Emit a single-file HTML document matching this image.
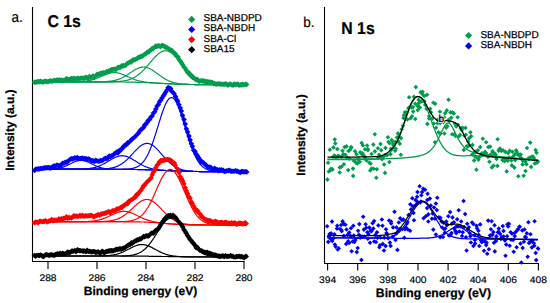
<!DOCTYPE html>
<html><head><meta charset="utf-8"><style>
html,body{margin:0;padding:0;background:#fff;}
body{width:550px;height:303px;overflow:hidden;}
svg{display:block;}
text{font-family:"Liberation Sans",sans-serif;fill:#000;text-rendering:geometricPrecision;}
.tk{font-size:9.5px;stroke:#000;stroke-width:0.15px;}
.lg{font-size:10px;stroke:#000;stroke-width:0.25px;}
.ax{font-size:12px;font-weight:bold;stroke:#000;stroke-width:0.25px;}
.ttl{font-size:15.5px;font-weight:bold;stroke:#000;stroke-width:0.2px;}
.pl{font-size:13.5px;stroke:#000;stroke-width:0.15px;}
</style></head><body>
<svg width="550" height="303" viewBox="0 0 550 303">
<g stroke="#000" stroke-width="1.1" fill="none">
<line x1="32.5" y1="7" x2="32.5" y2="261.5"/>
<line x1="32" y1="261.5" x2="244.5" y2="261.5"/>
<line x1="324.5" y1="7" x2="324.5" y2="263.5"/>
<line x1="324" y1="263.5" x2="539" y2="263.5"/>
</g>
<g stroke="#000" stroke-width="1.1">
<line x1="48.0" y1="261" x2="48.0" y2="269" />
<text transform="translate(48.0 281) scale(1.08 1)" text-anchor="middle" class="tk">288</text>
<line x1="97.0" y1="261" x2="97.0" y2="269" />
<text transform="translate(97.0 281) scale(1.08 1)" text-anchor="middle" class="tk">286</text>
<line x1="146.0" y1="261" x2="146.0" y2="269" />
<text transform="translate(146.0 281) scale(1.08 1)" text-anchor="middle" class="tk">284</text>
<line x1="195.0" y1="261" x2="195.0" y2="269" />
<text transform="translate(195.0 281) scale(1.08 1)" text-anchor="middle" class="tk">282</text>
<line x1="244.0" y1="261" x2="244.0" y2="269" />
<text transform="translate(244.0 281) scale(1.08 1)" text-anchor="middle" class="tk">280</text>
<line x1="327.6" y1="263" x2="327.6" y2="270.5" />
<text transform="translate(327.6 283) scale(1.08 1)" text-anchor="middle" class="tk">394</text>
<line x1="357.7" y1="263" x2="357.7" y2="270.5" />
<text transform="translate(357.7 283) scale(1.08 1)" text-anchor="middle" class="tk">396</text>
<line x1="387.8" y1="263" x2="387.8" y2="270.5" />
<text transform="translate(387.8 283) scale(1.08 1)" text-anchor="middle" class="tk">398</text>
<line x1="418.0" y1="263" x2="418.0" y2="270.5" />
<text transform="translate(418.0 283) scale(1.08 1)" text-anchor="middle" class="tk">400</text>
<line x1="448.1" y1="263" x2="448.1" y2="270.5" />
<text transform="translate(448.1 283) scale(1.08 1)" text-anchor="middle" class="tk">402</text>
<line x1="478.2" y1="263" x2="478.2" y2="270.5" />
<text transform="translate(478.2 283) scale(1.08 1)" text-anchor="middle" class="tk">404</text>
<line x1="508.3" y1="263" x2="508.3" y2="270.5" />
<text transform="translate(508.3 283) scale(1.08 1)" text-anchor="middle" class="tk">406</text>
<line x1="538.4" y1="263" x2="538.4" y2="270.5" />
<text transform="translate(538.4 283) scale(1.08 1)" text-anchor="middle" class="tk">408</text>
</g>
<path d="M34.0 81.8 L34.5 81.8 L35.0 81.8 L35.5 81.8 L36.0 81.8 L36.5 81.8 L37.0 81.8 L37.5 81.8 L38.0 81.8 L38.5 81.8 L39.0 81.8 L39.5 81.8 L40.0 81.8 L40.5 81.8 L41.0 81.8 L41.5 81.8 L42.0 81.8 L42.5 81.8 L43.0 81.8 L43.5 81.8 L44.0 81.8 L44.5 81.8 L45.0 81.8 L45.5 81.8 L46.0 81.8 L46.5 81.8 L47.0 81.8 L47.5 81.8 L48.0 81.8 L48.5 81.8 L49.0 81.8 L49.5 81.8 L50.0 81.8 L50.5 81.8 L51.0 81.8 L51.5 81.8 L52.0 81.8 L52.5 81.8 L53.0 81.8 L53.5 81.8 L54.0 81.8 L54.5 81.8 L55.0 81.8 L55.5 81.8 L56.0 81.8 L56.5 81.8 L57.0 81.8 L57.5 81.8 L58.0 81.8 L58.5 81.8 L59.0 81.8 L59.5 81.8 L60.0 81.8 L60.5 81.8 L61.0 81.8 L61.5 81.8 L62.0 81.8 L62.5 81.8 L63.0 81.8 L63.5 81.8 L64.0 81.8 L64.5 81.8 L65.0 81.8 L65.5 81.8 L66.0 81.8 L66.5 81.8 L67.0 81.8 L67.5 81.8 L68.0 81.8 L68.5 81.8 L69.0 81.8 L69.5 81.8 L70.0 81.8 L70.5 81.8 L71.0 81.8 L71.5 81.8 L72.0 81.8 L72.5 81.8 L73.0 81.8 L73.5 81.8 L74.0 81.8 L74.5 81.8 L75.0 81.8 L75.5 81.8 L76.0 81.8 L76.5 81.8 L77.0 81.8 L77.5 81.8 L78.0 81.8 L78.5 81.8 L79.0 81.8 L79.5 81.8 L80.0 81.8 L80.5 81.8 L81.0 81.8 L81.5 81.8 L82.0 81.8 L82.5 81.8 L83.0 81.8 L83.5 81.8 L84.0 81.8 L84.5 81.8 L85.0 81.8 L85.5 81.8 L86.0 81.8 L86.5 81.8 L87.0 81.8 L87.5 81.8 L88.0 81.8 L88.5 81.8 L89.0 81.8 L89.5 81.8 L90.0 81.8 L90.5 81.8 L91.0 81.8 L91.5 81.8 L92.0 81.8 L92.5 81.8 L93.0 81.8 L93.5 81.8 L94.0 81.8 L94.5 81.8 L95.0 81.8 L95.5 81.8 L96.0 81.8 L96.5 81.8 L97.0 81.8 L97.5 81.8 L98.0 81.8 L98.5 81.8 L99.0 81.8 L99.5 81.8 L100.0 81.8 L100.5 81.8 L101.0 81.8 L101.5 81.8 L102.0 81.8 L102.5 81.8 L103.0 81.9 L103.5 81.9 L104.0 81.9 L104.5 81.9 L105.0 81.9 L105.5 81.9 L106.0 81.9 L106.5 81.9 L107.0 81.9 L107.5 81.9 L108.0 81.9 L108.5 81.9 L109.0 81.9 L109.5 81.9 L110.0 81.9 L110.5 81.9 L111.0 81.9 L111.5 81.9 L112.0 81.9 L112.5 81.9 L113.0 81.9 L113.5 81.9 L114.0 81.9 L114.5 81.9 L115.0 81.9 L115.5 81.9 L116.0 81.9 L116.5 81.9 L117.0 81.9 L117.5 81.9 L118.0 81.9 L118.5 81.9 L119.0 82.0 L119.5 82.0 L120.0 82.0 L120.5 82.0 L121.0 82.0 L121.5 82.0 L122.0 82.0 L122.5 82.0 L123.0 82.0 L123.5 82.0 L124.0 82.0 L124.5 82.0 L125.0 82.0 L125.5 82.0 L126.0 82.0 L126.5 82.1 L127.0 82.1 L127.5 82.1 L128.0 82.1 L128.5 82.1 L129.0 82.1 L129.5 82.1 L130.0 82.1 L130.5 82.1 L131.0 82.1 L131.5 82.1 L132.0 82.2 L132.5 82.2 L133.0 82.2 L133.5 82.2 L134.0 82.2 L134.5 82.2 L135.0 82.2 L135.5 82.2 L136.0 82.3 L136.5 82.3 L137.0 82.3 L137.5 82.3 L138.0 82.3 L138.5 82.3 L139.0 82.3 L139.5 82.4 L140.0 82.4 L140.5 82.4 L141.0 82.4 L141.5 82.4 L142.0 82.4 L142.5 82.5 L143.0 82.5 L143.5 82.5 L144.0 82.5 L144.5 82.5 L145.0 82.6 L145.5 82.6 L146.0 82.6 L146.5 82.6 L147.0 82.6 L147.5 82.7 L148.0 82.7 L148.5 82.7 L149.0 82.7 L149.5 82.8 L150.0 82.8 L150.5 82.8 L151.0 82.8 L151.5 82.9 L152.0 82.9 L152.5 82.9 L153.0 82.9 L153.5 83.0 L154.0 83.0 L154.5 83.0 L155.0 83.0 L155.5 83.1 L156.0 83.1 L156.5 83.1 L157.0 83.1 L157.5 83.2 L158.0 83.2 L158.5 83.2 L159.0 83.2 L159.5 83.3 L160.0 83.3 L160.5 83.3 L161.0 83.4 L161.5 83.4 L162.0 83.4 L162.5 83.4 L163.0 83.5 L163.5 83.5 L164.0 83.5 L164.5 83.5 L165.0 83.6 L165.5 83.6 L166.0 83.6 L166.5 83.6 L167.0 83.7 L167.5 83.7 L168.0 83.7 L168.5 83.7 L169.0 83.8 L169.5 83.8 L170.0 83.8 L170.5 83.8 L171.0 83.9 L171.5 83.9 L172.0 83.9 L172.5 83.9 L173.0 84.0 L173.5 84.0 L174.0 84.0 L174.5 84.0 L175.0 84.0 L175.5 84.1 L176.0 84.1 L176.5 84.1 L177.0 84.1 L177.5 84.1 L178.0 84.2 L178.5 84.2 L179.0 84.2 L179.5 84.2 L180.0 84.2 L180.5 84.2 L181.0 84.3 L181.5 84.3 L182.0 84.3 L182.5 84.3 L183.0 84.3 L183.5 84.3 L184.0 84.3 L184.5 84.4 L185.0 84.4 L185.5 84.4 L186.0 84.4 L186.5 84.4 L187.0 84.4 L187.5 84.4 L188.0 84.4 L188.5 84.5 L189.0 84.5 L189.5 84.5 L190.0 84.5 L190.5 84.5 L191.0 84.5 L191.5 84.5 L192.0 84.5 L192.5 84.5 L193.0 84.5 L193.5 84.5 L194.0 84.6 L194.5 84.6 L195.0 84.6 L195.5 84.6 L196.0 84.6 L196.5 84.6 L197.0 84.6 L197.5 84.6 L198.0 84.6 L198.5 84.6 L199.0 84.6 L199.5 84.6 L200.0 84.6 L200.5 84.6 L201.0 84.6 L201.5 84.7 L202.0 84.7 L202.5 84.7 L203.0 84.7 L203.5 84.7 L204.0 84.7 L204.5 84.7 L205.0 84.7 L205.5 84.7 L206.0 84.7 L206.5 84.7 L207.0 84.7 L207.5 84.7 L208.0 84.7 L208.5 84.7 L209.0 84.7 L209.5 84.7 L210.0 84.7 L210.5 84.7 L211.0 84.7 L211.5 84.7 L212.0 84.7 L212.5 84.7 L213.0 84.7 L213.5 84.7 L214.0 84.7 L214.5 84.7 L215.0 84.7 L215.5 84.7 L216.0 84.7 L216.5 84.7 L217.0 84.7 L217.5 84.8 L218.0 84.8 L218.5 84.8 L219.0 84.8 L219.5 84.8 L220.0 84.8 L220.5 84.8 L221.0 84.8 L221.5 84.8 L222.0 84.8 L222.5 84.8 L223.0 84.8 L223.5 84.8 L224.0 84.8 L224.5 84.8 L225.0 84.8 L225.5 84.8 L226.0 84.8 L226.5 84.8 L227.0 84.8 L227.5 84.8 L228.0 84.8 L228.5 84.8 L229.0 84.8 L229.5 84.8 L230.0 84.8 L230.5 84.8 L231.0 84.8 L231.5 84.8 L232.0 84.8 L232.5 84.8 L233.0 84.8 L233.5 84.8 L234.0 84.8 L234.5 84.8 L235.0 84.8 L235.5 84.8 L236.0 84.8 L236.5 84.8 L237.0 84.8 L237.5 84.8 L238.0 84.8 L238.5 84.8 L239.0 84.8 L239.5 84.8 L240.0 84.8 L240.5 84.8 L241.0 84.8 L241.5 84.8 L242.0 84.8 L242.5 84.8 L243.0 84.8 L243.5 84.8 L244.0 84.8 L244.5 84.8 L245.0 84.8 L245.5 84.8 L246.0 84.8" fill="none" stroke="#009d4c" stroke-width="1.2"/>
<path d="M34.0 81.8 L34.5 81.8 L35.0 81.8 L35.5 81.8 L36.0 81.8 L36.5 81.8 L37.0 81.8 L37.5 81.8 L38.0 81.8 L38.5 81.8 L39.0 81.8 L39.5 81.8 L40.0 81.8 L40.5 81.8 L41.0 81.8 L41.5 81.8 L42.0 81.8 L42.5 81.8 L43.0 81.8 L43.5 81.8 L44.0 81.8 L44.5 81.8 L45.0 81.8 L45.5 81.8 L46.0 81.8 L46.5 81.8 L47.0 81.8 L47.5 81.8 L48.0 81.8 L48.5 81.8 L49.0 81.8 L49.5 81.8 L50.0 81.8 L50.5 81.8 L51.0 81.8 L51.5 81.8 L52.0 81.8 L52.5 81.8 L53.0 81.8 L53.5 81.8 L54.0 81.8 L54.5 81.8 L55.0 81.8 L55.5 81.8 L56.0 81.8 L56.5 81.8 L57.0 81.8 L57.5 81.8 L58.0 81.8 L58.5 81.8 L59.0 81.8 L59.5 81.8 L60.0 81.8 L60.5 81.8 L61.0 81.8 L61.5 81.8 L62.0 81.8 L62.5 81.8 L63.0 81.8 L63.5 81.8 L64.0 81.8 L64.5 81.8 L65.0 81.8 L65.5 81.8 L66.0 81.8 L66.5 81.8 L67.0 81.8 L67.5 81.8 L68.0 81.8 L68.5 81.8 L69.0 81.8 L69.5 81.8 L70.0 81.8 L70.5 81.8 L71.0 81.8 L71.5 81.8 L72.0 81.8 L72.5 81.8 L73.0 81.8 L73.5 81.8 L74.0 81.7 L74.5 81.7 L75.0 81.7 L75.5 81.7 L76.0 81.7 L76.5 81.7 L77.0 81.7 L77.5 81.7 L78.0 81.7 L78.5 81.6 L79.0 81.6 L79.5 81.6 L80.0 81.6 L80.5 81.5 L81.0 81.5 L81.5 81.5 L82.0 81.5 L82.5 81.4 L83.0 81.4 L83.5 81.3 L84.0 81.3 L84.5 81.2 L85.0 81.2 L85.5 81.1 L86.0 81.1 L86.5 81.0 L87.0 80.9 L87.5 80.8 L88.0 80.7 L88.5 80.7 L89.0 80.6 L89.5 80.5 L90.0 80.4 L90.5 80.2 L91.0 80.1 L91.5 80.0 L92.0 79.9 L92.5 79.7 L93.0 79.6 L93.5 79.4 L94.0 79.3 L94.5 79.1 L95.0 78.9 L95.5 78.8 L96.0 78.6 L96.5 78.4 L97.0 78.2 L97.5 78.0 L98.0 77.8 L98.5 77.6 L99.0 77.4 L99.5 77.2 L100.0 77.0 L100.5 76.8 L101.0 76.5 L101.5 76.3 L102.0 76.1 L102.5 75.9 L103.0 75.7 L103.5 75.4 L104.0 75.2 L104.5 75.0 L105.0 74.8 L105.5 74.6 L106.0 74.4 L106.5 74.2 L107.0 74.0 L107.5 73.9 L108.0 73.7 L108.5 73.6 L109.0 73.4 L109.5 73.3 L110.0 73.1 L110.5 73.0 L111.0 72.9 L111.5 72.8 L112.0 72.8 L112.5 72.7 L113.0 72.7 L113.5 72.6 L114.0 72.6 L114.5 72.6 L115.0 72.6 L115.5 72.6 L116.0 72.7 L116.5 72.7 L117.0 72.8 L117.5 72.9 L118.0 73.0 L118.5 73.1 L119.0 73.2 L119.5 73.3 L120.0 73.5 L120.5 73.6 L121.0 73.8 L121.5 74.0 L122.0 74.2 L122.5 74.4 L123.0 74.6 L123.5 74.8 L124.0 75.0 L124.5 75.2 L125.0 75.4 L125.5 75.6 L126.0 75.9 L126.5 76.1 L127.0 76.3 L127.5 76.5 L128.0 76.8 L128.5 77.0 L129.0 77.2 L129.5 77.5 L130.0 77.7 L130.5 77.9 L131.0 78.1 L131.5 78.3 L132.0 78.5 L132.5 78.7 L133.0 78.9 L133.5 79.1 L134.0 79.3 L134.5 79.5 L135.0 79.7 L135.5 79.9 L136.0 80.0 L136.5 80.2 L137.0 80.3 L137.5 80.5 L138.0 80.6 L138.5 80.8 L139.0 80.9 L139.5 81.0 L140.0 81.1 L140.5 81.2 L141.0 81.3 L141.5 81.4 L142.0 81.5 L142.5 81.6 L143.0 81.7 L143.5 81.8 L144.0 81.9 L144.5 82.0 L145.0 82.0 L145.5 82.1 L146.0 82.2 L146.5 82.2 L147.0 82.3 L147.5 82.3 L148.0 82.4 L148.5 82.5 L149.0 82.5 L149.5 82.5 L150.0 82.6 L150.5 82.6 L151.0 82.7 L151.5 82.7 L152.0 82.8 L152.5 82.8 L153.0 82.8 L153.5 82.9 L154.0 82.9 L154.5 82.9 L155.0 83.0 L155.5 83.0 L156.0 83.0 L156.5 83.1 L157.0 83.1 L157.5 83.1 L158.0 83.2 L158.5 83.2 L159.0 83.2 L159.5 83.3 L160.0 83.3 L160.5 83.3 L161.0 83.3 L161.5 83.4 L162.0 83.4 L162.5 83.4 L163.0 83.5 L163.5 83.5 L164.0 83.5 L164.5 83.5 L165.0 83.6 L165.5 83.6 L166.0 83.6 L166.5 83.6 L167.0 83.7 L167.5 83.7 L168.0 83.7 L168.5 83.7 L169.0 83.8 L169.5 83.8 L170.0 83.8 L170.5 83.8 L171.0 83.9 L171.5 83.9 L172.0 83.9 L172.5 83.9 L173.0 84.0 L173.5 84.0 L174.0 84.0 L174.5 84.0 L175.0 84.0 L175.5 84.1 L176.0 84.1 L176.5 84.1 L177.0 84.1 L177.5 84.1 L178.0 84.2 L178.5 84.2 L179.0 84.2 L179.5 84.2 L180.0 84.2 L180.5 84.2 L181.0 84.3 L181.5 84.3 L182.0 84.3 L182.5 84.3 L183.0 84.3 L183.5 84.3 L184.0 84.3 L184.5 84.4 L185.0 84.4 L185.5 84.4 L186.0 84.4 L186.5 84.4 L187.0 84.4 L187.5 84.4 L188.0 84.4 L188.5 84.5 L189.0 84.5 L189.5 84.5 L190.0 84.5 L190.5 84.5 L191.0 84.5 L191.5 84.5 L192.0 84.5 L192.5 84.5 L193.0 84.5 L193.5 84.5 L194.0 84.6 L194.5 84.6 L195.0 84.6 L195.5 84.6 L196.0 84.6 L196.5 84.6 L197.0 84.6 L197.5 84.6 L198.0 84.6 L198.5 84.6 L199.0 84.6 L199.5 84.6 L200.0 84.6 L200.5 84.6 L201.0 84.6 L201.5 84.7 L202.0 84.7 L202.5 84.7 L203.0 84.7 L203.5 84.7 L204.0 84.7 L204.5 84.7 L205.0 84.7 L205.5 84.7 L206.0 84.7 L206.5 84.7 L207.0 84.7 L207.5 84.7 L208.0 84.7 L208.5 84.7 L209.0 84.7 L209.5 84.7 L210.0 84.7 L210.5 84.7 L211.0 84.7 L211.5 84.7 L212.0 84.7 L212.5 84.7 L213.0 84.7 L213.5 84.7 L214.0 84.7 L214.5 84.7 L215.0 84.7 L215.5 84.7 L216.0 84.7 L216.5 84.7 L217.0 84.7 L217.5 84.8 L218.0 84.8 L218.5 84.8 L219.0 84.8 L219.5 84.8 L220.0 84.8 L220.5 84.8 L221.0 84.8 L221.5 84.8 L222.0 84.8 L222.5 84.8 L223.0 84.8 L223.5 84.8 L224.0 84.8 L224.5 84.8 L225.0 84.8 L225.5 84.8 L226.0 84.8 L226.5 84.8 L227.0 84.8 L227.5 84.8 L228.0 84.8 L228.5 84.8 L229.0 84.8 L229.5 84.8 L230.0 84.8 L230.5 84.8 L231.0 84.8 L231.5 84.8 L232.0 84.8 L232.5 84.8 L233.0 84.8 L233.5 84.8 L234.0 84.8 L234.5 84.8 L235.0 84.8 L235.5 84.8 L236.0 84.8 L236.5 84.8 L237.0 84.8 L237.5 84.8 L238.0 84.8 L238.5 84.8 L239.0 84.8 L239.5 84.8 L240.0 84.8 L240.5 84.8 L241.0 84.8 L241.5 84.8 L242.0 84.8 L242.5 84.8 L243.0 84.8 L243.5 84.8 L244.0 84.8 L244.5 84.8 L245.0 84.8 L245.5 84.8 L246.0 84.8" fill="none" stroke="#009d4c" stroke-width="1.2"/>
<path d="M34.0 81.8 L34.5 81.8 L35.0 81.8 L35.5 81.8 L36.0 81.8 L36.5 81.8 L37.0 81.8 L37.5 81.8 L38.0 81.8 L38.5 81.8 L39.0 81.8 L39.5 81.8 L40.0 81.8 L40.5 81.8 L41.0 81.8 L41.5 81.8 L42.0 81.8 L42.5 81.8 L43.0 81.8 L43.5 81.8 L44.0 81.8 L44.5 81.8 L45.0 81.8 L45.5 81.8 L46.0 81.8 L46.5 81.8 L47.0 81.8 L47.5 81.8 L48.0 81.8 L48.5 81.8 L49.0 81.8 L49.5 81.8 L50.0 81.8 L50.5 81.8 L51.0 81.8 L51.5 81.8 L52.0 81.8 L52.5 81.8 L53.0 81.8 L53.5 81.8 L54.0 81.8 L54.5 81.8 L55.0 81.8 L55.5 81.8 L56.0 81.8 L56.5 81.8 L57.0 81.8 L57.5 81.8 L58.0 81.8 L58.5 81.8 L59.0 81.8 L59.5 81.8 L60.0 81.8 L60.5 81.8 L61.0 81.8 L61.5 81.8 L62.0 81.8 L62.5 81.8 L63.0 81.8 L63.5 81.8 L64.0 81.8 L64.5 81.8 L65.0 81.8 L65.5 81.8 L66.0 81.8 L66.5 81.8 L67.0 81.8 L67.5 81.8 L68.0 81.8 L68.5 81.8 L69.0 81.8 L69.5 81.8 L70.0 81.8 L70.5 81.8 L71.0 81.8 L71.5 81.8 L72.0 81.8 L72.5 81.8 L73.0 81.8 L73.5 81.8 L74.0 81.8 L74.5 81.8 L75.0 81.8 L75.5 81.8 L76.0 81.8 L76.5 81.8 L77.0 81.8 L77.5 81.8 L78.0 81.8 L78.5 81.8 L79.0 81.8 L79.5 81.8 L80.0 81.8 L80.5 81.8 L81.0 81.8 L81.5 81.8 L82.0 81.8 L82.5 81.8 L83.0 81.8 L83.5 81.8 L84.0 81.8 L84.5 81.8 L85.0 81.8 L85.5 81.8 L86.0 81.8 L86.5 81.8 L87.0 81.8 L87.5 81.8 L88.0 81.8 L88.5 81.8 L89.0 81.8 L89.5 81.8 L90.0 81.8 L90.5 81.8 L91.0 81.8 L91.5 81.8 L92.0 81.8 L92.5 81.8 L93.0 81.8 L93.5 81.8 L94.0 81.8 L94.5 81.8 L95.0 81.8 L95.5 81.8 L96.0 81.8 L96.5 81.8 L97.0 81.8 L97.5 81.8 L98.0 81.8 L98.5 81.8 L99.0 81.8 L99.5 81.8 L100.0 81.8 L100.5 81.7 L101.0 81.7 L101.5 81.7 L102.0 81.7 L102.5 81.7 L103.0 81.7 L103.5 81.7 L104.0 81.7 L104.5 81.6 L105.0 81.6 L105.5 81.6 L106.0 81.6 L106.5 81.5 L107.0 81.5 L107.5 81.4 L108.0 81.4 L108.5 81.4 L109.0 81.3 L109.5 81.3 L110.0 81.2 L110.5 81.1 L111.0 81.1 L111.5 81.0 L112.0 80.9 L112.5 80.8 L113.0 80.8 L113.5 80.7 L114.0 80.6 L114.5 80.4 L115.0 80.3 L115.5 80.2 L116.0 80.1 L116.5 79.9 L117.0 79.8 L117.5 79.6 L118.0 79.5 L118.5 79.3 L119.0 79.1 L119.5 78.9 L120.0 78.7 L120.5 78.5 L121.0 78.3 L121.5 78.0 L122.0 77.8 L122.5 77.6 L123.0 77.3 L123.5 77.0 L124.0 76.8 L124.5 76.5 L125.0 76.2 L125.5 75.9 L126.0 75.6 L126.5 75.3 L127.0 75.0 L127.5 74.7 L128.0 74.3 L128.5 74.0 L129.0 73.7 L129.5 73.3 L130.0 73.0 L130.5 72.7 L131.0 72.3 L131.5 72.0 L132.0 71.7 L132.5 71.3 L133.0 71.0 L133.5 70.7 L134.0 70.4 L134.5 70.1 L135.0 69.8 L135.5 69.5 L136.0 69.2 L136.5 69.0 L137.0 68.7 L137.5 68.5 L138.0 68.3 L138.5 68.1 L139.0 67.9 L139.5 67.7 L140.0 67.5 L140.5 67.4 L141.0 67.3 L141.5 67.2 L142.0 67.1 L142.5 67.1 L143.0 67.0 L143.5 67.0 L144.0 67.0 L144.5 67.1 L145.0 67.1 L145.5 67.2 L146.0 67.3 L146.5 67.4 L147.0 67.5 L147.5 67.7 L148.0 67.9 L148.5 68.0 L149.0 68.3 L149.5 68.5 L150.0 68.7 L150.5 69.0 L151.0 69.3 L151.5 69.5 L152.0 69.8 L152.5 70.2 L153.0 70.5 L153.5 70.8 L154.0 71.2 L154.5 71.5 L155.0 71.9 L155.5 72.2 L156.0 72.6 L156.5 73.0 L157.0 73.3 L157.5 73.7 L158.0 74.1 L158.5 74.4 L159.0 74.8 L159.5 75.2 L160.0 75.5 L160.5 75.9 L161.0 76.3 L161.5 76.6 L162.0 77.0 L162.5 77.3 L163.0 77.6 L163.5 78.0 L164.0 78.3 L164.5 78.6 L165.0 78.9 L165.5 79.2 L166.0 79.4 L166.5 79.7 L167.0 80.0 L167.5 80.2 L168.0 80.5 L168.5 80.7 L169.0 80.9 L169.5 81.1 L170.0 81.3 L170.5 81.5 L171.0 81.7 L171.5 81.9 L172.0 82.1 L172.5 82.2 L173.0 82.4 L173.5 82.5 L174.0 82.6 L174.5 82.8 L175.0 82.9 L175.5 83.0 L176.0 83.1 L176.5 83.2 L177.0 83.3 L177.5 83.4 L178.0 83.5 L178.5 83.6 L179.0 83.6 L179.5 83.7 L180.0 83.8 L180.5 83.8 L181.0 83.9 L181.5 83.9 L182.0 84.0 L182.5 84.0 L183.0 84.1 L183.5 84.1 L184.0 84.1 L184.5 84.2 L185.0 84.2 L185.5 84.2 L186.0 84.3 L186.5 84.3 L187.0 84.3 L187.5 84.3 L188.0 84.4 L188.5 84.4 L189.0 84.4 L189.5 84.4 L190.0 84.4 L190.5 84.5 L191.0 84.5 L191.5 84.5 L192.0 84.5 L192.5 84.5 L193.0 84.5 L193.5 84.5 L194.0 84.5 L194.5 84.5 L195.0 84.6 L195.5 84.6 L196.0 84.6 L196.5 84.6 L197.0 84.6 L197.5 84.6 L198.0 84.6 L198.5 84.6 L199.0 84.6 L199.5 84.6 L200.0 84.6 L200.5 84.6 L201.0 84.6 L201.5 84.7 L202.0 84.7 L202.5 84.7 L203.0 84.7 L203.5 84.7 L204.0 84.7 L204.5 84.7 L205.0 84.7 L205.5 84.7 L206.0 84.7 L206.5 84.7 L207.0 84.7 L207.5 84.7 L208.0 84.7 L208.5 84.7 L209.0 84.7 L209.5 84.7 L210.0 84.7 L210.5 84.7 L211.0 84.7 L211.5 84.7 L212.0 84.7 L212.5 84.7 L213.0 84.7 L213.5 84.7 L214.0 84.7 L214.5 84.7 L215.0 84.7 L215.5 84.7 L216.0 84.7 L216.5 84.7 L217.0 84.7 L217.5 84.8 L218.0 84.8 L218.5 84.8 L219.0 84.8 L219.5 84.8 L220.0 84.8 L220.5 84.8 L221.0 84.8 L221.5 84.8 L222.0 84.8 L222.5 84.8 L223.0 84.8 L223.5 84.8 L224.0 84.8 L224.5 84.8 L225.0 84.8 L225.5 84.8 L226.0 84.8 L226.5 84.8 L227.0 84.8 L227.5 84.8 L228.0 84.8 L228.5 84.8 L229.0 84.8 L229.5 84.8 L230.0 84.8 L230.5 84.8 L231.0 84.8 L231.5 84.8 L232.0 84.8 L232.5 84.8 L233.0 84.8 L233.5 84.8 L234.0 84.8 L234.5 84.8 L235.0 84.8 L235.5 84.8 L236.0 84.8 L236.5 84.8 L237.0 84.8 L237.5 84.8 L238.0 84.8 L238.5 84.8 L239.0 84.8 L239.5 84.8 L240.0 84.8 L240.5 84.8 L241.0 84.8 L241.5 84.8 L242.0 84.8 L242.5 84.8 L243.0 84.8 L243.5 84.8 L244.0 84.8 L244.5 84.8 L245.0 84.8 L245.5 84.8 L246.0 84.8" fill="none" stroke="#009d4c" stroke-width="1.2"/>
<path d="M34.0 81.8 L34.5 81.8 L35.0 81.8 L35.5 81.8 L36.0 81.8 L36.5 81.8 L37.0 81.8 L37.5 81.8 L38.0 81.8 L38.5 81.8 L39.0 81.8 L39.5 81.8 L40.0 81.8 L40.5 81.8 L41.0 81.8 L41.5 81.8 L42.0 81.8 L42.5 81.8 L43.0 81.8 L43.5 81.8 L44.0 81.8 L44.5 81.8 L45.0 81.8 L45.5 81.8 L46.0 81.8 L46.5 81.8 L47.0 81.8 L47.5 81.8 L48.0 81.8 L48.5 81.8 L49.0 81.8 L49.5 81.8 L50.0 81.8 L50.5 81.8 L51.0 81.8 L51.5 81.8 L52.0 81.8 L52.5 81.8 L53.0 81.8 L53.5 81.8 L54.0 81.8 L54.5 81.8 L55.0 81.8 L55.5 81.8 L56.0 81.8 L56.5 81.8 L57.0 81.8 L57.5 81.8 L58.0 81.8 L58.5 81.8 L59.0 81.8 L59.5 81.8 L60.0 81.8 L60.5 81.8 L61.0 81.8 L61.5 81.8 L62.0 81.8 L62.5 81.8 L63.0 81.8 L63.5 81.8 L64.0 81.8 L64.5 81.8 L65.0 81.8 L65.5 81.8 L66.0 81.8 L66.5 81.8 L67.0 81.8 L67.5 81.8 L68.0 81.8 L68.5 81.8 L69.0 81.8 L69.5 81.8 L70.0 81.8 L70.5 81.8 L71.0 81.8 L71.5 81.8 L72.0 81.8 L72.5 81.8 L73.0 81.8 L73.5 81.8 L74.0 81.8 L74.5 81.8 L75.0 81.8 L75.5 81.8 L76.0 81.8 L76.5 81.8 L77.0 81.8 L77.5 81.8 L78.0 81.8 L78.5 81.8 L79.0 81.8 L79.5 81.8 L80.0 81.8 L80.5 81.8 L81.0 81.8 L81.5 81.8 L82.0 81.8 L82.5 81.8 L83.0 81.8 L83.5 81.8 L84.0 81.8 L84.5 81.8 L85.0 81.8 L85.5 81.8 L86.0 81.8 L86.5 81.8 L87.0 81.8 L87.5 81.8 L88.0 81.8 L88.5 81.8 L89.0 81.8 L89.5 81.8 L90.0 81.8 L90.5 81.8 L91.0 81.8 L91.5 81.8 L92.0 81.8 L92.5 81.8 L93.0 81.8 L93.5 81.8 L94.0 81.8 L94.5 81.8 L95.0 81.8 L95.5 81.8 L96.0 81.8 L96.5 81.8 L97.0 81.8 L97.5 81.8 L98.0 81.8 L98.5 81.8 L99.0 81.8 L99.5 81.8 L100.0 81.8 L100.5 81.8 L101.0 81.8 L101.5 81.8 L102.0 81.8 L102.5 81.8 L103.0 81.8 L103.5 81.8 L104.0 81.8 L104.5 81.8 L105.0 81.8 L105.5 81.8 L106.0 81.8 L106.5 81.8 L107.0 81.8 L107.5 81.8 L108.0 81.8 L108.5 81.8 L109.0 81.8 L109.5 81.8 L110.0 81.8 L110.5 81.8 L111.0 81.8 L111.5 81.8 L112.0 81.8 L112.5 81.8 L113.0 81.8 L113.5 81.7 L114.0 81.7 L114.5 81.7 L115.0 81.7 L115.5 81.7 L116.0 81.7 L116.5 81.6 L117.0 81.6 L117.5 81.6 L118.0 81.5 L118.5 81.5 L119.0 81.5 L119.5 81.4 L120.0 81.4 L120.5 81.4 L121.0 81.3 L121.5 81.2 L122.0 81.2 L122.5 81.1 L123.0 81.1 L123.5 81.0 L124.0 80.9 L124.5 80.8 L125.0 80.7 L125.5 80.6 L126.0 80.5 L126.5 80.4 L127.0 80.3 L127.5 80.2 L128.0 80.0 L128.5 79.9 L129.0 79.7 L129.5 79.6 L130.0 79.4 L130.5 79.2 L131.0 79.0 L131.5 78.8 L132.0 78.6 L132.5 78.4 L133.0 78.1 L133.5 77.9 L134.0 77.6 L134.5 77.3 L135.0 77.0 L135.5 76.7 L136.0 76.4 L136.5 76.1 L137.0 75.8 L137.5 75.4 L138.0 75.0 L138.5 74.7 L139.0 74.3 L139.5 73.8 L140.0 73.4 L140.5 73.0 L141.0 72.5 L141.5 72.1 L142.0 71.6 L142.5 71.1 L143.0 70.6 L143.5 70.1 L144.0 69.6 L144.5 69.0 L145.0 68.5 L145.5 67.9 L146.0 67.4 L146.5 66.8 L147.0 66.2 L147.5 65.7 L148.0 65.1 L148.5 64.5 L149.0 63.9 L149.5 63.3 L150.0 62.7 L150.5 62.1 L151.0 61.5 L151.5 61.0 L152.0 60.4 L152.5 59.8 L153.0 59.2 L153.5 58.7 L154.0 58.1 L154.5 57.6 L155.0 57.0 L155.5 56.5 L156.0 56.0 L156.5 55.5 L157.0 55.1 L157.5 54.6 L158.0 54.2 L158.5 53.8 L159.0 53.4 L159.5 53.0 L160.0 52.7 L160.5 52.4 L161.0 52.1 L161.5 51.8 L162.0 51.6 L162.5 51.4 L163.0 51.2 L163.5 51.1 L164.0 51.0 L164.5 50.9 L165.0 50.8 L165.5 50.8 L166.0 50.8 L166.5 50.9 L167.0 50.9 L167.5 51.0 L168.0 51.2 L168.5 51.3 L169.0 51.5 L169.5 51.8 L170.0 52.0 L170.5 52.3 L171.0 52.6 L171.5 52.9 L172.0 53.3 L172.5 53.7 L173.0 54.1 L173.5 54.5 L174.0 55.0 L174.5 55.5 L175.0 56.0 L175.5 56.5 L176.0 57.0 L176.5 57.6 L177.0 58.1 L177.5 58.7 L178.0 59.3 L178.5 59.9 L179.0 60.5 L179.5 61.1 L180.0 61.7 L180.5 62.3 L181.0 63.0 L181.5 63.6 L182.0 64.2 L182.5 64.9 L183.0 65.5 L183.5 66.1 L184.0 66.7 L184.5 67.4 L185.0 68.0 L185.5 68.6 L186.0 69.2 L186.5 69.8 L187.0 70.4 L187.5 70.9 L188.0 71.5 L188.5 72.0 L189.0 72.6 L189.5 73.1 L190.0 73.6 L190.5 74.1 L191.0 74.6 L191.5 75.1 L192.0 75.6 L192.5 76.0 L193.0 76.4 L193.5 76.9 L194.0 77.3 L194.5 77.7 L195.0 78.0 L195.5 78.4 L196.0 78.8 L196.5 79.1 L197.0 79.4 L197.5 79.7 L198.0 80.0 L198.5 80.3 L199.0 80.6 L199.5 80.8 L200.0 81.1 L200.5 81.3 L201.0 81.5 L201.5 81.7 L202.0 81.9 L202.5 82.1 L203.0 82.3 L203.5 82.5 L204.0 82.6 L204.5 82.8 L205.0 82.9 L205.5 83.0 L206.0 83.2 L206.5 83.3 L207.0 83.4 L207.5 83.5 L208.0 83.6 L208.5 83.7 L209.0 83.8 L209.5 83.8 L210.0 83.9 L210.5 84.0 L211.0 84.1 L211.5 84.1 L212.0 84.2 L212.5 84.2 L213.0 84.3 L213.5 84.3 L214.0 84.3 L214.5 84.4 L215.0 84.4 L215.5 84.4 L216.0 84.5 L216.5 84.5 L217.0 84.5 L217.5 84.5 L218.0 84.6 L218.5 84.6 L219.0 84.6 L219.5 84.6 L220.0 84.6 L220.5 84.7 L221.0 84.7 L221.5 84.7 L222.0 84.7 L222.5 84.7 L223.0 84.7 L223.5 84.7 L224.0 84.7 L224.5 84.7 L225.0 84.7 L225.5 84.7 L226.0 84.7 L226.5 84.7 L227.0 84.7 L227.5 84.8 L228.0 84.8 L228.5 84.8 L229.0 84.8 L229.5 84.8 L230.0 84.8 L230.5 84.8 L231.0 84.8 L231.5 84.8 L232.0 84.8 L232.5 84.8 L233.0 84.8 L233.5 84.8 L234.0 84.8 L234.5 84.8 L235.0 84.8 L235.5 84.8 L236.0 84.8 L236.5 84.8 L237.0 84.8 L237.5 84.8 L238.0 84.8 L238.5 84.8 L239.0 84.8 L239.5 84.8 L240.0 84.8 L240.5 84.8 L241.0 84.8 L241.5 84.8 L242.0 84.8 L242.5 84.8 L243.0 84.8 L243.5 84.8 L244.0 84.8 L244.5 84.8 L245.0 84.8 L245.5 84.8 L246.0 84.8" fill="none" stroke="#009d4c" stroke-width="1.2"/>
<path d="M34.4 79.4l2.8 2.8l-2.8 2.8l-2.8-2.8zM35.6 79.5l2.8 2.8l-2.8 2.8l-2.8-2.8zM37.1 79.1l2.8 2.8l-2.8 2.8l-2.8-2.8zM38.1 78.8l2.8 2.8l-2.8 2.8l-2.8-2.8zM39.4 78.9l2.8 2.8l-2.8 2.8l-2.8-2.8zM40.6 78.6l2.8 2.8l-2.8 2.8l-2.8-2.8zM41.8 79.0l2.8 2.8l-2.8 2.8l-2.8-2.8zM43.0 79.5l2.8 2.8l-2.8 2.8l-2.8-2.8zM44.4 78.6l2.8 2.8l-2.8 2.8l-2.8-2.8zM45.5 78.5l2.8 2.8l-2.8 2.8l-2.8-2.8zM46.7 78.9l2.8 2.8l-2.8 2.8l-2.8-2.8zM48.0 78.8l2.8 2.8l-2.8 2.8l-2.8-2.8zM49.3 78.5l2.8 2.8l-2.8 2.8l-2.8-2.8zM50.5 78.0l2.8 2.8l-2.8 2.8l-2.8-2.8zM51.7 78.3l2.8 2.8l-2.8 2.8l-2.8-2.8zM52.8 78.5l2.8 2.8l-2.8 2.8l-2.8-2.8zM54.0 77.5l2.8 2.8l-2.8 2.8l-2.8-2.8zM55.4 77.9l2.8 2.8l-2.8 2.8l-2.8-2.8zM56.6 77.2l2.8 2.8l-2.8 2.8l-2.8-2.8zM57.8 77.4l2.8 2.8l-2.8 2.8l-2.8-2.8zM59.1 77.1l2.8 2.8l-2.8 2.8l-2.8-2.8zM60.3 77.7l2.8 2.8l-2.8 2.8l-2.8-2.8zM61.5 77.2l2.8 2.8l-2.8 2.8l-2.8-2.8zM62.8 77.8l2.8 2.8l-2.8 2.8l-2.8-2.8zM63.9 77.6l2.8 2.8l-2.8 2.8l-2.8-2.8zM65.3 77.1l2.8 2.8l-2.8 2.8l-2.8-2.8zM66.2 75.9l2.8 2.8l-2.8 2.8l-2.8-2.8zM67.7 76.6l2.8 2.8l-2.8 2.8l-2.8-2.8zM68.8 76.7l2.8 2.8l-2.8 2.8l-2.8-2.8zM70.1 76.6l2.8 2.8l-2.8 2.8l-2.8-2.8zM71.4 75.7l2.8 2.8l-2.8 2.8l-2.8-2.8zM72.6 76.1l2.8 2.8l-2.8 2.8l-2.8-2.8zM73.6 75.7l2.8 2.8l-2.8 2.8l-2.8-2.8zM74.8 75.7l2.8 2.8l-2.8 2.8l-2.8-2.8zM76.2 76.4l2.8 2.8l-2.8 2.8l-2.8-2.8zM77.3 75.4l2.8 2.8l-2.8 2.8l-2.8-2.8zM78.6 75.7l2.8 2.8l-2.8 2.8l-2.8-2.8zM79.9 76.0l2.8 2.8l-2.8 2.8l-2.8-2.8zM80.9 75.2l2.8 2.8l-2.8 2.8l-2.8-2.8zM82.1 75.4l2.8 2.8l-2.8 2.8l-2.8-2.8zM83.5 75.4l2.8 2.8l-2.8 2.8l-2.8-2.8zM84.7 75.2l2.8 2.8l-2.8 2.8l-2.8-2.8zM85.9 74.5l2.8 2.8l-2.8 2.8l-2.8-2.8zM87.2 74.9l2.8 2.8l-2.8 2.8l-2.8-2.8zM88.3 75.3l2.8 2.8l-2.8 2.8l-2.8-2.8zM89.5 73.8l2.8 2.8l-2.8 2.8l-2.8-2.8zM90.8 74.7l2.8 2.8l-2.8 2.8l-2.8-2.8zM92.0 74.0l2.8 2.8l-2.8 2.8l-2.8-2.8zM93.1 73.3l2.8 2.8l-2.8 2.8l-2.8-2.8zM94.6 74.1l2.8 2.8l-2.8 2.8l-2.8-2.8zM95.7 73.1l2.8 2.8l-2.8 2.8l-2.8-2.8zM97.0 71.6l2.8 2.8l-2.8 2.8l-2.8-2.8zM98.1 71.6l2.8 2.8l-2.8 2.8l-2.8-2.8zM99.4 71.3l2.8 2.8l-2.8 2.8l-2.8-2.8zM100.6 70.6l2.8 2.8l-2.8 2.8l-2.8-2.8zM101.8 70.6l2.8 2.8l-2.8 2.8l-2.8-2.8zM103.1 70.0l2.8 2.8l-2.8 2.8l-2.8-2.8zM104.2 70.0l2.8 2.8l-2.8 2.8l-2.8-2.8zM105.6 70.0l2.8 2.8l-2.8 2.8l-2.8-2.8zM106.8 68.7l2.8 2.8l-2.8 2.8l-2.8-2.8zM108.2 68.7l2.8 2.8l-2.8 2.8l-2.8-2.8zM109.1 68.0l2.8 2.8l-2.8 2.8l-2.8-2.8zM110.5 67.8l2.8 2.8l-2.8 2.8l-2.8-2.8zM111.7 66.8l2.8 2.8l-2.8 2.8l-2.8-2.8zM112.9 66.7l2.8 2.8l-2.8 2.8l-2.8-2.8zM114.0 66.5l2.8 2.8l-2.8 2.8l-2.8-2.8zM115.3 66.6l2.8 2.8l-2.8 2.8l-2.8-2.8zM116.6 66.3l2.8 2.8l-2.8 2.8l-2.8-2.8zM117.8 64.7l2.8 2.8l-2.8 2.8l-2.8-2.8zM119.0 64.5l2.8 2.8l-2.8 2.8l-2.8-2.8zM120.2 64.7l2.8 2.8l-2.8 2.8l-2.8-2.8zM121.6 63.0l2.8 2.8l-2.8 2.8l-2.8-2.8zM122.7 63.2l2.8 2.8l-2.8 2.8l-2.8-2.8zM123.7 62.8l2.8 2.8l-2.8 2.8l-2.8-2.8zM125.1 62.8l2.8 2.8l-2.8 2.8l-2.8-2.8zM126.2 61.9l2.8 2.8l-2.8 2.8l-2.8-2.8zM127.3 60.6l2.8 2.8l-2.8 2.8l-2.8-2.8zM128.8 59.9l2.8 2.8l-2.8 2.8l-2.8-2.8zM130.2 59.1l2.8 2.8l-2.8 2.8l-2.8-2.8zM131.3 59.1l2.8 2.8l-2.8 2.8l-2.8-2.8zM132.4 57.6l2.8 2.8l-2.8 2.8l-2.8-2.8zM133.6 57.1l2.8 2.8l-2.8 2.8l-2.8-2.8zM135.1 56.9l2.8 2.8l-2.8 2.8l-2.8-2.8zM136.2 56.2l2.8 2.8l-2.8 2.8l-2.8-2.8zM137.4 55.6l2.8 2.8l-2.8 2.8l-2.8-2.8zM138.6 54.5l2.8 2.8l-2.8 2.8l-2.8-2.8zM139.9 54.3l2.8 2.8l-2.8 2.8l-2.8-2.8zM141.2 53.4l2.8 2.8l-2.8 2.8l-2.8-2.8zM142.4 53.4l2.8 2.8l-2.8 2.8l-2.8-2.8zM143.5 52.4l2.8 2.8l-2.8 2.8l-2.8-2.8zM144.6 51.4l2.8 2.8l-2.8 2.8l-2.8-2.8zM146.0 50.8l2.8 2.8l-2.8 2.8l-2.8-2.8zM147.1 49.5l2.8 2.8l-2.8 2.8l-2.8-2.8zM148.5 49.3l2.8 2.8l-2.8 2.8l-2.8-2.8zM149.5 48.0l2.8 2.8l-2.8 2.8l-2.8-2.8zM150.9 47.4l2.8 2.8l-2.8 2.8l-2.8-2.8zM152.1 45.8l2.8 2.8l-2.8 2.8l-2.8-2.8zM153.2 45.8l2.8 2.8l-2.8 2.8l-2.8-2.8zM154.7 44.2l2.8 2.8l-2.8 2.8l-2.8-2.8zM155.9 43.3l2.8 2.8l-2.8 2.8l-2.8-2.8zM157.0 43.6l2.8 2.8l-2.8 2.8l-2.8-2.8zM158.3 42.9l2.8 2.8l-2.8 2.8l-2.8-2.8zM159.5 43.2l2.8 2.8l-2.8 2.8l-2.8-2.8zM160.4 44.0l2.8 2.8l-2.8 2.8l-2.8-2.8zM161.9 42.6l2.8 2.8l-2.8 2.8l-2.8-2.8zM163.1 42.9l2.8 2.8l-2.8 2.8l-2.8-2.8zM164.4 43.6l2.8 2.8l-2.8 2.8l-2.8-2.8zM165.5 44.3l2.8 2.8l-2.8 2.8l-2.8-2.8zM166.8 44.7l2.8 2.8l-2.8 2.8l-2.8-2.8zM168.0 45.5l2.8 2.8l-2.8 2.8l-2.8-2.8zM169.4 46.6l2.8 2.8l-2.8 2.8l-2.8-2.8zM170.5 47.3l2.8 2.8l-2.8 2.8l-2.8-2.8zM171.7 47.5l2.8 2.8l-2.8 2.8l-2.8-2.8zM173.1 48.9l2.8 2.8l-2.8 2.8l-2.8-2.8zM174.1 50.1l2.8 2.8l-2.8 2.8l-2.8-2.8zM175.3 51.0l2.8 2.8l-2.8 2.8l-2.8-2.8zM176.4 53.1l2.8 2.8l-2.8 2.8l-2.8-2.8zM178.0 54.2l2.8 2.8l-2.8 2.8l-2.8-2.8zM179.1 56.8l2.8 2.8l-2.8 2.8l-2.8-2.8zM180.4 58.4l2.8 2.8l-2.8 2.8l-2.8-2.8zM181.6 60.3l2.8 2.8l-2.8 2.8l-2.8-2.8zM182.7 62.0l2.8 2.8l-2.8 2.8l-2.8-2.8zM184.0 64.3l2.8 2.8l-2.8 2.8l-2.8-2.8zM185.1 65.5l2.8 2.8l-2.8 2.8l-2.8-2.8zM186.4 67.6l2.8 2.8l-2.8 2.8l-2.8-2.8zM187.6 69.7l2.8 2.8l-2.8 2.8l-2.8-2.8zM189.0 69.9l2.8 2.8l-2.8 2.8l-2.8-2.8zM190.1 72.5l2.8 2.8l-2.8 2.8l-2.8-2.8zM191.3 72.5l2.8 2.8l-2.8 2.8l-2.8-2.8zM192.5 74.6l2.8 2.8l-2.8 2.8l-2.8-2.8zM193.7 74.8l2.8 2.8l-2.8 2.8l-2.8-2.8zM195.1 76.4l2.8 2.8l-2.8 2.8l-2.8-2.8zM196.3 76.9l2.8 2.8l-2.8 2.8l-2.8-2.8zM197.4 76.6l2.8 2.8l-2.8 2.8l-2.8-2.8zM198.6 78.2l2.8 2.8l-2.8 2.8l-2.8-2.8zM199.8 78.5l2.8 2.8l-2.8 2.8l-2.8-2.8zM201.1 78.0l2.8 2.8l-2.8 2.8l-2.8-2.8zM202.4 78.1l2.8 2.8l-2.8 2.8l-2.8-2.8zM203.5 78.3l2.8 2.8l-2.8 2.8l-2.8-2.8zM204.8 78.2l2.8 2.8l-2.8 2.8l-2.8-2.8zM206.0 79.3l2.8 2.8l-2.8 2.8l-2.8-2.8zM207.2 78.8l2.8 2.8l-2.8 2.8l-2.8-2.8zM208.3 79.3l2.8 2.8l-2.8 2.8l-2.8-2.8zM209.7 79.2l2.8 2.8l-2.8 2.8l-2.8-2.8zM210.8 79.5l2.8 2.8l-2.8 2.8l-2.8-2.8zM212.2 79.5l2.8 2.8l-2.8 2.8l-2.8-2.8zM213.3 81.0l2.8 2.8l-2.8 2.8l-2.8-2.8zM214.6 80.7l2.8 2.8l-2.8 2.8l-2.8-2.8zM216.0 81.5l2.8 2.8l-2.8 2.8l-2.8-2.8zM217.0 81.2l2.8 2.8l-2.8 2.8l-2.8-2.8zM218.2 81.0l2.8 2.8l-2.8 2.8l-2.8-2.8zM219.5 81.2l2.8 2.8l-2.8 2.8l-2.8-2.8zM220.7 81.2l2.8 2.8l-2.8 2.8l-2.8-2.8zM221.8 81.5l2.8 2.8l-2.8 2.8l-2.8-2.8zM223.2 81.4l2.8 2.8l-2.8 2.8l-2.8-2.8zM224.6 81.5l2.8 2.8l-2.8 2.8l-2.8-2.8zM225.6 81.1l2.8 2.8l-2.8 2.8l-2.8-2.8zM226.8 81.4l2.8 2.8l-2.8 2.8l-2.8-2.8zM227.9 82.5l2.8 2.8l-2.8 2.8l-2.8-2.8zM229.3 81.4l2.8 2.8l-2.8 2.8l-2.8-2.8zM230.4 81.3l2.8 2.8l-2.8 2.8l-2.8-2.8zM231.6 81.9l2.8 2.8l-2.8 2.8l-2.8-2.8zM233.1 82.4l2.8 2.8l-2.8 2.8l-2.8-2.8zM234.1 81.2l2.8 2.8l-2.8 2.8l-2.8-2.8zM235.5 81.8l2.8 2.8l-2.8 2.8l-2.8-2.8zM236.8 81.7l2.8 2.8l-2.8 2.8l-2.8-2.8zM237.9 81.2l2.8 2.8l-2.8 2.8l-2.8-2.8zM239.1 82.4l2.8 2.8l-2.8 2.8l-2.8-2.8zM240.5 82.0l2.8 2.8l-2.8 2.8l-2.8-2.8zM241.5 82.1l2.8 2.8l-2.8 2.8l-2.8-2.8zM242.7 81.6l2.8 2.8l-2.8 2.8l-2.8-2.8zM243.8 82.1l2.8 2.8l-2.8 2.8l-2.8-2.8zM245.2 81.6l2.8 2.8l-2.8 2.8l-2.8-2.8zM246.6 81.7l2.8 2.8l-2.8 2.8l-2.8-2.8z" fill="#009d4c"/>
<path d="M34.0 169.2 L34.5 169.2 L35.0 169.2 L35.5 169.2 L36.0 169.2 L36.5 169.2 L37.0 169.2 L37.5 169.2 L38.0 169.2 L38.5 169.2 L39.0 169.2 L39.5 169.2 L40.0 169.2 L40.5 169.2 L41.0 169.2 L41.5 169.2 L42.0 169.2 L42.5 169.2 L43.0 169.2 L43.5 169.2 L44.0 169.2 L44.5 169.2 L45.0 169.2 L45.5 169.2 L46.0 169.2 L46.5 169.2 L47.0 169.2 L47.5 169.2 L48.0 169.2 L48.5 169.2 L49.0 169.2 L49.5 169.2 L50.0 169.2 L50.5 169.2 L51.0 169.2 L51.5 169.2 L52.0 169.2 L52.5 169.2 L53.0 169.2 L53.5 169.2 L54.0 169.2 L54.5 169.2 L55.0 169.2 L55.5 169.2 L56.0 169.2 L56.5 169.2 L57.0 169.2 L57.5 169.2 L58.0 169.2 L58.5 169.2 L59.0 169.2 L59.5 169.2 L60.0 169.2 L60.5 169.2 L61.0 169.2 L61.5 169.2 L62.0 169.2 L62.5 169.2 L63.0 169.2 L63.5 169.2 L64.0 169.2 L64.5 169.2 L65.0 169.2 L65.5 169.2 L66.0 169.2 L66.5 169.2 L67.0 169.2 L67.5 169.2 L68.0 169.2 L68.5 169.2 L69.0 169.2 L69.5 169.2 L70.0 169.2 L70.5 169.2 L71.0 169.2 L71.5 169.2 L72.0 169.2 L72.5 169.2 L73.0 169.2 L73.5 169.2 L74.0 169.2 L74.5 169.2 L75.0 169.2 L75.5 169.2 L76.0 169.2 L76.5 169.2 L77.0 169.2 L77.5 169.2 L78.0 169.2 L78.5 169.2 L79.0 169.2 L79.5 169.2 L80.0 169.2 L80.5 169.2 L81.0 169.2 L81.5 169.2 L82.0 169.2 L82.5 169.2 L83.0 169.2 L83.5 169.2 L84.0 169.2 L84.5 169.2 L85.0 169.2 L85.5 169.2 L86.0 169.2 L86.5 169.2 L87.0 169.2 L87.5 169.2 L88.0 169.2 L88.5 169.2 L89.0 169.2 L89.5 169.2 L90.0 169.2 L90.5 169.2 L91.0 169.2 L91.5 169.2 L92.0 169.2 L92.5 169.2 L93.0 169.2 L93.5 169.2 L94.0 169.2 L94.5 169.2 L95.0 169.2 L95.5 169.2 L96.0 169.2 L96.5 169.2 L97.0 169.2 L97.5 169.2 L98.0 169.2 L98.5 169.2 L99.0 169.2 L99.5 169.2 L100.0 169.2 L100.5 169.2 L101.0 169.2 L101.5 169.2 L102.0 169.2 L102.5 169.2 L103.0 169.2 L103.5 169.2 L104.0 169.2 L104.5 169.2 L105.0 169.2 L105.5 169.2 L106.0 169.2 L106.5 169.3 L107.0 169.3 L107.5 169.3 L108.0 169.3 L108.5 169.3 L109.0 169.3 L109.5 169.3 L110.0 169.3 L110.5 169.3 L111.0 169.3 L111.5 169.3 L112.0 169.3 L112.5 169.3 L113.0 169.3 L113.5 169.3 L114.0 169.3 L114.5 169.3 L115.0 169.3 L115.5 169.3 L116.0 169.3 L116.5 169.3 L117.0 169.3 L117.5 169.3 L118.0 169.3 L118.5 169.3 L119.0 169.3 L119.5 169.3 L120.0 169.3 L120.5 169.3 L121.0 169.3 L121.5 169.3 L122.0 169.3 L122.5 169.3 L123.0 169.3 L123.5 169.4 L124.0 169.4 L124.5 169.4 L125.0 169.4 L125.5 169.4 L126.0 169.4 L126.5 169.4 L127.0 169.4 L127.5 169.4 L128.0 169.4 L128.5 169.4 L129.0 169.4 L129.5 169.4 L130.0 169.4 L130.5 169.4 L131.0 169.4 L131.5 169.5 L132.0 169.5 L132.5 169.5 L133.0 169.5 L133.5 169.5 L134.0 169.5 L134.5 169.5 L135.0 169.5 L135.5 169.5 L136.0 169.5 L136.5 169.5 L137.0 169.5 L137.5 169.6 L138.0 169.6 L138.5 169.6 L139.0 169.6 L139.5 169.6 L140.0 169.6 L140.5 169.6 L141.0 169.6 L141.5 169.6 L142.0 169.7 L142.5 169.7 L143.0 169.7 L143.5 169.7 L144.0 169.7 L144.5 169.7 L145.0 169.7 L145.5 169.8 L146.0 169.8 L146.5 169.8 L147.0 169.8 L147.5 169.8 L148.0 169.8 L148.5 169.8 L149.0 169.9 L149.5 169.9 L150.0 169.9 L150.5 169.9 L151.0 169.9 L151.5 170.0 L152.0 170.0 L152.5 170.0 L153.0 170.0 L153.5 170.0 L154.0 170.0 L154.5 170.1 L155.0 170.1 L155.5 170.1 L156.0 170.1 L156.5 170.1 L157.0 170.2 L157.5 170.2 L158.0 170.2 L158.5 170.2 L159.0 170.2 L159.5 170.3 L160.0 170.3 L160.5 170.3 L161.0 170.3 L161.5 170.3 L162.0 170.4 L162.5 170.4 L163.0 170.4 L163.5 170.4 L164.0 170.5 L164.5 170.5 L165.0 170.5 L165.5 170.5 L166.0 170.5 L166.5 170.6 L167.0 170.6 L167.5 170.6 L168.0 170.6 L168.5 170.7 L169.0 170.7 L169.5 170.7 L170.0 170.7 L170.5 170.7 L171.0 170.8 L171.5 170.8 L172.0 170.8 L172.5 170.8 L173.0 170.8 L173.5 170.9 L174.0 170.9 L174.5 170.9 L175.0 170.9 L175.5 170.9 L176.0 171.0 L176.5 171.0 L177.0 171.0 L177.5 171.0 L178.0 171.0 L178.5 171.0 L179.0 171.1 L179.5 171.1 L180.0 171.1 L180.5 171.1 L181.0 171.1 L181.5 171.2 L182.0 171.2 L182.5 171.2 L183.0 171.2 L183.5 171.2 L184.0 171.2 L184.5 171.2 L185.0 171.3 L185.5 171.3 L186.0 171.3 L186.5 171.3 L187.0 171.3 L187.5 171.3 L188.0 171.3 L188.5 171.4 L189.0 171.4 L189.5 171.4 L190.0 171.4 L190.5 171.4 L191.0 171.4 L191.5 171.4 L192.0 171.4 L192.5 171.4 L193.0 171.5 L193.5 171.5 L194.0 171.5 L194.5 171.5 L195.0 171.5 L195.5 171.5 L196.0 171.5 L196.5 171.5 L197.0 171.5 L197.5 171.5 L198.0 171.5 L198.5 171.5 L199.0 171.6 L199.5 171.6 L200.0 171.6 L200.5 171.6 L201.0 171.6 L201.5 171.6 L202.0 171.6 L202.5 171.6 L203.0 171.6 L203.5 171.6 L204.0 171.6 L204.5 171.6 L205.0 171.6 L205.5 171.6 L206.0 171.6 L206.5 171.6 L207.0 171.7 L207.5 171.7 L208.0 171.7 L208.5 171.7 L209.0 171.7 L209.5 171.7 L210.0 171.7 L210.5 171.7 L211.0 171.7 L211.5 171.7 L212.0 171.7 L212.5 171.7 L213.0 171.7 L213.5 171.7 L214.0 171.7 L214.5 171.7 L215.0 171.7 L215.5 171.7 L216.0 171.7 L216.5 171.7 L217.0 171.7 L217.5 171.7 L218.0 171.7 L218.5 171.7 L219.0 171.7 L219.5 171.7 L220.0 171.7 L220.5 171.7 L221.0 171.7 L221.5 171.7 L222.0 171.7 L222.5 171.7 L223.0 171.7 L223.5 171.7 L224.0 171.8 L224.5 171.8 L225.0 171.8 L225.5 171.8 L226.0 171.8 L226.5 171.8 L227.0 171.8 L227.5 171.8 L228.0 171.8 L228.5 171.8 L229.0 171.8 L229.5 171.8 L230.0 171.8 L230.5 171.8 L231.0 171.8 L231.5 171.8 L232.0 171.8 L232.5 171.8 L233.0 171.8 L233.5 171.8 L234.0 171.8 L234.5 171.8 L235.0 171.8 L235.5 171.8 L236.0 171.8 L236.5 171.8 L237.0 171.8 L237.5 171.8 L238.0 171.8 L238.5 171.8 L239.0 171.8 L239.5 171.8 L240.0 171.8 L240.5 171.8 L241.0 171.8 L241.5 171.8 L242.0 171.8 L242.5 171.8 L243.0 171.8 L243.5 171.8 L244.0 171.8 L244.5 171.8 L245.0 171.8 L245.5 171.8 L246.0 171.8" fill="none" stroke="#0000fa" stroke-width="1.2"/>
<path d="M34.0 169.2 L34.5 169.2 L35.0 169.2 L35.5 169.2 L36.0 169.2 L36.5 169.2 L37.0 169.2 L37.5 169.2 L38.0 169.2 L38.5 169.2 L39.0 169.2 L39.5 169.2 L40.0 169.2 L40.5 169.2 L41.0 169.2 L41.5 169.2 L42.0 169.2 L42.5 169.2 L43.0 169.2 L43.5 169.2 L44.0 169.2 L44.5 169.2 L45.0 169.2 L45.5 169.2 L46.0 169.2 L46.5 169.2 L47.0 169.1 L47.5 169.1 L48.0 169.1 L48.5 169.1 L49.0 169.1 L49.5 169.1 L50.0 169.1 L50.5 169.1 L51.0 169.0 L51.5 169.0 L52.0 169.0 L52.5 169.0 L53.0 168.9 L53.5 168.9 L54.0 168.9 L54.5 168.8 L55.0 168.8 L55.5 168.7 L56.0 168.6 L56.5 168.6 L57.0 168.5 L57.5 168.4 L58.0 168.4 L58.5 168.3 L59.0 168.2 L59.5 168.1 L60.0 167.9 L60.5 167.8 L61.0 167.7 L61.5 167.6 L62.0 167.4 L62.5 167.3 L63.0 167.1 L63.5 166.9 L64.0 166.7 L64.5 166.5 L65.0 166.3 L65.5 166.1 L66.0 165.9 L66.5 165.7 L67.0 165.5 L67.5 165.2 L68.0 165.0 L68.5 164.8 L69.0 164.5 L69.5 164.3 L70.0 164.0 L70.5 163.7 L71.0 163.5 L71.5 163.2 L72.0 163.0 L72.5 162.7 L73.0 162.5 L73.5 162.3 L74.0 162.0 L74.5 161.8 L75.0 161.6 L75.5 161.4 L76.0 161.2 L76.5 161.1 L77.0 160.9 L77.5 160.8 L78.0 160.7 L78.5 160.6 L79.0 160.5 L79.5 160.4 L80.0 160.3 L80.5 160.3 L81.0 160.3 L81.5 160.3 L82.0 160.3 L82.5 160.4 L83.0 160.5 L83.5 160.6 L84.0 160.7 L84.5 160.8 L85.0 160.9 L85.5 161.1 L86.0 161.2 L86.5 161.4 L87.0 161.6 L87.5 161.8 L88.0 162.1 L88.5 162.3 L89.0 162.5 L89.5 162.8 L90.0 163.0 L90.5 163.3 L91.0 163.5 L91.5 163.8 L92.0 164.0 L92.5 164.3 L93.0 164.5 L93.5 164.8 L94.0 165.0 L94.5 165.3 L95.0 165.5 L95.5 165.7 L96.0 165.9 L96.5 166.2 L97.0 166.4 L97.5 166.6 L98.0 166.8 L98.5 166.9 L99.0 167.1 L99.5 167.3 L100.0 167.4 L100.5 167.6 L101.0 167.7 L101.5 167.9 L102.0 168.0 L102.5 168.1 L103.0 168.2 L103.5 168.3 L104.0 168.4 L104.5 168.5 L105.0 168.6 L105.5 168.6 L106.0 168.7 L106.5 168.8 L107.0 168.8 L107.5 168.9 L108.0 168.9 L108.5 168.9 L109.0 169.0 L109.5 169.0 L110.0 169.1 L110.5 169.1 L111.0 169.1 L111.5 169.1 L112.0 169.1 L112.5 169.2 L113.0 169.2 L113.5 169.2 L114.0 169.2 L114.5 169.2 L115.0 169.2 L115.5 169.2 L116.0 169.3 L116.5 169.3 L117.0 169.3 L117.5 169.3 L118.0 169.3 L118.5 169.3 L119.0 169.3 L119.5 169.3 L120.0 169.3 L120.5 169.3 L121.0 169.3 L121.5 169.3 L122.0 169.3 L122.5 169.3 L123.0 169.3 L123.5 169.4 L124.0 169.4 L124.5 169.4 L125.0 169.4 L125.5 169.4 L126.0 169.4 L126.5 169.4 L127.0 169.4 L127.5 169.4 L128.0 169.4 L128.5 169.4 L129.0 169.4 L129.5 169.4 L130.0 169.4 L130.5 169.4 L131.0 169.4 L131.5 169.5 L132.0 169.5 L132.5 169.5 L133.0 169.5 L133.5 169.5 L134.0 169.5 L134.5 169.5 L135.0 169.5 L135.5 169.5 L136.0 169.5 L136.5 169.5 L137.0 169.5 L137.5 169.6 L138.0 169.6 L138.5 169.6 L139.0 169.6 L139.5 169.6 L140.0 169.6 L140.5 169.6 L141.0 169.6 L141.5 169.6 L142.0 169.7 L142.5 169.7 L143.0 169.7 L143.5 169.7 L144.0 169.7 L144.5 169.7 L145.0 169.7 L145.5 169.8 L146.0 169.8 L146.5 169.8 L147.0 169.8 L147.5 169.8 L148.0 169.8 L148.5 169.8 L149.0 169.9 L149.5 169.9 L150.0 169.9 L150.5 169.9 L151.0 169.9 L151.5 170.0 L152.0 170.0 L152.5 170.0 L153.0 170.0 L153.5 170.0 L154.0 170.0 L154.5 170.1 L155.0 170.1 L155.5 170.1 L156.0 170.1 L156.5 170.1 L157.0 170.2 L157.5 170.2 L158.0 170.2 L158.5 170.2 L159.0 170.2 L159.5 170.3 L160.0 170.3 L160.5 170.3 L161.0 170.3 L161.5 170.3 L162.0 170.4 L162.5 170.4 L163.0 170.4 L163.5 170.4 L164.0 170.5 L164.5 170.5 L165.0 170.5 L165.5 170.5 L166.0 170.5 L166.5 170.6 L167.0 170.6 L167.5 170.6 L168.0 170.6 L168.5 170.7 L169.0 170.7 L169.5 170.7 L170.0 170.7 L170.5 170.7 L171.0 170.8 L171.5 170.8 L172.0 170.8 L172.5 170.8 L173.0 170.8 L173.5 170.9 L174.0 170.9 L174.5 170.9 L175.0 170.9 L175.5 170.9 L176.0 171.0 L176.5 171.0 L177.0 171.0 L177.5 171.0 L178.0 171.0 L178.5 171.0 L179.0 171.1 L179.5 171.1 L180.0 171.1 L180.5 171.1 L181.0 171.1 L181.5 171.2 L182.0 171.2 L182.5 171.2 L183.0 171.2 L183.5 171.2 L184.0 171.2 L184.5 171.2 L185.0 171.3 L185.5 171.3 L186.0 171.3 L186.5 171.3 L187.0 171.3 L187.5 171.3 L188.0 171.3 L188.5 171.4 L189.0 171.4 L189.5 171.4 L190.0 171.4 L190.5 171.4 L191.0 171.4 L191.5 171.4 L192.0 171.4 L192.5 171.4 L193.0 171.5 L193.5 171.5 L194.0 171.5 L194.5 171.5 L195.0 171.5 L195.5 171.5 L196.0 171.5 L196.5 171.5 L197.0 171.5 L197.5 171.5 L198.0 171.5 L198.5 171.5 L199.0 171.6 L199.5 171.6 L200.0 171.6 L200.5 171.6 L201.0 171.6 L201.5 171.6 L202.0 171.6 L202.5 171.6 L203.0 171.6 L203.5 171.6 L204.0 171.6 L204.5 171.6 L205.0 171.6 L205.5 171.6 L206.0 171.6 L206.5 171.6 L207.0 171.7 L207.5 171.7 L208.0 171.7 L208.5 171.7 L209.0 171.7 L209.5 171.7 L210.0 171.7 L210.5 171.7 L211.0 171.7 L211.5 171.7 L212.0 171.7 L212.5 171.7 L213.0 171.7 L213.5 171.7 L214.0 171.7 L214.5 171.7 L215.0 171.7 L215.5 171.7 L216.0 171.7 L216.5 171.7 L217.0 171.7 L217.5 171.7 L218.0 171.7 L218.5 171.7 L219.0 171.7 L219.5 171.7 L220.0 171.7 L220.5 171.7 L221.0 171.7 L221.5 171.7 L222.0 171.7 L222.5 171.7 L223.0 171.7 L223.5 171.7 L224.0 171.8 L224.5 171.8 L225.0 171.8 L225.5 171.8 L226.0 171.8 L226.5 171.8 L227.0 171.8 L227.5 171.8 L228.0 171.8 L228.5 171.8 L229.0 171.8 L229.5 171.8 L230.0 171.8 L230.5 171.8 L231.0 171.8 L231.5 171.8 L232.0 171.8 L232.5 171.8 L233.0 171.8 L233.5 171.8 L234.0 171.8 L234.5 171.8 L235.0 171.8 L235.5 171.8 L236.0 171.8 L236.5 171.8 L237.0 171.8 L237.5 171.8 L238.0 171.8 L238.5 171.8 L239.0 171.8 L239.5 171.8 L240.0 171.8 L240.5 171.8 L241.0 171.8 L241.5 171.8 L242.0 171.8 L242.5 171.8 L243.0 171.8 L243.5 171.8 L244.0 171.8 L244.5 171.8 L245.0 171.8 L245.5 171.8 L246.0 171.8" fill="none" stroke="#0000fa" stroke-width="1.2"/>
<path d="M34.0 169.2 L34.5 169.2 L35.0 169.2 L35.5 169.2 L36.0 169.2 L36.5 169.2 L37.0 169.2 L37.5 169.2 L38.0 169.2 L38.5 169.2 L39.0 169.2 L39.5 169.2 L40.0 169.2 L40.5 169.2 L41.0 169.2 L41.5 169.2 L42.0 169.2 L42.5 169.2 L43.0 169.2 L43.5 169.2 L44.0 169.2 L44.5 169.2 L45.0 169.2 L45.5 169.2 L46.0 169.2 L46.5 169.2 L47.0 169.2 L47.5 169.2 L48.0 169.2 L48.5 169.2 L49.0 169.2 L49.5 169.2 L50.0 169.2 L50.5 169.2 L51.0 169.2 L51.5 169.2 L52.0 169.2 L52.5 169.2 L53.0 169.2 L53.5 169.2 L54.0 169.2 L54.5 169.2 L55.0 169.2 L55.5 169.2 L56.0 169.2 L56.5 169.2 L57.0 169.2 L57.5 169.2 L58.0 169.2 L58.5 169.2 L59.0 169.2 L59.5 169.2 L60.0 169.2 L60.5 169.2 L61.0 169.2 L61.5 169.2 L62.0 169.2 L62.5 169.2 L63.0 169.2 L63.5 169.2 L64.0 169.2 L64.5 169.2 L65.0 169.2 L65.5 169.2 L66.0 169.2 L66.5 169.2 L67.0 169.2 L67.5 169.2 L68.0 169.2 L68.5 169.2 L69.0 169.2 L69.5 169.2 L70.0 169.2 L70.5 169.2 L71.0 169.2 L71.5 169.2 L72.0 169.2 L72.5 169.2 L73.0 169.2 L73.5 169.2 L74.0 169.2 L74.5 169.2 L75.0 169.2 L75.5 169.2 L76.0 169.2 L76.5 169.2 L77.0 169.2 L77.5 169.1 L78.0 169.1 L78.5 169.1 L79.0 169.1 L79.5 169.1 L80.0 169.1 L80.5 169.1 L81.0 169.1 L81.5 169.1 L82.0 169.0 L82.5 169.0 L83.0 169.0 L83.5 169.0 L84.0 169.0 L84.5 168.9 L85.0 168.9 L85.5 168.9 L86.0 168.8 L86.5 168.8 L87.0 168.7 L87.5 168.7 L88.0 168.6 L88.5 168.6 L89.0 168.5 L89.5 168.5 L90.0 168.4 L90.5 168.3 L91.0 168.2 L91.5 168.2 L92.0 168.1 L92.5 168.0 L93.0 167.9 L93.5 167.8 L94.0 167.6 L94.5 167.5 L95.0 167.4 L95.5 167.3 L96.0 167.1 L96.5 167.0 L97.0 166.8 L97.5 166.6 L98.0 166.4 L98.5 166.3 L99.0 166.1 L99.5 165.9 L100.0 165.7 L100.5 165.4 L101.0 165.2 L101.5 165.0 L102.0 164.7 L102.5 164.5 L103.0 164.2 L103.5 164.0 L104.0 163.7 L104.5 163.4 L105.0 163.1 L105.5 162.9 L106.0 162.6 L106.5 162.3 L107.0 162.0 L107.5 161.7 L108.0 161.4 L108.5 161.1 L109.0 160.8 L109.5 160.5 L110.0 160.2 L110.5 159.9 L111.0 159.6 L111.5 159.3 L112.0 159.0 L112.5 158.7 L113.0 158.5 L113.5 158.2 L114.0 157.9 L114.5 157.7 L115.0 157.5 L115.5 157.2 L116.0 157.0 L116.5 156.8 L117.0 156.7 L117.5 156.5 L118.0 156.3 L118.5 156.2 L119.0 156.1 L119.5 156.0 L120.0 155.9 L120.5 155.8 L121.0 155.8 L121.5 155.8 L122.0 155.7 L122.5 155.7 L123.0 155.8 L123.5 155.8 L124.0 155.9 L124.5 156.0 L125.0 156.1 L125.5 156.2 L126.0 156.3 L126.5 156.4 L127.0 156.6 L127.5 156.8 L128.0 157.0 L128.5 157.2 L129.0 157.4 L129.5 157.7 L130.0 157.9 L130.5 158.2 L131.0 158.4 L131.5 158.7 L132.0 159.0 L132.5 159.3 L133.0 159.6 L133.5 159.9 L134.0 160.2 L134.5 160.5 L135.0 160.8 L135.5 161.1 L136.0 161.4 L136.5 161.7 L137.0 162.0 L137.5 162.3 L138.0 162.7 L138.5 163.0 L139.0 163.3 L139.5 163.6 L140.0 163.8 L140.5 164.1 L141.0 164.4 L141.5 164.7 L142.0 165.0 L142.5 165.2 L143.0 165.5 L143.5 165.7 L144.0 166.0 L144.5 166.2 L145.0 166.4 L145.5 166.6 L146.0 166.8 L146.5 167.0 L147.0 167.2 L147.5 167.4 L148.0 167.6 L148.5 167.8 L149.0 167.9 L149.5 168.1 L150.0 168.2 L150.5 168.4 L151.0 168.5 L151.5 168.6 L152.0 168.7 L152.5 168.9 L153.0 169.0 L153.5 169.1 L154.0 169.2 L154.5 169.3 L155.0 169.3 L155.5 169.4 L156.0 169.5 L156.5 169.6 L157.0 169.6 L157.5 169.7 L158.0 169.8 L158.5 169.8 L159.0 169.9 L159.5 169.9 L160.0 170.0 L160.5 170.1 L161.0 170.1 L161.5 170.1 L162.0 170.2 L162.5 170.2 L163.0 170.3 L163.5 170.3 L164.0 170.3 L164.5 170.4 L165.0 170.4 L165.5 170.4 L166.0 170.5 L166.5 170.5 L167.0 170.5 L167.5 170.6 L168.0 170.6 L168.5 170.6 L169.0 170.6 L169.5 170.7 L170.0 170.7 L170.5 170.7 L171.0 170.7 L171.5 170.8 L172.0 170.8 L172.5 170.8 L173.0 170.8 L173.5 170.8 L174.0 170.9 L174.5 170.9 L175.0 170.9 L175.5 170.9 L176.0 171.0 L176.5 171.0 L177.0 171.0 L177.5 171.0 L178.0 171.0 L178.5 171.0 L179.0 171.1 L179.5 171.1 L180.0 171.1 L180.5 171.1 L181.0 171.1 L181.5 171.1 L182.0 171.2 L182.5 171.2 L183.0 171.2 L183.5 171.2 L184.0 171.2 L184.5 171.2 L185.0 171.3 L185.5 171.3 L186.0 171.3 L186.5 171.3 L187.0 171.3 L187.5 171.3 L188.0 171.3 L188.5 171.4 L189.0 171.4 L189.5 171.4 L190.0 171.4 L190.5 171.4 L191.0 171.4 L191.5 171.4 L192.0 171.4 L192.5 171.4 L193.0 171.5 L193.5 171.5 L194.0 171.5 L194.5 171.5 L195.0 171.5 L195.5 171.5 L196.0 171.5 L196.5 171.5 L197.0 171.5 L197.5 171.5 L198.0 171.5 L198.5 171.5 L199.0 171.6 L199.5 171.6 L200.0 171.6 L200.5 171.6 L201.0 171.6 L201.5 171.6 L202.0 171.6 L202.5 171.6 L203.0 171.6 L203.5 171.6 L204.0 171.6 L204.5 171.6 L205.0 171.6 L205.5 171.6 L206.0 171.6 L206.5 171.6 L207.0 171.7 L207.5 171.7 L208.0 171.7 L208.5 171.7 L209.0 171.7 L209.5 171.7 L210.0 171.7 L210.5 171.7 L211.0 171.7 L211.5 171.7 L212.0 171.7 L212.5 171.7 L213.0 171.7 L213.5 171.7 L214.0 171.7 L214.5 171.7 L215.0 171.7 L215.5 171.7 L216.0 171.7 L216.5 171.7 L217.0 171.7 L217.5 171.7 L218.0 171.7 L218.5 171.7 L219.0 171.7 L219.5 171.7 L220.0 171.7 L220.5 171.7 L221.0 171.7 L221.5 171.7 L222.0 171.7 L222.5 171.7 L223.0 171.7 L223.5 171.7 L224.0 171.8 L224.5 171.8 L225.0 171.8 L225.5 171.8 L226.0 171.8 L226.5 171.8 L227.0 171.8 L227.5 171.8 L228.0 171.8 L228.5 171.8 L229.0 171.8 L229.5 171.8 L230.0 171.8 L230.5 171.8 L231.0 171.8 L231.5 171.8 L232.0 171.8 L232.5 171.8 L233.0 171.8 L233.5 171.8 L234.0 171.8 L234.5 171.8 L235.0 171.8 L235.5 171.8 L236.0 171.8 L236.5 171.8 L237.0 171.8 L237.5 171.8 L238.0 171.8 L238.5 171.8 L239.0 171.8 L239.5 171.8 L240.0 171.8 L240.5 171.8 L241.0 171.8 L241.5 171.8 L242.0 171.8 L242.5 171.8 L243.0 171.8 L243.5 171.8 L244.0 171.8 L244.5 171.8 L245.0 171.8 L245.5 171.8 L246.0 171.8" fill="none" stroke="#0000fa" stroke-width="1.2"/>
<path d="M34.0 169.2 L34.5 169.2 L35.0 169.2 L35.5 169.2 L36.0 169.2 L36.5 169.2 L37.0 169.2 L37.5 169.2 L38.0 169.2 L38.5 169.2 L39.0 169.2 L39.5 169.2 L40.0 169.2 L40.5 169.2 L41.0 169.2 L41.5 169.2 L42.0 169.2 L42.5 169.2 L43.0 169.2 L43.5 169.2 L44.0 169.2 L44.5 169.2 L45.0 169.2 L45.5 169.2 L46.0 169.2 L46.5 169.2 L47.0 169.2 L47.5 169.2 L48.0 169.2 L48.5 169.2 L49.0 169.2 L49.5 169.2 L50.0 169.2 L50.5 169.2 L51.0 169.2 L51.5 169.2 L52.0 169.2 L52.5 169.2 L53.0 169.2 L53.5 169.2 L54.0 169.2 L54.5 169.2 L55.0 169.2 L55.5 169.2 L56.0 169.2 L56.5 169.2 L57.0 169.2 L57.5 169.2 L58.0 169.2 L58.5 169.2 L59.0 169.2 L59.5 169.2 L60.0 169.2 L60.5 169.2 L61.0 169.2 L61.5 169.2 L62.0 169.2 L62.5 169.2 L63.0 169.2 L63.5 169.2 L64.0 169.2 L64.5 169.2 L65.0 169.2 L65.5 169.2 L66.0 169.2 L66.5 169.2 L67.0 169.2 L67.5 169.2 L68.0 169.2 L68.5 169.2 L69.0 169.2 L69.5 169.2 L70.0 169.2 L70.5 169.2 L71.0 169.2 L71.5 169.2 L72.0 169.2 L72.5 169.2 L73.0 169.2 L73.5 169.2 L74.0 169.2 L74.5 169.2 L75.0 169.2 L75.5 169.2 L76.0 169.2 L76.5 169.2 L77.0 169.2 L77.5 169.2 L78.0 169.2 L78.5 169.2 L79.0 169.2 L79.5 169.2 L80.0 169.2 L80.5 169.2 L81.0 169.2 L81.5 169.2 L82.0 169.2 L82.5 169.2 L83.0 169.2 L83.5 169.2 L84.0 169.2 L84.5 169.2 L85.0 169.2 L85.5 169.2 L86.0 169.2 L86.5 169.2 L87.0 169.2 L87.5 169.2 L88.0 169.2 L88.5 169.2 L89.0 169.2 L89.5 169.2 L90.0 169.2 L90.5 169.2 L91.0 169.2 L91.5 169.2 L92.0 169.2 L92.5 169.2 L93.0 169.2 L93.5 169.2 L94.0 169.2 L94.5 169.2 L95.0 169.2 L95.5 169.2 L96.0 169.2 L96.5 169.2 L97.0 169.2 L97.5 169.2 L98.0 169.2 L98.5 169.1 L99.0 169.1 L99.5 169.1 L100.0 169.1 L100.5 169.1 L101.0 169.1 L101.5 169.1 L102.0 169.0 L102.5 169.0 L103.0 169.0 L103.5 169.0 L104.0 168.9 L104.5 168.9 L105.0 168.9 L105.5 168.8 L106.0 168.8 L106.5 168.8 L107.0 168.7 L107.5 168.7 L108.0 168.6 L108.5 168.5 L109.0 168.5 L109.5 168.4 L110.0 168.3 L110.5 168.2 L111.0 168.1 L111.5 168.1 L112.0 167.9 L112.5 167.8 L113.0 167.7 L113.5 167.6 L114.0 167.4 L114.5 167.3 L115.0 167.1 L115.5 167.0 L116.0 166.8 L116.5 166.6 L117.0 166.4 L117.5 166.2 L118.0 165.9 L118.5 165.7 L119.0 165.4 L119.5 165.2 L120.0 164.9 L120.5 164.6 L121.0 164.3 L121.5 164.0 L122.0 163.7 L122.5 163.3 L123.0 162.9 L123.5 162.6 L124.0 162.2 L124.5 161.8 L125.0 161.4 L125.5 160.9 L126.0 160.5 L126.5 160.0 L127.0 159.6 L127.5 159.1 L128.0 158.6 L128.5 158.1 L129.0 157.6 L129.5 157.1 L130.0 156.6 L130.5 156.0 L131.0 155.5 L131.5 154.9 L132.0 154.4 L132.5 153.9 L133.0 153.3 L133.5 152.8 L134.0 152.2 L134.5 151.7 L135.0 151.1 L135.5 150.6 L136.0 150.1 L136.5 149.6 L137.0 149.1 L137.5 148.6 L138.0 148.1 L138.5 147.7 L139.0 147.2 L139.5 146.8 L140.0 146.4 L140.5 146.0 L141.0 145.6 L141.5 145.3 L142.0 145.0 L142.5 144.7 L143.0 144.4 L143.5 144.2 L144.0 144.0 L144.5 143.8 L145.0 143.7 L145.5 143.6 L146.0 143.5 L146.5 143.4 L147.0 143.4 L147.5 143.4 L148.0 143.5 L148.5 143.5 L149.0 143.6 L149.5 143.8 L150.0 144.0 L150.5 144.2 L151.0 144.4 L151.5 144.6 L152.0 144.9 L152.5 145.2 L153.0 145.6 L153.5 145.9 L154.0 146.3 L154.5 146.7 L155.0 147.2 L155.5 147.6 L156.0 148.1 L156.5 148.6 L157.0 149.1 L157.5 149.6 L158.0 150.1 L158.5 150.7 L159.0 151.2 L159.5 151.8 L160.0 152.4 L160.5 152.9 L161.0 153.5 L161.5 154.1 L162.0 154.6 L162.5 155.2 L163.0 155.8 L163.5 156.4 L164.0 156.9 L164.5 157.5 L165.0 158.0 L165.5 158.6 L166.0 159.1 L166.5 159.7 L167.0 160.2 L167.5 160.7 L168.0 161.2 L168.5 161.7 L169.0 162.1 L169.5 162.6 L170.0 163.0 L170.5 163.5 L171.0 163.9 L171.5 164.3 L172.0 164.7 L172.5 165.1 L173.0 165.4 L173.5 165.8 L174.0 166.1 L174.5 166.4 L175.0 166.7 L175.5 167.0 L176.0 167.3 L176.5 167.6 L177.0 167.8 L177.5 168.1 L178.0 168.3 L178.5 168.5 L179.0 168.7 L179.5 168.9 L180.0 169.1 L180.5 169.2 L181.0 169.4 L181.5 169.6 L182.0 169.7 L182.5 169.8 L183.0 170.0 L183.5 170.1 L184.0 170.2 L184.5 170.3 L185.0 170.4 L185.5 170.5 L186.0 170.6 L186.5 170.6 L187.0 170.7 L187.5 170.8 L188.0 170.8 L188.5 170.9 L189.0 171.0 L189.5 171.0 L190.0 171.1 L190.5 171.1 L191.0 171.1 L191.5 171.2 L192.0 171.2 L192.5 171.2 L193.0 171.3 L193.5 171.3 L194.0 171.3 L194.5 171.4 L195.0 171.4 L195.5 171.4 L196.0 171.4 L196.5 171.4 L197.0 171.5 L197.5 171.5 L198.0 171.5 L198.5 171.5 L199.0 171.5 L199.5 171.5 L200.0 171.5 L200.5 171.5 L201.0 171.6 L201.5 171.6 L202.0 171.6 L202.5 171.6 L203.0 171.6 L203.5 171.6 L204.0 171.6 L204.5 171.6 L205.0 171.6 L205.5 171.6 L206.0 171.6 L206.5 171.6 L207.0 171.6 L207.5 171.7 L208.0 171.7 L208.5 171.7 L209.0 171.7 L209.5 171.7 L210.0 171.7 L210.5 171.7 L211.0 171.7 L211.5 171.7 L212.0 171.7 L212.5 171.7 L213.0 171.7 L213.5 171.7 L214.0 171.7 L214.5 171.7 L215.0 171.7 L215.5 171.7 L216.0 171.7 L216.5 171.7 L217.0 171.7 L217.5 171.7 L218.0 171.7 L218.5 171.7 L219.0 171.7 L219.5 171.7 L220.0 171.7 L220.5 171.7 L221.0 171.7 L221.5 171.7 L222.0 171.7 L222.5 171.7 L223.0 171.7 L223.5 171.7 L224.0 171.8 L224.5 171.8 L225.0 171.8 L225.5 171.8 L226.0 171.8 L226.5 171.8 L227.0 171.8 L227.5 171.8 L228.0 171.8 L228.5 171.8 L229.0 171.8 L229.5 171.8 L230.0 171.8 L230.5 171.8 L231.0 171.8 L231.5 171.8 L232.0 171.8 L232.5 171.8 L233.0 171.8 L233.5 171.8 L234.0 171.8 L234.5 171.8 L235.0 171.8 L235.5 171.8 L236.0 171.8 L236.5 171.8 L237.0 171.8 L237.5 171.8 L238.0 171.8 L238.5 171.8 L239.0 171.8 L239.5 171.8 L240.0 171.8 L240.5 171.8 L241.0 171.8 L241.5 171.8 L242.0 171.8 L242.5 171.8 L243.0 171.8 L243.5 171.8 L244.0 171.8 L244.5 171.8 L245.0 171.8 L245.5 171.8 L246.0 171.8" fill="none" stroke="#0000fa" stroke-width="1.2"/>
<path d="M34.0 169.2 L34.5 169.2 L35.0 169.2 L35.5 169.2 L36.0 169.2 L36.5 169.2 L37.0 169.2 L37.5 169.2 L38.0 169.2 L38.5 169.2 L39.0 169.2 L39.5 169.2 L40.0 169.2 L40.5 169.2 L41.0 169.2 L41.5 169.2 L42.0 169.2 L42.5 169.2 L43.0 169.2 L43.5 169.2 L44.0 169.2 L44.5 169.2 L45.0 169.2 L45.5 169.2 L46.0 169.2 L46.5 169.2 L47.0 169.2 L47.5 169.2 L48.0 169.2 L48.5 169.2 L49.0 169.2 L49.5 169.2 L50.0 169.2 L50.5 169.2 L51.0 169.2 L51.5 169.2 L52.0 169.2 L52.5 169.2 L53.0 169.2 L53.5 169.2 L54.0 169.2 L54.5 169.2 L55.0 169.2 L55.5 169.2 L56.0 169.2 L56.5 169.2 L57.0 169.2 L57.5 169.2 L58.0 169.2 L58.5 169.2 L59.0 169.2 L59.5 169.2 L60.0 169.2 L60.5 169.2 L61.0 169.2 L61.5 169.2 L62.0 169.2 L62.5 169.2 L63.0 169.2 L63.5 169.2 L64.0 169.2 L64.5 169.2 L65.0 169.2 L65.5 169.2 L66.0 169.2 L66.5 169.2 L67.0 169.2 L67.5 169.2 L68.0 169.2 L68.5 169.2 L69.0 169.2 L69.5 169.2 L70.0 169.2 L70.5 169.2 L71.0 169.2 L71.5 169.2 L72.0 169.2 L72.5 169.2 L73.0 169.2 L73.5 169.2 L74.0 169.2 L74.5 169.2 L75.0 169.2 L75.5 169.2 L76.0 169.2 L76.5 169.2 L77.0 169.2 L77.5 169.2 L78.0 169.2 L78.5 169.2 L79.0 169.2 L79.5 169.2 L80.0 169.2 L80.5 169.2 L81.0 169.2 L81.5 169.2 L82.0 169.2 L82.5 169.2 L83.0 169.2 L83.5 169.2 L84.0 169.2 L84.5 169.2 L85.0 169.2 L85.5 169.2 L86.0 169.2 L86.5 169.2 L87.0 169.2 L87.5 169.2 L88.0 169.2 L88.5 169.2 L89.0 169.2 L89.5 169.2 L90.0 169.2 L90.5 169.2 L91.0 169.2 L91.5 169.2 L92.0 169.2 L92.5 169.2 L93.0 169.2 L93.5 169.2 L94.0 169.2 L94.5 169.2 L95.0 169.2 L95.5 169.2 L96.0 169.2 L96.5 169.2 L97.0 169.2 L97.5 169.2 L98.0 169.2 L98.5 169.2 L99.0 169.2 L99.5 169.2 L100.0 169.2 L100.5 169.2 L101.0 169.2 L101.5 169.2 L102.0 169.2 L102.5 169.2 L103.0 169.2 L103.5 169.2 L104.0 169.2 L104.5 169.2 L105.0 169.2 L105.5 169.2 L106.0 169.2 L106.5 169.3 L107.0 169.3 L107.5 169.3 L108.0 169.3 L108.5 169.3 L109.0 169.3 L109.5 169.3 L110.0 169.3 L110.5 169.3 L111.0 169.3 L111.5 169.3 L112.0 169.3 L112.5 169.3 L113.0 169.3 L113.5 169.3 L114.0 169.3 L114.5 169.3 L115.0 169.3 L115.5 169.3 L116.0 169.3 L116.5 169.3 L117.0 169.3 L117.5 169.3 L118.0 169.3 L118.5 169.3 L119.0 169.3 L119.5 169.3 L120.0 169.3 L120.5 169.3 L121.0 169.3 L121.5 169.3 L122.0 169.3 L122.5 169.3 L123.0 169.2 L123.5 169.2 L124.0 169.2 L124.5 169.2 L125.0 169.2 L125.5 169.2 L126.0 169.2 L126.5 169.1 L127.0 169.1 L127.5 169.1 L128.0 169.0 L128.5 169.0 L129.0 168.9 L129.5 168.9 L130.0 168.8 L130.5 168.8 L131.0 168.7 L131.5 168.6 L132.0 168.5 L132.5 168.4 L133.0 168.3 L133.5 168.2 L134.0 168.1 L134.5 167.9 L135.0 167.7 L135.5 167.6 L136.0 167.4 L136.5 167.2 L137.0 166.9 L137.5 166.7 L138.0 166.4 L138.5 166.1 L139.0 165.8 L139.5 165.4 L140.0 165.0 L140.5 164.6 L141.0 164.2 L141.5 163.7 L142.0 163.2 L142.5 162.7 L143.0 162.1 L143.5 161.5 L144.0 160.9 L144.5 160.2 L145.0 159.5 L145.5 158.7 L146.0 157.9 L146.5 157.0 L147.0 156.1 L147.5 155.2 L148.0 154.2 L148.5 153.2 L149.0 152.1 L149.5 151.0 L150.0 149.8 L150.5 148.6 L151.0 147.3 L151.5 146.0 L152.0 144.7 L152.5 143.3 L153.0 141.9 L153.5 140.4 L154.0 138.9 L154.5 137.4 L155.0 135.9 L155.5 134.3 L156.0 132.7 L156.5 131.1 L157.0 129.5 L157.5 127.9 L158.0 126.2 L158.5 124.6 L159.0 122.9 L159.5 121.3 L160.0 119.7 L160.5 118.1 L161.0 116.5 L161.5 115.0 L162.0 113.5 L162.5 112.0 L163.0 110.6 L163.5 109.2 L164.0 107.9 L164.5 106.6 L165.0 105.5 L165.5 104.3 L166.0 103.3 L166.5 102.3 L167.0 101.4 L167.5 100.6 L168.0 99.9 L168.5 99.3 L169.0 98.7 L169.5 98.3 L170.0 98.0 L170.5 97.7 L171.0 97.6 L171.5 97.6 L172.0 97.6 L172.5 97.8 L173.0 98.1 L173.5 98.5 L174.0 98.9 L174.5 99.5 L175.0 100.2 L175.5 100.9 L176.0 101.8 L176.5 102.7 L177.0 103.7 L177.5 104.8 L178.0 106.0 L178.5 107.2 L179.0 108.5 L179.5 109.9 L180.0 111.3 L180.5 112.7 L181.0 114.3 L181.5 115.8 L182.0 117.4 L182.5 119.0 L183.0 120.6 L183.5 122.3 L184.0 123.9 L184.5 125.6 L185.0 127.3 L185.5 128.9 L186.0 130.6 L186.5 132.3 L187.0 133.9 L187.5 135.5 L188.0 137.1 L188.5 138.7 L189.0 140.3 L189.5 141.8 L190.0 143.3 L190.5 144.7 L191.0 146.1 L191.5 147.5 L192.0 148.8 L192.5 150.1 L193.0 151.3 L193.5 152.5 L194.0 153.7 L194.5 154.8 L195.0 155.8 L195.5 156.9 L196.0 157.8 L196.5 158.7 L197.0 159.6 L197.5 160.5 L198.0 161.3 L198.5 162.0 L199.0 162.7 L199.5 163.4 L200.0 164.0 L200.5 164.6 L201.0 165.2 L201.5 165.7 L202.0 166.2 L202.5 166.6 L203.0 167.0 L203.5 167.4 L204.0 167.8 L204.5 168.1 L205.0 168.4 L205.5 168.7 L206.0 169.0 L206.5 169.3 L207.0 169.5 L207.5 169.7 L208.0 169.9 L208.5 170.1 L209.0 170.2 L209.5 170.4 L210.0 170.5 L210.5 170.6 L211.0 170.7 L211.5 170.9 L212.0 170.9 L212.5 171.0 L213.0 171.1 L213.5 171.2 L214.0 171.2 L214.5 171.3 L215.0 171.3 L215.5 171.4 L216.0 171.4 L216.5 171.5 L217.0 171.5 L217.5 171.5 L218.0 171.6 L218.5 171.6 L219.0 171.6 L219.5 171.6 L220.0 171.6 L220.5 171.6 L221.0 171.7 L221.5 171.7 L222.0 171.7 L222.5 171.7 L223.0 171.7 L223.5 171.7 L224.0 171.7 L224.5 171.7 L225.0 171.7 L225.5 171.7 L226.0 171.7 L226.5 171.7 L227.0 171.7 L227.5 171.7 L228.0 171.8 L228.5 171.8 L229.0 171.8 L229.5 171.8 L230.0 171.8 L230.5 171.8 L231.0 171.8 L231.5 171.8 L232.0 171.8 L232.5 171.8 L233.0 171.8 L233.5 171.8 L234.0 171.8 L234.5 171.8 L235.0 171.8 L235.5 171.8 L236.0 171.8 L236.5 171.8 L237.0 171.8 L237.5 171.8 L238.0 171.8 L238.5 171.8 L239.0 171.8 L239.5 171.8 L240.0 171.8 L240.5 171.8 L241.0 171.8 L241.5 171.8 L242.0 171.8 L242.5 171.8 L243.0 171.8 L243.5 171.8 L244.0 171.8 L244.5 171.8 L245.0 171.8 L245.5 171.8 L246.0 171.8" fill="none" stroke="#0000fa" stroke-width="1.2"/>
<path d="M34.5 167.7l2.8 2.8l-2.8 2.8l-2.8-2.8zM35.6 166.5l2.8 2.8l-2.8 2.8l-2.8-2.8zM37.0 166.2l2.8 2.8l-2.8 2.8l-2.8-2.8zM38.2 166.1l2.8 2.8l-2.8 2.8l-2.8-2.8zM39.4 166.2l2.8 2.8l-2.8 2.8l-2.8-2.8zM40.6 165.7l2.8 2.8l-2.8 2.8l-2.8-2.8zM41.8 165.7l2.8 2.8l-2.8 2.8l-2.8-2.8zM43.0 165.6l2.8 2.8l-2.8 2.8l-2.8-2.8zM44.3 165.1l2.8 2.8l-2.8 2.8l-2.8-2.8zM45.5 165.1l2.8 2.8l-2.8 2.8l-2.8-2.8zM46.8 165.0l2.8 2.8l-2.8 2.8l-2.8-2.8zM48.0 164.8l2.8 2.8l-2.8 2.8l-2.8-2.8zM49.1 164.9l2.8 2.8l-2.8 2.8l-2.8-2.8zM50.4 165.3l2.8 2.8l-2.8 2.8l-2.8-2.8zM51.5 164.6l2.8 2.8l-2.8 2.8l-2.8-2.8zM52.8 164.1l2.8 2.8l-2.8 2.8l-2.8-2.8zM54.1 163.1l2.8 2.8l-2.8 2.8l-2.8-2.8zM55.1 163.8l2.8 2.8l-2.8 2.8l-2.8-2.8zM56.6 162.5l2.8 2.8l-2.8 2.8l-2.8-2.8zM57.8 162.5l2.8 2.8l-2.8 2.8l-2.8-2.8zM59.0 163.1l2.8 2.8l-2.8 2.8l-2.8-2.8zM60.2 162.6l2.8 2.8l-2.8 2.8l-2.8-2.8zM61.4 161.8l2.8 2.8l-2.8 2.8l-2.8-2.8zM62.6 160.5l2.8 2.8l-2.8 2.8l-2.8-2.8zM63.9 160.5l2.8 2.8l-2.8 2.8l-2.8-2.8zM65.1 159.6l2.8 2.8l-2.8 2.8l-2.8-2.8zM66.4 159.3l2.8 2.8l-2.8 2.8l-2.8-2.8zM67.5 159.3l2.8 2.8l-2.8 2.8l-2.8-2.8zM68.8 157.8l2.8 2.8l-2.8 2.8l-2.8-2.8zM70.0 156.7l2.8 2.8l-2.8 2.8l-2.8-2.8zM71.2 156.0l2.8 2.8l-2.8 2.8l-2.8-2.8zM72.4 156.1l2.8 2.8l-2.8 2.8l-2.8-2.8zM73.8 155.7l2.8 2.8l-2.8 2.8l-2.8-2.8zM74.8 155.0l2.8 2.8l-2.8 2.8l-2.8-2.8zM76.2 155.4l2.8 2.8l-2.8 2.8l-2.8-2.8zM77.4 154.8l2.8 2.8l-2.8 2.8l-2.8-2.8zM78.6 155.8l2.8 2.8l-2.8 2.8l-2.8-2.8zM79.9 155.7l2.8 2.8l-2.8 2.8l-2.8-2.8zM81.0 155.8l2.8 2.8l-2.8 2.8l-2.8-2.8zM82.2 155.2l2.8 2.8l-2.8 2.8l-2.8-2.8zM83.6 155.9l2.8 2.8l-2.8 2.8l-2.8-2.8zM84.8 155.8l2.8 2.8l-2.8 2.8l-2.8-2.8zM86.0 155.9l2.8 2.8l-2.8 2.8l-2.8-2.8zM87.0 156.2l2.8 2.8l-2.8 2.8l-2.8-2.8zM88.5 156.2l2.8 2.8l-2.8 2.8l-2.8-2.8zM89.7 156.6l2.8 2.8l-2.8 2.8l-2.8-2.8zM91.0 158.0l2.8 2.8l-2.8 2.8l-2.8-2.8zM92.1 157.8l2.8 2.8l-2.8 2.8l-2.8-2.8zM93.1 158.1l2.8 2.8l-2.8 2.8l-2.8-2.8zM94.6 158.6l2.8 2.8l-2.8 2.8l-2.8-2.8zM95.7 157.4l2.8 2.8l-2.8 2.8l-2.8-2.8zM96.7 158.0l2.8 2.8l-2.8 2.8l-2.8-2.8zM98.2 158.4l2.8 2.8l-2.8 2.8l-2.8-2.8zM99.3 158.4l2.8 2.8l-2.8 2.8l-2.8-2.8zM100.5 157.7l2.8 2.8l-2.8 2.8l-2.8-2.8zM101.8 157.9l2.8 2.8l-2.8 2.8l-2.8-2.8zM103.2 157.1l2.8 2.8l-2.8 2.8l-2.8-2.8zM104.3 156.0l2.8 2.8l-2.8 2.8l-2.8-2.8zM105.6 155.6l2.8 2.8l-2.8 2.8l-2.8-2.8zM106.9 155.8l2.8 2.8l-2.8 2.8l-2.8-2.8zM108.2 155.0l2.8 2.8l-2.8 2.8l-2.8-2.8zM109.2 153.2l2.8 2.8l-2.8 2.8l-2.8-2.8zM110.4 153.9l2.8 2.8l-2.8 2.8l-2.8-2.8zM111.5 152.9l2.8 2.8l-2.8 2.8l-2.8-2.8zM112.8 152.6l2.8 2.8l-2.8 2.8l-2.8-2.8zM114.2 151.1l2.8 2.8l-2.8 2.8l-2.8-2.8zM115.4 150.4l2.8 2.8l-2.8 2.8l-2.8-2.8zM116.6 149.3l2.8 2.8l-2.8 2.8l-2.8-2.8zM117.9 150.1l2.8 2.8l-2.8 2.8l-2.8-2.8zM118.9 148.0l2.8 2.8l-2.8 2.8l-2.8-2.8zM120.2 147.9l2.8 2.8l-2.8 2.8l-2.8-2.8zM121.5 145.9l2.8 2.8l-2.8 2.8l-2.8-2.8zM122.8 145.2l2.8 2.8l-2.8 2.8l-2.8-2.8zM124.0 143.1l2.8 2.8l-2.8 2.8l-2.8-2.8zM125.2 142.4l2.8 2.8l-2.8 2.8l-2.8-2.8zM126.3 142.0l2.8 2.8l-2.8 2.8l-2.8-2.8zM127.6 139.9l2.8 2.8l-2.8 2.8l-2.8-2.8zM128.7 139.9l2.8 2.8l-2.8 2.8l-2.8-2.8zM129.9 138.6l2.8 2.8l-2.8 2.8l-2.8-2.8zM131.3 136.9l2.8 2.8l-2.8 2.8l-2.8-2.8zM132.5 136.1l2.8 2.8l-2.8 2.8l-2.8-2.8zM133.8 135.0l2.8 2.8l-2.8 2.8l-2.8-2.8zM134.8 134.1l2.8 2.8l-2.8 2.8l-2.8-2.8zM136.1 132.8l2.8 2.8l-2.8 2.8l-2.8-2.8zM137.3 131.4l2.8 2.8l-2.8 2.8l-2.8-2.8zM138.5 130.3l2.8 2.8l-2.8 2.8l-2.8-2.8zM139.6 128.5l2.8 2.8l-2.8 2.8l-2.8-2.8zM141.0 126.8l2.8 2.8l-2.8 2.8l-2.8-2.8zM142.4 125.8l2.8 2.8l-2.8 2.8l-2.8-2.8zM143.6 124.6l2.8 2.8l-2.8 2.8l-2.8-2.8zM144.7 122.1l2.8 2.8l-2.8 2.8l-2.8-2.8zM146.0 121.3l2.8 2.8l-2.8 2.8l-2.8-2.8zM147.3 119.5l2.8 2.8l-2.8 2.8l-2.8-2.8zM148.1 117.7l2.8 2.8l-2.8 2.8l-2.8-2.8zM149.6 116.7l2.8 2.8l-2.8 2.8l-2.8-2.8zM150.9 114.2l2.8 2.8l-2.8 2.8l-2.8-2.8zM152.2 113.2l2.8 2.8l-2.8 2.8l-2.8-2.8zM153.5 110.3l2.8 2.8l-2.8 2.8l-2.8-2.8zM154.7 108.9l2.8 2.8l-2.8 2.8l-2.8-2.8zM155.8 106.3l2.8 2.8l-2.8 2.8l-2.8-2.8zM157.0 103.5l2.8 2.8l-2.8 2.8l-2.8-2.8zM158.3 101.8l2.8 2.8l-2.8 2.8l-2.8-2.8zM159.4 99.2l2.8 2.8l-2.8 2.8l-2.8-2.8zM160.7 97.5l2.8 2.8l-2.8 2.8l-2.8-2.8zM162.0 95.3l2.8 2.8l-2.8 2.8l-2.8-2.8zM163.3 93.1l2.8 2.8l-2.8 2.8l-2.8-2.8zM164.3 91.6l2.8 2.8l-2.8 2.8l-2.8-2.8zM165.6 89.4l2.8 2.8l-2.8 2.8l-2.8-2.8zM166.8 87.5l2.8 2.8l-2.8 2.8l-2.8-2.8zM168.2 84.8l2.8 2.8l-2.8 2.8l-2.8-2.8zM169.2 85.4l2.8 2.8l-2.8 2.8l-2.8-2.8zM170.6 85.8l2.8 2.8l-2.8 2.8l-2.8-2.8zM171.6 88.4l2.8 2.8l-2.8 2.8l-2.8-2.8zM172.9 89.4l2.8 2.8l-2.8 2.8l-2.8-2.8zM174.1 91.0l2.8 2.8l-2.8 2.8l-2.8-2.8zM175.5 93.8l2.8 2.8l-2.8 2.8l-2.8-2.8zM176.7 96.7l2.8 2.8l-2.8 2.8l-2.8-2.8zM177.7 98.4l2.8 2.8l-2.8 2.8l-2.8-2.8zM179.0 101.9l2.8 2.8l-2.8 2.8l-2.8-2.8zM180.3 105.1l2.8 2.8l-2.8 2.8l-2.8-2.8zM181.4 108.2l2.8 2.8l-2.8 2.8l-2.8-2.8zM182.6 112.8l2.8 2.8l-2.8 2.8l-2.8-2.8zM184.1 116.7l2.8 2.8l-2.8 2.8l-2.8-2.8zM185.2 121.3l2.8 2.8l-2.8 2.8l-2.8-2.8zM186.4 126.1l2.8 2.8l-2.8 2.8l-2.8-2.8zM187.6 129.1l2.8 2.8l-2.8 2.8l-2.8-2.8zM189.0 133.3l2.8 2.8l-2.8 2.8l-2.8-2.8zM190.1 137.1l2.8 2.8l-2.8 2.8l-2.8-2.8zM191.4 140.9l2.8 2.8l-2.8 2.8l-2.8-2.8zM192.4 143.4l2.8 2.8l-2.8 2.8l-2.8-2.8zM193.7 147.4l2.8 2.8l-2.8 2.8l-2.8-2.8zM195.0 148.6l2.8 2.8l-2.8 2.8l-2.8-2.8zM196.1 151.1l2.8 2.8l-2.8 2.8l-2.8-2.8zM197.5 153.0l2.8 2.8l-2.8 2.8l-2.8-2.8zM198.7 155.0l2.8 2.8l-2.8 2.8l-2.8-2.8zM199.8 156.7l2.8 2.8l-2.8 2.8l-2.8-2.8zM201.1 159.1l2.8 2.8l-2.8 2.8l-2.8-2.8zM202.3 159.1l2.8 2.8l-2.8 2.8l-2.8-2.8zM203.6 160.1l2.8 2.8l-2.8 2.8l-2.8-2.8zM204.7 161.4l2.8 2.8l-2.8 2.8l-2.8-2.8zM206.0 162.1l2.8 2.8l-2.8 2.8l-2.8-2.8zM207.3 163.8l2.8 2.8l-2.8 2.8l-2.8-2.8zM208.7 164.5l2.8 2.8l-2.8 2.8l-2.8-2.8zM209.9 164.3l2.8 2.8l-2.8 2.8l-2.8-2.8zM210.9 164.7l2.8 2.8l-2.8 2.8l-2.8-2.8zM212.1 165.8l2.8 2.8l-2.8 2.8l-2.8-2.8zM213.5 167.1l2.8 2.8l-2.8 2.8l-2.8-2.8zM214.6 165.5l2.8 2.8l-2.8 2.8l-2.8-2.8zM215.7 167.2l2.8 2.8l-2.8 2.8l-2.8-2.8zM217.0 166.7l2.8 2.8l-2.8 2.8l-2.8-2.8zM218.3 167.8l2.8 2.8l-2.8 2.8l-2.8-2.8zM219.4 167.0l2.8 2.8l-2.8 2.8l-2.8-2.8zM220.5 167.5l2.8 2.8l-2.8 2.8l-2.8-2.8zM221.8 167.1l2.8 2.8l-2.8 2.8l-2.8-2.8zM223.2 167.4l2.8 2.8l-2.8 2.8l-2.8-2.8zM224.3 168.6l2.8 2.8l-2.8 2.8l-2.8-2.8zM225.6 168.4l2.8 2.8l-2.8 2.8l-2.8-2.8zM226.8 168.0l2.8 2.8l-2.8 2.8l-2.8-2.8zM228.1 167.9l2.8 2.8l-2.8 2.8l-2.8-2.8zM229.2 167.5l2.8 2.8l-2.8 2.8l-2.8-2.8zM230.5 168.2l2.8 2.8l-2.8 2.8l-2.8-2.8zM231.6 168.4l2.8 2.8l-2.8 2.8l-2.8-2.8zM232.9 168.4l2.8 2.8l-2.8 2.8l-2.8-2.8zM234.1 168.4l2.8 2.8l-2.8 2.8l-2.8-2.8zM235.5 168.0l2.8 2.8l-2.8 2.8l-2.8-2.8zM236.6 168.5l2.8 2.8l-2.8 2.8l-2.8-2.8zM237.8 168.5l2.8 2.8l-2.8 2.8l-2.8-2.8zM239.0 169.2l2.8 2.8l-2.8 2.8l-2.8-2.8zM240.3 169.6l2.8 2.8l-2.8 2.8l-2.8-2.8zM241.6 168.8l2.8 2.8l-2.8 2.8l-2.8-2.8zM242.6 168.7l2.8 2.8l-2.8 2.8l-2.8-2.8zM243.9 169.1l2.8 2.8l-2.8 2.8l-2.8-2.8zM245.2 169.0l2.8 2.8l-2.8 2.8l-2.8-2.8zM246.7 169.1l2.8 2.8l-2.8 2.8l-2.8-2.8z" fill="#0000fa"/>
<path d="M34.0 221.7 L34.5 221.7 L35.0 221.7 L35.5 221.7 L36.0 221.7 L36.5 221.7 L37.0 221.7 L37.5 221.7 L38.0 221.7 L38.5 221.7 L39.0 221.7 L39.5 221.7 L40.0 221.7 L40.5 221.7 L41.0 221.7 L41.5 221.7 L42.0 221.7 L42.5 221.7 L43.0 221.7 L43.5 221.7 L44.0 221.7 L44.5 221.7 L45.0 221.7 L45.5 221.7 L46.0 221.7 L46.5 221.7 L47.0 221.7 L47.5 221.7 L48.0 221.7 L48.5 221.7 L49.0 221.7 L49.5 221.7 L50.0 221.7 L50.5 221.7 L51.0 221.7 L51.5 221.7 L52.0 221.7 L52.5 221.7 L53.0 221.7 L53.5 221.7 L54.0 221.7 L54.5 221.7 L55.0 221.7 L55.5 221.7 L56.0 221.7 L56.5 221.7 L57.0 221.7 L57.5 221.7 L58.0 221.7 L58.5 221.7 L59.0 221.7 L59.5 221.7 L60.0 221.7 L60.5 221.7 L61.0 221.7 L61.5 221.7 L62.0 221.7 L62.5 221.7 L63.0 221.7 L63.5 221.7 L64.0 221.7 L64.5 221.7 L65.0 221.7 L65.5 221.7 L66.0 221.7 L66.5 221.7 L67.0 221.7 L67.5 221.7 L68.0 221.7 L68.5 221.7 L69.0 221.7 L69.5 221.7 L70.0 221.7 L70.5 221.7 L71.0 221.7 L71.5 221.7 L72.0 221.7 L72.5 221.7 L73.0 221.7 L73.5 221.7 L74.0 221.7 L74.5 221.7 L75.0 221.7 L75.5 221.7 L76.0 221.7 L76.5 221.7 L77.0 221.7 L77.5 221.7 L78.0 221.7 L78.5 221.7 L79.0 221.7 L79.5 221.7 L80.0 221.7 L80.5 221.7 L81.0 221.7 L81.5 221.7 L82.0 221.7 L82.5 221.7 L83.0 221.7 L83.5 221.7 L84.0 221.7 L84.5 221.7 L85.0 221.7 L85.5 221.7 L86.0 221.7 L86.5 221.7 L87.0 221.7 L87.5 221.7 L88.0 221.7 L88.5 221.7 L89.0 221.7 L89.5 221.7 L90.0 221.7 L90.5 221.7 L91.0 221.7 L91.5 221.7 L92.0 221.7 L92.5 221.7 L93.0 221.7 L93.5 221.7 L94.0 221.7 L94.5 221.7 L95.0 221.7 L95.5 221.7 L96.0 221.7 L96.5 221.7 L97.0 221.7 L97.5 221.7 L98.0 221.7 L98.5 221.7 L99.0 221.7 L99.5 221.7 L100.0 221.7 L100.5 221.7 L101.0 221.7 L101.5 221.7 L102.0 221.7 L102.5 221.7 L103.0 221.7 L103.5 221.7 L104.0 221.7 L104.5 221.7 L105.0 221.7 L105.5 221.7 L106.0 221.7 L106.5 221.7 L107.0 221.7 L107.5 221.7 L108.0 221.7 L108.5 221.7 L109.0 221.7 L109.5 221.7 L110.0 221.7 L110.5 221.7 L111.0 221.7 L111.5 221.7 L112.0 221.7 L112.5 221.7 L113.0 221.7 L113.5 221.7 L114.0 221.7 L114.5 221.7 L115.0 221.7 L115.5 221.7 L116.0 221.7 L116.5 221.7 L117.0 221.7 L117.5 221.7 L118.0 221.7 L118.5 221.7 L119.0 221.7 L119.5 221.7 L120.0 221.7 L120.5 221.7 L121.0 221.7 L121.5 221.7 L122.0 221.7 L122.5 221.7 L123.0 221.7 L123.5 221.7 L124.0 221.7 L124.5 221.8 L125.0 221.8 L125.5 221.8 L126.0 221.8 L126.5 221.8 L127.0 221.8 L127.5 221.8 L128.0 221.8 L128.5 221.8 L129.0 221.8 L129.5 221.8 L130.0 221.8 L130.5 221.8 L131.0 221.8 L131.5 221.8 L132.0 221.8 L132.5 221.8 L133.0 221.8 L133.5 221.8 L134.0 221.8 L134.5 221.8 L135.0 221.8 L135.5 221.9 L136.0 221.9 L136.5 221.9 L137.0 221.9 L137.5 221.9 L138.0 221.9 L138.5 221.9 L139.0 221.9 L139.5 221.9 L140.0 221.9 L140.5 222.0 L141.0 222.0 L141.5 222.0 L142.0 222.0 L142.5 222.0 L143.0 222.0 L143.5 222.0 L144.0 222.1 L144.5 222.1 L145.0 222.1 L145.5 222.1 L146.0 222.1 L146.5 222.2 L147.0 222.2 L147.5 222.2 L148.0 222.2 L148.5 222.2 L149.0 222.3 L149.5 222.3 L150.0 222.3 L150.5 222.3 L151.0 222.4 L151.5 222.4 L152.0 222.4 L152.5 222.5 L153.0 222.5 L153.5 222.5 L154.0 222.6 L154.5 222.6 L155.0 222.6 L155.5 222.7 L156.0 222.7 L156.5 222.7 L157.0 222.8 L157.5 222.8 L158.0 222.8 L158.5 222.9 L159.0 222.9 L159.5 223.0 L160.0 223.0 L160.5 223.0 L161.0 223.1 L161.5 223.1 L162.0 223.2 L162.5 223.2 L163.0 223.3 L163.5 223.3 L164.0 223.3 L164.5 223.4 L165.0 223.4 L165.5 223.5 L166.0 223.5 L166.5 223.6 L167.0 223.6 L167.5 223.7 L168.0 223.7 L168.5 223.7 L169.0 223.8 L169.5 223.8 L170.0 223.9 L170.5 223.9 L171.0 223.9 L171.5 224.0 L172.0 224.0 L172.5 224.0 L173.0 224.1 L173.5 224.1 L174.0 224.1 L174.5 224.2 L175.0 224.2 L175.5 224.2 L176.0 224.3 L176.5 224.3 L177.0 224.3 L177.5 224.4 L178.0 224.4 L178.5 224.4 L179.0 224.4 L179.5 224.5 L180.0 224.5 L180.5 224.5 L181.0 224.5 L181.5 224.5 L182.0 224.6 L182.5 224.6 L183.0 224.6 L183.5 224.6 L184.0 224.6 L184.5 224.7 L185.0 224.7 L185.5 224.7 L186.0 224.7 L186.5 224.7 L187.0 224.7 L187.5 224.7 L188.0 224.8 L188.5 224.8 L189.0 224.8 L189.5 224.8 L190.0 224.8 L190.5 224.8 L191.0 224.8 L191.5 224.8 L192.0 224.8 L192.5 224.8 L193.0 224.9 L193.5 224.9 L194.0 224.9 L194.5 224.9 L195.0 224.9 L195.5 224.9 L196.0 224.9 L196.5 224.9 L197.0 224.9 L197.5 224.9 L198.0 224.9 L198.5 224.9 L199.0 224.9 L199.5 224.9 L200.0 224.9 L200.5 224.9 L201.0 224.9 L201.5 224.9 L202.0 224.9 L202.5 224.9 L203.0 224.9 L203.5 224.9 L204.0 225.0 L204.5 225.0 L205.0 225.0 L205.5 225.0 L206.0 225.0 L206.5 225.0 L207.0 225.0 L207.5 225.0 L208.0 225.0 L208.5 225.0 L209.0 225.0 L209.5 225.0 L210.0 225.0 L210.5 225.0 L211.0 225.0 L211.5 225.0 L212.0 225.0 L212.5 225.0 L213.0 225.0 L213.5 225.0 L214.0 225.0 L214.5 225.0 L215.0 225.0 L215.5 225.0 L216.0 225.0 L216.5 225.0 L217.0 225.0 L217.5 225.0 L218.0 225.0 L218.5 225.0 L219.0 225.0 L219.5 225.0 L220.0 225.0 L220.5 225.0 L221.0 225.0 L221.5 225.0 L222.0 225.0 L222.5 225.0 L223.0 225.0 L223.5 225.0 L224.0 225.0 L224.5 225.0 L225.0 225.0 L225.5 225.0 L226.0 225.0 L226.5 225.0 L227.0 225.0 L227.5 225.0 L228.0 225.0 L228.5 225.0 L229.0 225.0 L229.5 225.0 L230.0 225.0 L230.5 225.0 L231.0 225.0 L231.5 225.0 L232.0 225.0 L232.5 225.0 L233.0 225.0 L233.5 225.0 L234.0 225.0 L234.5 225.0 L235.0 225.0 L235.5 225.0 L236.0 225.0 L236.5 225.0 L237.0 225.0 L237.5 225.0 L238.0 225.0 L238.5 225.0 L239.0 225.0 L239.5 225.0 L240.0 225.0 L240.5 225.0 L241.0 225.0 L241.5 225.0 L242.0 225.0 L242.5 225.0 L243.0 225.0 L243.5 225.0 L244.0 225.0 L244.5 225.0 L245.0 225.0 L245.5 225.0 L246.0 225.0" fill="none" stroke="#ff0000" stroke-width="1.2"/>
<path d="M34.0 221.7 L34.5 221.7 L35.0 221.7 L35.5 221.7 L36.0 221.7 L36.5 221.7 L37.0 221.7 L37.5 221.7 L38.0 221.7 L38.5 221.7 L39.0 221.7 L39.5 221.7 L40.0 221.7 L40.5 221.7 L41.0 221.7 L41.5 221.7 L42.0 221.7 L42.5 221.7 L43.0 221.7 L43.5 221.7 L44.0 221.7 L44.5 221.7 L45.0 221.7 L45.5 221.7 L46.0 221.7 L46.5 221.7 L47.0 221.7 L47.5 221.7 L48.0 221.7 L48.5 221.7 L49.0 221.7 L49.5 221.7 L50.0 221.7 L50.5 221.7 L51.0 221.7 L51.5 221.7 L52.0 221.7 L52.5 221.7 L53.0 221.7 L53.5 221.7 L54.0 221.7 L54.5 221.7 L55.0 221.7 L55.5 221.7 L56.0 221.7 L56.5 221.7 L57.0 221.7 L57.5 221.7 L58.0 221.7 L58.5 221.7 L59.0 221.7 L59.5 221.7 L60.0 221.7 L60.5 221.7 L61.0 221.7 L61.5 221.7 L62.0 221.7 L62.5 221.7 L63.0 221.7 L63.5 221.7 L64.0 221.7 L64.5 221.7 L65.0 221.7 L65.5 221.7 L66.0 221.7 L66.5 221.7 L67.0 221.7 L67.5 221.7 L68.0 221.7 L68.5 221.7 L69.0 221.7 L69.5 221.7 L70.0 221.7 L70.5 221.7 L71.0 221.7 L71.5 221.7 L72.0 221.7 L72.5 221.7 L73.0 221.7 L73.5 221.7 L74.0 221.7 L74.5 221.7 L75.0 221.7 L75.5 221.7 L76.0 221.7 L76.5 221.7 L77.0 221.7 L77.5 221.7 L78.0 221.7 L78.5 221.7 L79.0 221.7 L79.5 221.7 L80.0 221.7 L80.5 221.7 L81.0 221.7 L81.5 221.6 L82.0 221.6 L82.5 221.6 L83.0 221.6 L83.5 221.6 L84.0 221.6 L84.5 221.6 L85.0 221.6 L85.5 221.6 L86.0 221.5 L86.5 221.5 L87.0 221.5 L87.5 221.5 L88.0 221.5 L88.5 221.4 L89.0 221.4 L89.5 221.4 L90.0 221.3 L90.5 221.3 L91.0 221.3 L91.5 221.2 L92.0 221.2 L92.5 221.1 L93.0 221.1 L93.5 221.0 L94.0 220.9 L94.5 220.9 L95.0 220.8 L95.5 220.7 L96.0 220.6 L96.5 220.5 L97.0 220.4 L97.5 220.3 L98.0 220.2 L98.5 220.1 L99.0 220.0 L99.5 219.9 L100.0 219.7 L100.5 219.6 L101.0 219.4 L101.5 219.3 L102.0 219.1 L102.5 219.0 L103.0 218.8 L103.5 218.6 L104.0 218.4 L104.5 218.2 L105.0 218.0 L105.5 217.8 L106.0 217.6 L106.5 217.4 L107.0 217.2 L107.5 217.0 L108.0 216.7 L108.5 216.5 L109.0 216.3 L109.5 216.0 L110.0 215.8 L110.5 215.6 L111.0 215.3 L111.5 215.1 L112.0 214.8 L112.5 214.6 L113.0 214.4 L113.5 214.1 L114.0 213.9 L114.5 213.7 L115.0 213.5 L115.5 213.3 L116.0 213.1 L116.5 212.9 L117.0 212.7 L117.5 212.5 L118.0 212.4 L118.5 212.2 L119.0 212.1 L119.5 211.9 L120.0 211.8 L120.5 211.7 L121.0 211.6 L121.5 211.5 L122.0 211.5 L122.5 211.4 L123.0 211.4 L123.5 211.4 L124.0 211.3 L124.5 211.4 L125.0 211.4 L125.5 211.4 L126.0 211.5 L126.5 211.5 L127.0 211.6 L127.5 211.7 L128.0 211.8 L128.5 212.0 L129.0 212.1 L129.5 212.3 L130.0 212.4 L130.5 212.6 L131.0 212.8 L131.5 213.0 L132.0 213.2 L132.5 213.4 L133.0 213.6 L133.5 213.8 L134.0 214.0 L134.5 214.3 L135.0 214.5 L135.5 214.8 L136.0 215.0 L136.5 215.2 L137.0 215.5 L137.5 215.7 L138.0 216.0 L138.5 216.2 L139.0 216.5 L139.5 216.7 L140.0 217.0 L140.5 217.2 L141.0 217.5 L141.5 217.7 L142.0 217.9 L142.5 218.1 L143.0 218.4 L143.5 218.6 L144.0 218.8 L144.5 219.0 L145.0 219.2 L145.5 219.4 L146.0 219.6 L146.5 219.7 L147.0 219.9 L147.5 220.1 L148.0 220.2 L148.5 220.4 L149.0 220.6 L149.5 220.7 L150.0 220.8 L150.5 221.0 L151.0 221.1 L151.5 221.2 L152.0 221.3 L152.5 221.5 L153.0 221.6 L153.5 221.7 L154.0 221.8 L154.5 221.9 L155.0 222.0 L155.5 222.1 L156.0 222.2 L156.5 222.2 L157.0 222.3 L157.5 222.4 L158.0 222.5 L158.5 222.5 L159.0 222.6 L159.5 222.7 L160.0 222.8 L160.5 222.8 L161.0 222.9 L161.5 223.0 L162.0 223.0 L162.5 223.1 L163.0 223.1 L163.5 223.2 L164.0 223.2 L164.5 223.3 L165.0 223.4 L165.5 223.4 L166.0 223.5 L166.5 223.5 L167.0 223.6 L167.5 223.6 L168.0 223.7 L168.5 223.7 L169.0 223.7 L169.5 223.8 L170.0 223.8 L170.5 223.9 L171.0 223.9 L171.5 224.0 L172.0 224.0 L172.5 224.0 L173.0 224.1 L173.5 224.1 L174.0 224.1 L174.5 224.2 L175.0 224.2 L175.5 224.2 L176.0 224.3 L176.5 224.3 L177.0 224.3 L177.5 224.4 L178.0 224.4 L178.5 224.4 L179.0 224.4 L179.5 224.5 L180.0 224.5 L180.5 224.5 L181.0 224.5 L181.5 224.5 L182.0 224.6 L182.5 224.6 L183.0 224.6 L183.5 224.6 L184.0 224.6 L184.5 224.7 L185.0 224.7 L185.5 224.7 L186.0 224.7 L186.5 224.7 L187.0 224.7 L187.5 224.7 L188.0 224.8 L188.5 224.8 L189.0 224.8 L189.5 224.8 L190.0 224.8 L190.5 224.8 L191.0 224.8 L191.5 224.8 L192.0 224.8 L192.5 224.8 L193.0 224.9 L193.5 224.9 L194.0 224.9 L194.5 224.9 L195.0 224.9 L195.5 224.9 L196.0 224.9 L196.5 224.9 L197.0 224.9 L197.5 224.9 L198.0 224.9 L198.5 224.9 L199.0 224.9 L199.5 224.9 L200.0 224.9 L200.5 224.9 L201.0 224.9 L201.5 224.9 L202.0 224.9 L202.5 224.9 L203.0 224.9 L203.5 224.9 L204.0 225.0 L204.5 225.0 L205.0 225.0 L205.5 225.0 L206.0 225.0 L206.5 225.0 L207.0 225.0 L207.5 225.0 L208.0 225.0 L208.5 225.0 L209.0 225.0 L209.5 225.0 L210.0 225.0 L210.5 225.0 L211.0 225.0 L211.5 225.0 L212.0 225.0 L212.5 225.0 L213.0 225.0 L213.5 225.0 L214.0 225.0 L214.5 225.0 L215.0 225.0 L215.5 225.0 L216.0 225.0 L216.5 225.0 L217.0 225.0 L217.5 225.0 L218.0 225.0 L218.5 225.0 L219.0 225.0 L219.5 225.0 L220.0 225.0 L220.5 225.0 L221.0 225.0 L221.5 225.0 L222.0 225.0 L222.5 225.0 L223.0 225.0 L223.5 225.0 L224.0 225.0 L224.5 225.0 L225.0 225.0 L225.5 225.0 L226.0 225.0 L226.5 225.0 L227.0 225.0 L227.5 225.0 L228.0 225.0 L228.5 225.0 L229.0 225.0 L229.5 225.0 L230.0 225.0 L230.5 225.0 L231.0 225.0 L231.5 225.0 L232.0 225.0 L232.5 225.0 L233.0 225.0 L233.5 225.0 L234.0 225.0 L234.5 225.0 L235.0 225.0 L235.5 225.0 L236.0 225.0 L236.5 225.0 L237.0 225.0 L237.5 225.0 L238.0 225.0 L238.5 225.0 L239.0 225.0 L239.5 225.0 L240.0 225.0 L240.5 225.0 L241.0 225.0 L241.5 225.0 L242.0 225.0 L242.5 225.0 L243.0 225.0 L243.5 225.0 L244.0 225.0 L244.5 225.0 L245.0 225.0 L245.5 225.0 L246.0 225.0" fill="none" stroke="#ff0000" stroke-width="1.2"/>
<path d="M34.0 221.7 L34.5 221.7 L35.0 221.7 L35.5 221.7 L36.0 221.7 L36.5 221.7 L37.0 221.7 L37.5 221.7 L38.0 221.7 L38.5 221.7 L39.0 221.7 L39.5 221.7 L40.0 221.7 L40.5 221.7 L41.0 221.7 L41.5 221.7 L42.0 221.7 L42.5 221.7 L43.0 221.7 L43.5 221.7 L44.0 221.7 L44.5 221.7 L45.0 221.7 L45.5 221.7 L46.0 221.7 L46.5 221.7 L47.0 221.7 L47.5 221.7 L48.0 221.7 L48.5 221.7 L49.0 221.7 L49.5 221.7 L50.0 221.7 L50.5 221.7 L51.0 221.7 L51.5 221.7 L52.0 221.7 L52.5 221.7 L53.0 221.7 L53.5 221.7 L54.0 221.7 L54.5 221.7 L55.0 221.7 L55.5 221.7 L56.0 221.7 L56.5 221.7 L57.0 221.7 L57.5 221.7 L58.0 221.7 L58.5 221.7 L59.0 221.7 L59.5 221.7 L60.0 221.7 L60.5 221.7 L61.0 221.7 L61.5 221.7 L62.0 221.7 L62.5 221.7 L63.0 221.7 L63.5 221.7 L64.0 221.7 L64.5 221.7 L65.0 221.7 L65.5 221.7 L66.0 221.7 L66.5 221.7 L67.0 221.7 L67.5 221.7 L68.0 221.7 L68.5 221.7 L69.0 221.7 L69.5 221.7 L70.0 221.7 L70.5 221.7 L71.0 221.7 L71.5 221.7 L72.0 221.7 L72.5 221.7 L73.0 221.7 L73.5 221.7 L74.0 221.7 L74.5 221.7 L75.0 221.7 L75.5 221.7 L76.0 221.7 L76.5 221.7 L77.0 221.7 L77.5 221.7 L78.0 221.7 L78.5 221.7 L79.0 221.7 L79.5 221.7 L80.0 221.7 L80.5 221.7 L81.0 221.7 L81.5 221.7 L82.0 221.7 L82.5 221.7 L83.0 221.7 L83.5 221.7 L84.0 221.7 L84.5 221.7 L85.0 221.7 L85.5 221.7 L86.0 221.7 L86.5 221.7 L87.0 221.7 L87.5 221.7 L88.0 221.7 L88.5 221.7 L89.0 221.7 L89.5 221.7 L90.0 221.7 L90.5 221.7 L91.0 221.7 L91.5 221.7 L92.0 221.7 L92.5 221.7 L93.0 221.7 L93.5 221.7 L94.0 221.7 L94.5 221.7 L95.0 221.7 L95.5 221.7 L96.0 221.7 L96.5 221.7 L97.0 221.6 L97.5 221.6 L98.0 221.6 L98.5 221.6 L99.0 221.6 L99.5 221.6 L100.0 221.6 L100.5 221.6 L101.0 221.6 L101.5 221.6 L102.0 221.5 L102.5 221.5 L103.0 221.5 L103.5 221.5 L104.0 221.4 L104.5 221.4 L105.0 221.4 L105.5 221.4 L106.0 221.3 L106.5 221.3 L107.0 221.2 L107.5 221.2 L108.0 221.1 L108.5 221.1 L109.0 221.0 L109.5 221.0 L110.0 220.9 L110.5 220.8 L111.0 220.7 L111.5 220.6 L112.0 220.6 L112.5 220.5 L113.0 220.3 L113.5 220.2 L114.0 220.1 L114.5 220.0 L115.0 219.8 L115.5 219.7 L116.0 219.5 L116.5 219.4 L117.0 219.2 L117.5 219.0 L118.0 218.8 L118.5 218.6 L119.0 218.4 L119.5 218.1 L120.0 217.9 L120.5 217.6 L121.0 217.4 L121.5 217.1 L122.0 216.8 L122.5 216.5 L123.0 216.2 L123.5 215.8 L124.0 215.5 L124.5 215.2 L125.0 214.8 L125.5 214.4 L126.0 214.0 L126.5 213.6 L127.0 213.2 L127.5 212.8 L128.0 212.4 L128.5 212.0 L129.0 211.5 L129.5 211.1 L130.0 210.6 L130.5 210.2 L131.0 209.7 L131.5 209.2 L132.0 208.8 L132.5 208.3 L133.0 207.8 L133.5 207.4 L134.0 206.9 L134.5 206.4 L135.0 206.0 L135.5 205.5 L136.0 205.1 L136.5 204.6 L137.0 204.2 L137.5 203.8 L138.0 203.4 L138.5 203.0 L139.0 202.6 L139.5 202.2 L140.0 201.9 L140.5 201.6 L141.0 201.3 L141.5 201.0 L142.0 200.7 L142.5 200.5 L143.0 200.3 L143.5 200.1 L144.0 199.9 L144.5 199.8 L145.0 199.7 L145.5 199.6 L146.0 199.5 L146.5 199.5 L147.0 199.5 L147.5 199.5 L148.0 199.6 L148.5 199.6 L149.0 199.7 L149.5 199.9 L150.0 200.0 L150.5 200.2 L151.0 200.4 L151.5 200.7 L152.0 200.9 L152.5 201.2 L153.0 201.5 L153.5 201.9 L154.0 202.2 L154.5 202.6 L155.0 203.0 L155.5 203.4 L156.0 203.8 L156.5 204.3 L157.0 204.7 L157.5 205.2 L158.0 205.7 L158.5 206.2 L159.0 206.7 L159.5 207.2 L160.0 207.7 L160.5 208.2 L161.0 208.7 L161.5 209.2 L162.0 209.8 L162.5 210.3 L163.0 210.8 L163.5 211.3 L164.0 211.8 L164.5 212.3 L165.0 212.8 L165.5 213.3 L166.0 213.8 L166.5 214.3 L167.0 214.7 L167.5 215.2 L168.0 215.6 L168.5 216.1 L169.0 216.5 L169.5 216.9 L170.0 217.3 L170.5 217.7 L171.0 218.1 L171.5 218.5 L172.0 218.8 L172.5 219.2 L173.0 219.5 L173.5 219.8 L174.0 220.1 L174.5 220.4 L175.0 220.7 L175.5 220.9 L176.0 221.2 L176.5 221.4 L177.0 221.6 L177.5 221.8 L178.0 222.1 L178.5 222.2 L179.0 222.4 L179.5 222.6 L180.0 222.8 L180.5 222.9 L181.0 223.1 L181.5 223.2 L182.0 223.3 L182.5 223.4 L183.0 223.6 L183.5 223.7 L184.0 223.8 L184.5 223.9 L185.0 223.9 L185.5 224.0 L186.0 224.1 L186.5 224.2 L187.0 224.2 L187.5 224.3 L188.0 224.3 L188.5 224.4 L189.0 224.4 L189.5 224.5 L190.0 224.5 L190.5 224.6 L191.0 224.6 L191.5 224.6 L192.0 224.7 L192.5 224.7 L193.0 224.7 L193.5 224.7 L194.0 224.7 L194.5 224.8 L195.0 224.8 L195.5 224.8 L196.0 224.8 L196.5 224.8 L197.0 224.8 L197.5 224.9 L198.0 224.9 L198.5 224.9 L199.0 224.9 L199.5 224.9 L200.0 224.9 L200.5 224.9 L201.0 224.9 L201.5 224.9 L202.0 224.9 L202.5 224.9 L203.0 224.9 L203.5 224.9 L204.0 224.9 L204.5 224.9 L205.0 224.9 L205.5 225.0 L206.0 225.0 L206.5 225.0 L207.0 225.0 L207.5 225.0 L208.0 225.0 L208.5 225.0 L209.0 225.0 L209.5 225.0 L210.0 225.0 L210.5 225.0 L211.0 225.0 L211.5 225.0 L212.0 225.0 L212.5 225.0 L213.0 225.0 L213.5 225.0 L214.0 225.0 L214.5 225.0 L215.0 225.0 L215.5 225.0 L216.0 225.0 L216.5 225.0 L217.0 225.0 L217.5 225.0 L218.0 225.0 L218.5 225.0 L219.0 225.0 L219.5 225.0 L220.0 225.0 L220.5 225.0 L221.0 225.0 L221.5 225.0 L222.0 225.0 L222.5 225.0 L223.0 225.0 L223.5 225.0 L224.0 225.0 L224.5 225.0 L225.0 225.0 L225.5 225.0 L226.0 225.0 L226.5 225.0 L227.0 225.0 L227.5 225.0 L228.0 225.0 L228.5 225.0 L229.0 225.0 L229.5 225.0 L230.0 225.0 L230.5 225.0 L231.0 225.0 L231.5 225.0 L232.0 225.0 L232.5 225.0 L233.0 225.0 L233.5 225.0 L234.0 225.0 L234.5 225.0 L235.0 225.0 L235.5 225.0 L236.0 225.0 L236.5 225.0 L237.0 225.0 L237.5 225.0 L238.0 225.0 L238.5 225.0 L239.0 225.0 L239.5 225.0 L240.0 225.0 L240.5 225.0 L241.0 225.0 L241.5 225.0 L242.0 225.0 L242.5 225.0 L243.0 225.0 L243.5 225.0 L244.0 225.0 L244.5 225.0 L245.0 225.0 L245.5 225.0 L246.0 225.0" fill="none" stroke="#ff0000" stroke-width="1.2"/>
<path d="M34.0 221.7 L34.5 221.7 L35.0 221.7 L35.5 221.7 L36.0 221.7 L36.5 221.7 L37.0 221.7 L37.5 221.7 L38.0 221.7 L38.5 221.7 L39.0 221.7 L39.5 221.7 L40.0 221.7 L40.5 221.7 L41.0 221.7 L41.5 221.7 L42.0 221.7 L42.5 221.7 L43.0 221.7 L43.5 221.7 L44.0 221.7 L44.5 221.7 L45.0 221.7 L45.5 221.7 L46.0 221.7 L46.5 221.7 L47.0 221.7 L47.5 221.7 L48.0 221.7 L48.5 221.7 L49.0 221.7 L49.5 221.7 L50.0 221.7 L50.5 221.7 L51.0 221.7 L51.5 221.7 L52.0 221.7 L52.5 221.7 L53.0 221.7 L53.5 221.7 L54.0 221.7 L54.5 221.7 L55.0 221.7 L55.5 221.7 L56.0 221.7 L56.5 221.7 L57.0 221.7 L57.5 221.7 L58.0 221.7 L58.5 221.7 L59.0 221.7 L59.5 221.7 L60.0 221.7 L60.5 221.7 L61.0 221.7 L61.5 221.7 L62.0 221.7 L62.5 221.7 L63.0 221.7 L63.5 221.7 L64.0 221.7 L64.5 221.7 L65.0 221.7 L65.5 221.7 L66.0 221.7 L66.5 221.7 L67.0 221.7 L67.5 221.7 L68.0 221.7 L68.5 221.7 L69.0 221.7 L69.5 221.7 L70.0 221.7 L70.5 221.7 L71.0 221.7 L71.5 221.7 L72.0 221.7 L72.5 221.7 L73.0 221.7 L73.5 221.7 L74.0 221.7 L74.5 221.7 L75.0 221.7 L75.5 221.7 L76.0 221.7 L76.5 221.7 L77.0 221.7 L77.5 221.7 L78.0 221.7 L78.5 221.7 L79.0 221.7 L79.5 221.7 L80.0 221.7 L80.5 221.7 L81.0 221.7 L81.5 221.7 L82.0 221.7 L82.5 221.7 L83.0 221.7 L83.5 221.7 L84.0 221.7 L84.5 221.7 L85.0 221.7 L85.5 221.7 L86.0 221.7 L86.5 221.7 L87.0 221.7 L87.5 221.7 L88.0 221.7 L88.5 221.7 L89.0 221.7 L89.5 221.7 L90.0 221.7 L90.5 221.7 L91.0 221.7 L91.5 221.7 L92.0 221.7 L92.5 221.7 L93.0 221.7 L93.5 221.7 L94.0 221.7 L94.5 221.7 L95.0 221.7 L95.5 221.7 L96.0 221.7 L96.5 221.7 L97.0 221.7 L97.5 221.7 L98.0 221.7 L98.5 221.7 L99.0 221.7 L99.5 221.7 L100.0 221.7 L100.5 221.7 L101.0 221.7 L101.5 221.7 L102.0 221.7 L102.5 221.7 L103.0 221.7 L103.5 221.7 L104.0 221.7 L104.5 221.7 L105.0 221.7 L105.5 221.7 L106.0 221.7 L106.5 221.7 L107.0 221.7 L107.5 221.7 L108.0 221.7 L108.5 221.7 L109.0 221.7 L109.5 221.7 L110.0 221.7 L110.5 221.7 L111.0 221.7 L111.5 221.7 L112.0 221.7 L112.5 221.7 L113.0 221.7 L113.5 221.7 L114.0 221.7 L114.5 221.7 L115.0 221.7 L115.5 221.7 L116.0 221.7 L116.5 221.7 L117.0 221.7 L117.5 221.7 L118.0 221.7 L118.5 221.7 L119.0 221.7 L119.5 221.7 L120.0 221.6 L120.5 221.6 L121.0 221.6 L121.5 221.6 L122.0 221.6 L122.5 221.6 L123.0 221.6 L123.5 221.5 L124.0 221.5 L124.5 221.5 L125.0 221.5 L125.5 221.4 L126.0 221.4 L126.5 221.4 L127.0 221.3 L127.5 221.3 L128.0 221.2 L128.5 221.2 L129.0 221.1 L129.5 221.0 L130.0 221.0 L130.5 220.9 L131.0 220.8 L131.5 220.7 L132.0 220.6 L132.5 220.4 L133.0 220.3 L133.5 220.2 L134.0 220.0 L134.5 219.8 L135.0 219.6 L135.5 219.4 L136.0 219.2 L136.5 219.0 L137.0 218.8 L137.5 218.5 L138.0 218.2 L138.5 217.9 L139.0 217.6 L139.5 217.2 L140.0 216.8 L140.5 216.4 L141.0 216.0 L141.5 215.6 L142.0 215.1 L142.5 214.6 L143.0 214.1 L143.5 213.5 L144.0 212.9 L144.5 212.3 L145.0 211.7 L145.5 211.0 L146.0 210.3 L146.5 209.6 L147.0 208.8 L147.5 208.0 L148.0 207.2 L148.5 206.3 L149.0 205.5 L149.5 204.6 L150.0 203.6 L150.5 202.7 L151.0 201.7 L151.5 200.7 L152.0 199.6 L152.5 198.6 L153.0 197.5 L153.5 196.4 L154.0 195.3 L154.5 194.2 L155.0 193.1 L155.5 191.9 L156.0 190.8 L156.5 189.6 L157.0 188.5 L157.5 187.4 L158.0 186.2 L158.5 185.1 L159.0 184.0 L159.5 182.9 L160.0 181.8 L160.5 180.8 L161.0 179.8 L161.5 178.8 L162.0 177.8 L162.5 176.9 L163.0 176.0 L163.5 175.2 L164.0 174.4 L164.5 173.7 L165.0 173.0 L165.5 172.3 L166.0 171.8 L166.5 171.2 L167.0 170.8 L167.5 170.4 L168.0 170.1 L168.5 169.8 L169.0 169.6 L169.5 169.5 L170.0 169.4 L170.5 169.4 L171.0 169.5 L171.5 169.6 L172.0 169.8 L172.5 170.1 L173.0 170.4 L173.5 170.8 L174.0 171.3 L174.5 171.9 L175.0 172.4 L175.5 173.1 L176.0 173.8 L176.5 174.6 L177.0 175.4 L177.5 176.3 L178.0 177.2 L178.5 178.1 L179.0 179.1 L179.5 180.1 L180.0 181.2 L180.5 182.3 L181.0 183.4 L181.5 184.5 L182.0 185.6 L182.5 186.8 L183.0 188.0 L183.5 189.2 L184.0 190.4 L184.5 191.6 L185.0 192.8 L185.5 194.0 L186.0 195.1 L186.5 196.3 L187.0 197.5 L187.5 198.6 L188.0 199.8 L188.5 200.9 L189.0 202.0 L189.5 203.1 L190.0 204.1 L190.5 205.1 L191.0 206.1 L191.5 207.1 L192.0 208.0 L192.5 208.9 L193.0 209.8 L193.5 210.7 L194.0 211.5 L194.5 212.3 L195.0 213.1 L195.5 213.8 L196.0 214.5 L196.5 215.1 L197.0 215.8 L197.5 216.4 L198.0 217.0 L198.5 217.5 L199.0 218.0 L199.5 218.5 L200.0 219.0 L200.5 219.4 L201.0 219.8 L201.5 220.2 L202.0 220.6 L202.5 220.9 L203.0 221.2 L203.5 221.5 L204.0 221.8 L204.5 222.1 L205.0 222.3 L205.5 222.5 L206.0 222.8 L206.5 223.0 L207.0 223.1 L207.5 223.3 L208.0 223.4 L208.5 223.6 L209.0 223.7 L209.5 223.8 L210.0 223.9 L210.5 224.0 L211.0 224.1 L211.5 224.2 L212.0 224.3 L212.5 224.4 L213.0 224.4 L213.5 224.5 L214.0 224.5 L214.5 224.6 L215.0 224.6 L215.5 224.7 L216.0 224.7 L216.5 224.7 L217.0 224.8 L217.5 224.8 L218.0 224.8 L218.5 224.8 L219.0 224.9 L219.5 224.9 L220.0 224.9 L220.5 224.9 L221.0 224.9 L221.5 224.9 L222.0 224.9 L222.5 224.9 L223.0 224.9 L223.5 225.0 L224.0 225.0 L224.5 225.0 L225.0 225.0 L225.5 225.0 L226.0 225.0 L226.5 225.0 L227.0 225.0 L227.5 225.0 L228.0 225.0 L228.5 225.0 L229.0 225.0 L229.5 225.0 L230.0 225.0 L230.5 225.0 L231.0 225.0 L231.5 225.0 L232.0 225.0 L232.5 225.0 L233.0 225.0 L233.5 225.0 L234.0 225.0 L234.5 225.0 L235.0 225.0 L235.5 225.0 L236.0 225.0 L236.5 225.0 L237.0 225.0 L237.5 225.0 L238.0 225.0 L238.5 225.0 L239.0 225.0 L239.5 225.0 L240.0 225.0 L240.5 225.0 L241.0 225.0 L241.5 225.0 L242.0 225.0 L242.5 225.0 L243.0 225.0 L243.5 225.0 L244.0 225.0 L244.5 225.0 L245.0 225.0 L245.5 225.0 L246.0 225.0" fill="none" stroke="#ff0000" stroke-width="1.2"/>
<path d="M34.5 219.9l2.8 2.8l-2.8 2.8l-2.8-2.8zM35.7 219.2l2.8 2.8l-2.8 2.8l-2.8-2.8zM37.1 219.4l2.8 2.8l-2.8 2.8l-2.8-2.8zM38.2 219.8l2.8 2.8l-2.8 2.8l-2.8-2.8zM39.5 218.6l2.8 2.8l-2.8 2.8l-2.8-2.8zM40.5 218.4l2.8 2.8l-2.8 2.8l-2.8-2.8zM41.9 219.0l2.8 2.8l-2.8 2.8l-2.8-2.8zM43.3 218.6l2.8 2.8l-2.8 2.8l-2.8-2.8zM44.4 218.6l2.8 2.8l-2.8 2.8l-2.8-2.8zM45.6 218.0l2.8 2.8l-2.8 2.8l-2.8-2.8zM46.8 218.9l2.8 2.8l-2.8 2.8l-2.8-2.8zM48.2 218.7l2.8 2.8l-2.8 2.8l-2.8-2.8zM49.1 218.1l2.8 2.8l-2.8 2.8l-2.8-2.8zM50.4 218.0l2.8 2.8l-2.8 2.8l-2.8-2.8zM51.7 216.7l2.8 2.8l-2.8 2.8l-2.8-2.8zM52.9 217.8l2.8 2.8l-2.8 2.8l-2.8-2.8zM54.1 217.3l2.8 2.8l-2.8 2.8l-2.8-2.8zM55.4 217.5l2.8 2.8l-2.8 2.8l-2.8-2.8zM56.5 217.5l2.8 2.8l-2.8 2.8l-2.8-2.8zM57.8 216.9l2.8 2.8l-2.8 2.8l-2.8-2.8zM59.0 216.1l2.8 2.8l-2.8 2.8l-2.8-2.8zM60.1 216.8l2.8 2.8l-2.8 2.8l-2.8-2.8zM61.4 216.0l2.8 2.8l-2.8 2.8l-2.8-2.8zM62.8 215.9l2.8 2.8l-2.8 2.8l-2.8-2.8zM63.8 215.5l2.8 2.8l-2.8 2.8l-2.8-2.8zM65.1 215.3l2.8 2.8l-2.8 2.8l-2.8-2.8zM66.4 214.1l2.8 2.8l-2.8 2.8l-2.8-2.8zM67.5 215.5l2.8 2.8l-2.8 2.8l-2.8-2.8zM68.8 214.8l2.8 2.8l-2.8 2.8l-2.8-2.8zM69.9 215.0l2.8 2.8l-2.8 2.8l-2.8-2.8zM71.4 215.2l2.8 2.8l-2.8 2.8l-2.8-2.8zM72.7 214.1l2.8 2.8l-2.8 2.8l-2.8-2.8zM73.9 213.1l2.8 2.8l-2.8 2.8l-2.8-2.8zM74.9 213.4l2.8 2.8l-2.8 2.8l-2.8-2.8zM76.2 213.2l2.8 2.8l-2.8 2.8l-2.8-2.8zM77.4 213.4l2.8 2.8l-2.8 2.8l-2.8-2.8zM78.6 213.5l2.8 2.8l-2.8 2.8l-2.8-2.8zM80.0 212.5l2.8 2.8l-2.8 2.8l-2.8-2.8zM80.9 213.5l2.8 2.8l-2.8 2.8l-2.8-2.8zM82.4 212.6l2.8 2.8l-2.8 2.8l-2.8-2.8zM83.5 213.4l2.8 2.8l-2.8 2.8l-2.8-2.8zM84.9 213.2l2.8 2.8l-2.8 2.8l-2.8-2.8zM86.0 213.1l2.8 2.8l-2.8 2.8l-2.8-2.8zM87.1 213.2l2.8 2.8l-2.8 2.8l-2.8-2.8zM88.4 212.9l2.8 2.8l-2.8 2.8l-2.8-2.8zM89.7 212.9l2.8 2.8l-2.8 2.8l-2.8-2.8zM90.9 212.4l2.8 2.8l-2.8 2.8l-2.8-2.8zM92.1 213.0l2.8 2.8l-2.8 2.8l-2.8-2.8zM93.2 213.8l2.8 2.8l-2.8 2.8l-2.8-2.8zM94.3 213.7l2.8 2.8l-2.8 2.8l-2.8-2.8zM95.8 213.1l2.8 2.8l-2.8 2.8l-2.8-2.8zM97.0 212.6l2.8 2.8l-2.8 2.8l-2.8-2.8zM98.2 211.7l2.8 2.8l-2.8 2.8l-2.8-2.8zM99.4 212.4l2.8 2.8l-2.8 2.8l-2.8-2.8zM100.8 211.5l2.8 2.8l-2.8 2.8l-2.8-2.8zM101.8 211.2l2.8 2.8l-2.8 2.8l-2.8-2.8zM103.0 210.8l2.8 2.8l-2.8 2.8l-2.8-2.8zM104.3 210.7l2.8 2.8l-2.8 2.8l-2.8-2.8zM105.7 210.1l2.8 2.8l-2.8 2.8l-2.8-2.8zM106.6 209.9l2.8 2.8l-2.8 2.8l-2.8-2.8zM108.1 209.1l2.8 2.8l-2.8 2.8l-2.8-2.8zM109.2 209.1l2.8 2.8l-2.8 2.8l-2.8-2.8zM110.3 209.9l2.8 2.8l-2.8 2.8l-2.8-2.8zM111.8 208.5l2.8 2.8l-2.8 2.8l-2.8-2.8zM112.9 208.0l2.8 2.8l-2.8 2.8l-2.8-2.8zM114.0 207.9l2.8 2.8l-2.8 2.8l-2.8-2.8zM115.3 207.6l2.8 2.8l-2.8 2.8l-2.8-2.8zM116.7 206.3l2.8 2.8l-2.8 2.8l-2.8-2.8zM117.9 206.2l2.8 2.8l-2.8 2.8l-2.8-2.8zM119.0 206.0l2.8 2.8l-2.8 2.8l-2.8-2.8zM120.3 205.1l2.8 2.8l-2.8 2.8l-2.8-2.8zM121.5 204.3l2.8 2.8l-2.8 2.8l-2.8-2.8zM122.6 204.2l2.8 2.8l-2.8 2.8l-2.8-2.8zM124.0 202.5l2.8 2.8l-2.8 2.8l-2.8-2.8zM125.1 202.1l2.8 2.8l-2.8 2.8l-2.8-2.8zM126.3 201.0l2.8 2.8l-2.8 2.8l-2.8-2.8zM127.6 200.9l2.8 2.8l-2.8 2.8l-2.8-2.8zM128.8 198.4l2.8 2.8l-2.8 2.8l-2.8-2.8zM130.1 198.0l2.8 2.8l-2.8 2.8l-2.8-2.8zM131.2 196.9l2.8 2.8l-2.8 2.8l-2.8-2.8zM132.5 196.4l2.8 2.8l-2.8 2.8l-2.8-2.8zM133.8 195.3l2.8 2.8l-2.8 2.8l-2.8-2.8zM135.0 194.6l2.8 2.8l-2.8 2.8l-2.8-2.8zM136.3 192.1l2.8 2.8l-2.8 2.8l-2.8-2.8zM137.5 192.0l2.8 2.8l-2.8 2.8l-2.8-2.8zM138.7 190.1l2.8 2.8l-2.8 2.8l-2.8-2.8zM140.1 188.5l2.8 2.8l-2.8 2.8l-2.8-2.8zM141.0 187.5l2.8 2.8l-2.8 2.8l-2.8-2.8zM142.4 185.1l2.8 2.8l-2.8 2.8l-2.8-2.8zM143.5 182.9l2.8 2.8l-2.8 2.8l-2.8-2.8zM144.9 182.2l2.8 2.8l-2.8 2.8l-2.8-2.8zM146.1 180.2l2.8 2.8l-2.8 2.8l-2.8-2.8zM147.0 179.1l2.8 2.8l-2.8 2.8l-2.8-2.8zM148.3 178.2l2.8 2.8l-2.8 2.8l-2.8-2.8zM149.7 176.6l2.8 2.8l-2.8 2.8l-2.8-2.8zM151.0 175.1l2.8 2.8l-2.8 2.8l-2.8-2.8zM152.2 172.0l2.8 2.8l-2.8 2.8l-2.8-2.8zM153.3 169.4l2.8 2.8l-2.8 2.8l-2.8-2.8zM154.6 167.6l2.8 2.8l-2.8 2.8l-2.8-2.8zM155.8 164.9l2.8 2.8l-2.8 2.8l-2.8-2.8zM157.0 162.5l2.8 2.8l-2.8 2.8l-2.8-2.8zM158.3 161.3l2.8 2.8l-2.8 2.8l-2.8-2.8zM159.2 159.3l2.8 2.8l-2.8 2.8l-2.8-2.8zM160.7 157.8l2.8 2.8l-2.8 2.8l-2.8-2.8zM161.8 158.3l2.8 2.8l-2.8 2.8l-2.8-2.8zM163.2 157.4l2.8 2.8l-2.8 2.8l-2.8-2.8zM164.3 157.3l2.8 2.8l-2.8 2.8l-2.8-2.8zM165.5 156.9l2.8 2.8l-2.8 2.8l-2.8-2.8zM166.8 156.9l2.8 2.8l-2.8 2.8l-2.8-2.8zM167.9 156.4l2.8 2.8l-2.8 2.8l-2.8-2.8zM169.2 157.2l2.8 2.8l-2.8 2.8l-2.8-2.8zM170.3 157.3l2.8 2.8l-2.8 2.8l-2.8-2.8zM171.7 158.2l2.8 2.8l-2.8 2.8l-2.8-2.8zM173.0 159.6l2.8 2.8l-2.8 2.8l-2.8-2.8zM174.3 160.3l2.8 2.8l-2.8 2.8l-2.8-2.8zM175.4 162.8l2.8 2.8l-2.8 2.8l-2.8-2.8zM176.7 164.9l2.8 2.8l-2.8 2.8l-2.8-2.8zM177.8 167.7l2.8 2.8l-2.8 2.8l-2.8-2.8zM179.0 169.8l2.8 2.8l-2.8 2.8l-2.8-2.8zM180.3 173.9l2.8 2.8l-2.8 2.8l-2.8-2.8zM181.6 176.0l2.8 2.8l-2.8 2.8l-2.8-2.8zM182.7 178.2l2.8 2.8l-2.8 2.8l-2.8-2.8zM183.9 180.9l2.8 2.8l-2.8 2.8l-2.8-2.8zM185.2 184.9l2.8 2.8l-2.8 2.8l-2.8-2.8zM186.4 188.1l2.8 2.8l-2.8 2.8l-2.8-2.8zM187.5 190.8l2.8 2.8l-2.8 2.8l-2.8-2.8zM189.0 193.9l2.8 2.8l-2.8 2.8l-2.8-2.8zM190.0 195.5l2.8 2.8l-2.8 2.8l-2.8-2.8zM191.3 198.9l2.8 2.8l-2.8 2.8l-2.8-2.8zM192.4 201.0l2.8 2.8l-2.8 2.8l-2.8-2.8zM193.8 203.5l2.8 2.8l-2.8 2.8l-2.8-2.8zM195.0 205.8l2.8 2.8l-2.8 2.8l-2.8-2.8zM196.2 208.0l2.8 2.8l-2.8 2.8l-2.8-2.8zM197.6 208.0l2.8 2.8l-2.8 2.8l-2.8-2.8zM198.7 209.9l2.8 2.8l-2.8 2.8l-2.8-2.8zM200.1 211.3l2.8 2.8l-2.8 2.8l-2.8-2.8zM201.2 213.5l2.8 2.8l-2.8 2.8l-2.8-2.8zM202.3 213.9l2.8 2.8l-2.8 2.8l-2.8-2.8zM203.5 215.2l2.8 2.8l-2.8 2.8l-2.8-2.8zM204.8 216.4l2.8 2.8l-2.8 2.8l-2.8-2.8zM206.0 216.8l2.8 2.8l-2.8 2.8l-2.8-2.8zM207.2 217.4l2.8 2.8l-2.8 2.8l-2.8-2.8zM208.4 218.1l2.8 2.8l-2.8 2.8l-2.8-2.8zM209.5 217.7l2.8 2.8l-2.8 2.8l-2.8-2.8zM210.9 218.3l2.8 2.8l-2.8 2.8l-2.8-2.8zM211.9 218.9l2.8 2.8l-2.8 2.8l-2.8-2.8zM213.4 219.3l2.8 2.8l-2.8 2.8l-2.8-2.8zM214.5 219.2l2.8 2.8l-2.8 2.8l-2.8-2.8zM215.7 218.6l2.8 2.8l-2.8 2.8l-2.8-2.8zM217.0 219.3l2.8 2.8l-2.8 2.8l-2.8-2.8zM218.3 220.0l2.8 2.8l-2.8 2.8l-2.8-2.8zM219.3 220.0l2.8 2.8l-2.8 2.8l-2.8-2.8zM220.5 219.8l2.8 2.8l-2.8 2.8l-2.8-2.8zM221.8 219.5l2.8 2.8l-2.8 2.8l-2.8-2.8zM222.9 220.3l2.8 2.8l-2.8 2.8l-2.8-2.8zM224.3 219.8l2.8 2.8l-2.8 2.8l-2.8-2.8zM225.8 219.6l2.8 2.8l-2.8 2.8l-2.8-2.8zM226.7 219.8l2.8 2.8l-2.8 2.8l-2.8-2.8zM228.1 220.8l2.8 2.8l-2.8 2.8l-2.8-2.8zM229.1 220.3l2.8 2.8l-2.8 2.8l-2.8-2.8zM230.5 220.8l2.8 2.8l-2.8 2.8l-2.8-2.8zM231.7 220.1l2.8 2.8l-2.8 2.8l-2.8-2.8zM232.9 220.8l2.8 2.8l-2.8 2.8l-2.8-2.8zM234.2 220.1l2.8 2.8l-2.8 2.8l-2.8-2.8zM235.6 220.4l2.8 2.8l-2.8 2.8l-2.8-2.8zM236.6 221.6l2.8 2.8l-2.8 2.8l-2.8-2.8zM237.9 220.9l2.8 2.8l-2.8 2.8l-2.8-2.8zM239.0 220.3l2.8 2.8l-2.8 2.8l-2.8-2.8zM240.4 220.6l2.8 2.8l-2.8 2.8l-2.8-2.8zM241.5 220.8l2.8 2.8l-2.8 2.8l-2.8-2.8zM242.8 221.2l2.8 2.8l-2.8 2.8l-2.8-2.8zM244.0 220.5l2.8 2.8l-2.8 2.8l-2.8-2.8zM245.4 220.0l2.8 2.8l-2.8 2.8l-2.8-2.8zM246.2 220.7l2.8 2.8l-2.8 2.8l-2.8-2.8z" fill="#ff0000"/>
<path d="M34.0 256.0 L34.5 256.0 L35.0 256.0 L35.5 256.0 L36.0 256.0 L36.5 256.0 L37.0 256.0 L37.5 256.0 L38.0 256.0 L38.5 256.0 L39.0 256.0 L39.5 256.0 L40.0 256.0 L40.5 256.0 L41.0 256.0 L41.5 256.0 L42.0 256.0 L42.5 256.0 L43.0 256.0 L43.5 256.0 L44.0 256.0 L44.5 256.0 L45.0 256.0 L45.5 256.0 L46.0 256.0 L46.5 256.0 L47.0 256.0 L47.5 256.0 L48.0 256.0 L48.5 256.0 L49.0 256.0 L49.5 256.0 L50.0 256.0 L50.5 256.0 L51.0 256.0 L51.5 256.0 L52.0 256.0 L52.5 256.0 L53.0 256.0 L53.5 256.0 L54.0 256.0 L54.5 256.0 L55.0 256.0 L55.5 256.0 L56.0 256.0 L56.5 256.0 L57.0 256.0 L57.5 256.0 L58.0 256.0 L58.5 256.0 L59.0 256.0 L59.5 256.0 L60.0 256.0 L60.5 256.0 L61.0 256.0 L61.5 256.0 L62.0 256.0 L62.5 256.0 L63.0 256.0 L63.5 256.0 L64.0 256.0 L64.5 256.0 L65.0 256.0 L65.5 256.0 L66.0 256.0 L66.5 256.0 L67.0 256.0 L67.5 256.0 L68.0 256.0 L68.5 256.0 L69.0 256.0 L69.5 256.0 L70.0 256.0 L70.5 256.0 L71.0 256.0 L71.5 256.0 L72.0 256.0 L72.5 256.0 L73.0 256.0 L73.5 256.0 L74.0 256.0 L74.5 256.0 L75.0 256.0 L75.5 256.0 L76.0 256.0 L76.5 256.0 L77.0 256.0 L77.5 256.0 L78.0 256.0 L78.5 256.0 L79.0 256.0 L79.5 256.0 L80.0 256.0 L80.5 256.0 L81.0 256.0 L81.5 256.0 L82.0 256.0 L82.5 256.0 L83.0 256.0 L83.5 256.0 L84.0 256.0 L84.5 256.0 L85.0 256.0 L85.5 256.0 L86.0 256.0 L86.5 256.0 L87.0 256.0 L87.5 256.0 L88.0 256.0 L88.5 256.0 L89.0 256.0 L89.5 256.0 L90.0 256.0 L90.5 256.0 L91.0 256.0 L91.5 256.0 L92.0 256.0 L92.5 256.0 L93.0 256.0 L93.5 256.0 L94.0 256.0 L94.5 256.0 L95.0 256.0 L95.5 256.0 L96.0 256.0 L96.5 256.0 L97.0 256.0 L97.5 256.0 L98.0 256.0 L98.5 256.0 L99.0 256.0 L99.5 256.0 L100.0 256.0 L100.5 256.0 L101.0 256.0 L101.5 256.0 L102.0 256.0 L102.5 256.0 L103.0 256.0 L103.5 256.0 L104.0 256.0 L104.5 256.0 L105.0 256.0 L105.5 256.0 L106.0 256.0 L106.5 256.0 L107.0 256.0 L107.5 256.0 L108.0 256.0 L108.5 256.0 L109.0 256.0 L109.5 256.0 L110.0 256.0 L110.5 256.0 L111.0 256.0 L111.5 256.0 L112.0 256.0 L112.5 256.0 L113.0 256.0 L113.5 256.0 L114.0 256.0 L114.5 256.0 L115.0 256.0 L115.5 256.0 L116.0 256.0 L116.5 256.0 L117.0 256.0 L117.5 256.0 L118.0 256.0 L118.5 256.0 L119.0 256.0 L119.5 256.0 L120.0 256.0 L120.5 256.0 L121.0 256.1 L121.5 256.1 L122.0 256.1 L122.5 256.1 L123.0 256.1 L123.5 256.1 L124.0 256.1 L124.5 256.1 L125.0 256.1 L125.5 256.1 L126.0 256.1 L126.5 256.1 L127.0 256.1 L127.5 256.1 L128.0 256.1 L128.5 256.1 L129.0 256.1 L129.5 256.1 L130.0 256.1 L130.5 256.1 L131.0 256.1 L131.5 256.1 L132.0 256.1 L132.5 256.1 L133.0 256.1 L133.5 256.1 L134.0 256.1 L134.5 256.1 L135.0 256.1 L135.5 256.1 L136.0 256.1 L136.5 256.1 L137.0 256.1 L137.5 256.1 L138.0 256.1 L138.5 256.1 L139.0 256.2 L139.5 256.2 L140.0 256.2 L140.5 256.2 L141.0 256.2 L141.5 256.2 L142.0 256.2 L142.5 256.2 L143.0 256.2 L143.5 256.2 L144.0 256.2 L144.5 256.2 L145.0 256.2 L145.5 256.2 L146.0 256.2 L146.5 256.2 L147.0 256.2 L147.5 256.2 L148.0 256.2 L148.5 256.2 L149.0 256.3 L149.5 256.3 L150.0 256.3 L150.5 256.3 L151.0 256.3 L151.5 256.3 L152.0 256.3 L152.5 256.3 L153.0 256.3 L153.5 256.3 L154.0 256.3 L154.5 256.3 L155.0 256.3 L155.5 256.3 L156.0 256.4 L156.5 256.4 L157.0 256.4 L157.5 256.4 L158.0 256.4 L158.5 256.4 L159.0 256.4 L159.5 256.4 L160.0 256.4 L160.5 256.4 L161.0 256.4 L161.5 256.4 L162.0 256.5 L162.5 256.5 L163.0 256.5 L163.5 256.5 L164.0 256.5 L164.5 256.5 L165.0 256.5 L165.5 256.5 L166.0 256.5 L166.5 256.5 L167.0 256.5 L167.5 256.5 L168.0 256.5 L168.5 256.6 L169.0 256.6 L169.5 256.6 L170.0 256.6 L170.5 256.6 L171.0 256.6 L171.5 256.6 L172.0 256.6 L172.5 256.6 L173.0 256.6 L173.5 256.6 L174.0 256.6 L174.5 256.7 L175.0 256.7 L175.5 256.7 L176.0 256.7 L176.5 256.7 L177.0 256.7 L177.5 256.7 L178.0 256.7 L178.5 256.7 L179.0 256.7 L179.5 256.7 L180.0 256.7 L180.5 256.7 L181.0 256.7 L181.5 256.8 L182.0 256.8 L182.5 256.8 L183.0 256.8 L183.5 256.8 L184.0 256.8 L184.5 256.8 L185.0 256.8 L185.5 256.8 L186.0 256.8 L186.5 256.8 L187.0 256.8 L187.5 256.8 L188.0 256.8 L188.5 256.8 L189.0 256.8 L189.5 256.8 L190.0 256.8 L190.5 256.8 L191.0 256.8 L191.5 256.9 L192.0 256.9 L192.5 256.9 L193.0 256.9 L193.5 256.9 L194.0 256.9 L194.5 256.9 L195.0 256.9 L195.5 256.9 L196.0 256.9 L196.5 256.9 L197.0 256.9 L197.5 256.9 L198.0 256.9 L198.5 256.9 L199.0 256.9 L199.5 256.9 L200.0 256.9 L200.5 256.9 L201.0 256.9 L201.5 256.9 L202.0 256.9 L202.5 256.9 L203.0 256.9 L203.5 256.9 L204.0 256.9 L204.5 256.9 L205.0 256.9 L205.5 256.9 L206.0 256.9 L206.5 256.9 L207.0 256.9 L207.5 256.9 L208.0 256.9 L208.5 256.9 L209.0 256.9 L209.5 257.0 L210.0 257.0 L210.5 257.0 L211.0 257.0 L211.5 257.0 L212.0 257.0 L212.5 257.0 L213.0 257.0 L213.5 257.0 L214.0 257.0 L214.5 257.0 L215.0 257.0 L215.5 257.0 L216.0 257.0 L216.5 257.0 L217.0 257.0 L217.5 257.0 L218.0 257.0 L218.5 257.0 L219.0 257.0 L219.5 257.0 L220.0 257.0 L220.5 257.0 L221.0 257.0 L221.5 257.0 L222.0 257.0 L222.5 257.0 L223.0 257.0 L223.5 257.0 L224.0 257.0 L224.5 257.0 L225.0 257.0 L225.5 257.0 L226.0 257.0 L226.5 257.0 L227.0 257.0 L227.5 257.0 L228.0 257.0 L228.5 257.0 L229.0 257.0 L229.5 257.0 L230.0 257.0 L230.5 257.0 L231.0 257.0 L231.5 257.0 L232.0 257.0 L232.5 257.0 L233.0 257.0 L233.5 257.0 L234.0 257.0 L234.5 257.0 L235.0 257.0 L235.5 257.0 L236.0 257.0 L236.5 257.0 L237.0 257.0 L237.5 257.0 L238.0 257.0 L238.5 257.0 L239.0 257.0 L239.5 257.0 L240.0 257.0 L240.5 257.0 L241.0 257.0 L241.5 257.0 L242.0 257.0 L242.5 257.0 L243.0 257.0 L243.5 257.0 L244.0 257.0 L244.5 257.0 L245.0 257.0 L245.5 257.0 L246.0 257.0" fill="none" stroke="#000000" stroke-width="1.2"/>
<path d="M34.0 256.0 L34.5 256.0 L35.0 256.0 L35.5 256.0 L36.0 256.0 L36.5 256.0 L37.0 256.0 L37.5 256.0 L38.0 256.0 L38.5 256.0 L39.0 256.0 L39.5 256.0 L40.0 256.0 L40.5 256.0 L41.0 256.0 L41.5 256.0 L42.0 256.0 L42.5 256.0 L43.0 256.0 L43.5 256.0 L44.0 256.0 L44.5 256.0 L45.0 256.0 L45.5 256.0 L46.0 256.0 L46.5 256.0 L47.0 256.0 L47.5 256.0 L48.0 256.0 L48.5 256.0 L49.0 256.0 L49.5 256.0 L50.0 256.0 L50.5 256.0 L51.0 256.0 L51.5 256.0 L52.0 256.0 L52.5 256.0 L53.0 256.0 L53.5 256.0 L54.0 256.0 L54.5 256.0 L55.0 256.0 L55.5 256.0 L56.0 256.0 L56.5 256.0 L57.0 256.0 L57.5 256.0 L58.0 256.0 L58.5 256.0 L59.0 256.0 L59.5 256.0 L60.0 256.0 L60.5 256.0 L61.0 256.0 L61.5 256.0 L62.0 256.0 L62.5 256.0 L63.0 256.0 L63.5 256.0 L64.0 256.0 L64.5 256.0 L65.0 256.0 L65.5 256.0 L66.0 256.0 L66.5 256.0 L67.0 256.0 L67.5 256.0 L68.0 256.0 L68.5 256.0 L69.0 256.0 L69.5 256.0 L70.0 256.0 L70.5 256.0 L71.0 256.0 L71.5 256.0 L72.0 256.0 L72.5 256.0 L73.0 256.0 L73.5 256.0 L74.0 256.0 L74.5 256.0 L75.0 256.0 L75.5 256.0 L76.0 256.0 L76.5 256.0 L77.0 256.0 L77.5 256.0 L78.0 256.0 L78.5 256.0 L79.0 256.0 L79.5 256.0 L80.0 256.0 L80.5 256.0 L81.0 256.0 L81.5 256.0 L82.0 256.0 L82.5 256.0 L83.0 256.0 L83.5 256.0 L84.0 256.0 L84.5 256.0 L85.0 256.0 L85.5 256.0 L86.0 256.0 L86.5 256.0 L87.0 256.0 L87.5 256.0 L88.0 256.0 L88.5 256.0 L89.0 256.0 L89.5 256.0 L90.0 256.0 L90.5 256.0 L91.0 256.0 L91.5 256.0 L92.0 256.0 L92.5 256.0 L93.0 256.0 L93.5 256.0 L94.0 256.0 L94.5 256.0 L95.0 256.0 L95.5 256.0 L96.0 256.0 L96.5 256.0 L97.0 256.0 L97.5 256.0 L98.0 256.0 L98.5 256.0 L99.0 256.0 L99.5 255.9 L100.0 255.9 L100.5 255.9 L101.0 255.9 L101.5 255.9 L102.0 255.9 L102.5 255.9 L103.0 255.9 L103.5 255.9 L104.0 255.8 L104.5 255.8 L105.0 255.8 L105.5 255.8 L106.0 255.7 L106.5 255.7 L107.0 255.7 L107.5 255.6 L108.0 255.6 L108.5 255.6 L109.0 255.5 L109.5 255.5 L110.0 255.4 L110.5 255.4 L111.0 255.3 L111.5 255.2 L112.0 255.2 L112.5 255.1 L113.0 255.0 L113.5 254.9 L114.0 254.8 L114.5 254.7 L115.0 254.6 L115.5 254.5 L116.0 254.4 L116.5 254.3 L117.0 254.1 L117.5 254.0 L118.0 253.8 L118.5 253.7 L119.0 253.5 L119.5 253.4 L120.0 253.2 L120.5 253.0 L121.0 252.8 L121.5 252.6 L122.0 252.4 L122.5 252.2 L123.0 252.0 L123.5 251.7 L124.0 251.5 L124.5 251.3 L125.0 251.0 L125.5 250.8 L126.0 250.5 L126.5 250.3 L127.0 250.0 L127.5 249.8 L128.0 249.5 L128.5 249.2 L129.0 249.0 L129.5 248.7 L130.0 248.4 L130.5 248.2 L131.0 247.9 L131.5 247.7 L132.0 247.4 L132.5 247.2 L133.0 246.9 L133.5 246.7 L134.0 246.5 L134.5 246.3 L135.0 246.0 L135.5 245.9 L136.0 245.7 L136.5 245.5 L137.0 245.3 L137.5 245.2 L138.0 245.1 L138.5 244.9 L139.0 244.8 L139.5 244.8 L140.0 244.7 L140.5 244.6 L141.0 244.6 L141.5 244.6 L142.0 244.6 L142.5 244.6 L143.0 244.6 L143.5 244.7 L144.0 244.7 L144.5 244.8 L145.0 244.9 L145.5 245.0 L146.0 245.1 L146.5 245.3 L147.0 245.4 L147.5 245.6 L148.0 245.8 L148.5 246.0 L149.0 246.2 L149.5 246.4 L150.0 246.6 L150.5 246.9 L151.0 247.1 L151.5 247.3 L152.0 247.6 L152.5 247.9 L153.0 248.1 L153.5 248.4 L154.0 248.7 L154.5 248.9 L155.0 249.2 L155.5 249.5 L156.0 249.8 L156.5 250.0 L157.0 250.3 L157.5 250.6 L158.0 250.8 L158.5 251.1 L159.0 251.4 L159.5 251.6 L160.0 251.9 L160.5 252.1 L161.0 252.3 L161.5 252.6 L162.0 252.8 L162.5 253.0 L163.0 253.2 L163.5 253.4 L164.0 253.6 L164.5 253.8 L165.0 254.0 L165.5 254.2 L166.0 254.3 L166.5 254.5 L167.0 254.6 L167.5 254.8 L168.0 254.9 L168.5 255.0 L169.0 255.2 L169.5 255.3 L170.0 255.4 L170.5 255.5 L171.0 255.6 L171.5 255.7 L172.0 255.8 L172.5 255.8 L173.0 255.9 L173.5 256.0 L174.0 256.0 L174.5 256.1 L175.0 256.2 L175.5 256.2 L176.0 256.3 L176.5 256.3 L177.0 256.4 L177.5 256.4 L178.0 256.4 L178.5 256.5 L179.0 256.5 L179.5 256.5 L180.0 256.6 L180.5 256.6 L181.0 256.6 L181.5 256.6 L182.0 256.6 L182.5 256.7 L183.0 256.7 L183.5 256.7 L184.0 256.7 L184.5 256.7 L185.0 256.7 L185.5 256.7 L186.0 256.8 L186.5 256.8 L187.0 256.8 L187.5 256.8 L188.0 256.8 L188.5 256.8 L189.0 256.8 L189.5 256.8 L190.0 256.8 L190.5 256.8 L191.0 256.8 L191.5 256.8 L192.0 256.8 L192.5 256.9 L193.0 256.9 L193.5 256.9 L194.0 256.9 L194.5 256.9 L195.0 256.9 L195.5 256.9 L196.0 256.9 L196.5 256.9 L197.0 256.9 L197.5 256.9 L198.0 256.9 L198.5 256.9 L199.0 256.9 L199.5 256.9 L200.0 256.9 L200.5 256.9 L201.0 256.9 L201.5 256.9 L202.0 256.9 L202.5 256.9 L203.0 256.9 L203.5 256.9 L204.0 256.9 L204.5 256.9 L205.0 256.9 L205.5 256.9 L206.0 256.9 L206.5 256.9 L207.0 256.9 L207.5 256.9 L208.0 256.9 L208.5 256.9 L209.0 256.9 L209.5 257.0 L210.0 257.0 L210.5 257.0 L211.0 257.0 L211.5 257.0 L212.0 257.0 L212.5 257.0 L213.0 257.0 L213.5 257.0 L214.0 257.0 L214.5 257.0 L215.0 257.0 L215.5 257.0 L216.0 257.0 L216.5 257.0 L217.0 257.0 L217.5 257.0 L218.0 257.0 L218.5 257.0 L219.0 257.0 L219.5 257.0 L220.0 257.0 L220.5 257.0 L221.0 257.0 L221.5 257.0 L222.0 257.0 L222.5 257.0 L223.0 257.0 L223.5 257.0 L224.0 257.0 L224.5 257.0 L225.0 257.0 L225.5 257.0 L226.0 257.0 L226.5 257.0 L227.0 257.0 L227.5 257.0 L228.0 257.0 L228.5 257.0 L229.0 257.0 L229.5 257.0 L230.0 257.0 L230.5 257.0 L231.0 257.0 L231.5 257.0 L232.0 257.0 L232.5 257.0 L233.0 257.0 L233.5 257.0 L234.0 257.0 L234.5 257.0 L235.0 257.0 L235.5 257.0 L236.0 257.0 L236.5 257.0 L237.0 257.0 L237.5 257.0 L238.0 257.0 L238.5 257.0 L239.0 257.0 L239.5 257.0 L240.0 257.0 L240.5 257.0 L241.0 257.0 L241.5 257.0 L242.0 257.0 L242.5 257.0 L243.0 257.0 L243.5 257.0 L244.0 257.0 L244.5 257.0 L245.0 257.0 L245.5 257.0 L246.0 257.0" fill="none" stroke="#000000" stroke-width="1.2"/>
<path d="M34.0 256.0 L34.5 256.0 L35.0 256.0 L35.5 256.0 L36.0 256.0 L36.5 256.0 L37.0 256.0 L37.5 256.0 L38.0 256.0 L38.5 256.0 L39.0 256.0 L39.5 256.0 L40.0 256.0 L40.5 256.0 L41.0 256.0 L41.5 256.0 L42.0 256.0 L42.5 256.0 L43.0 256.0 L43.5 256.0 L44.0 256.0 L44.5 256.0 L45.0 256.0 L45.5 256.0 L46.0 256.0 L46.5 256.0 L47.0 256.0 L47.5 256.0 L48.0 256.0 L48.5 256.0 L49.0 256.0 L49.5 256.0 L50.0 256.0 L50.5 256.0 L51.0 256.0 L51.5 256.0 L52.0 256.0 L52.5 256.0 L53.0 256.0 L53.5 256.0 L54.0 256.0 L54.5 256.0 L55.0 256.0 L55.5 256.0 L56.0 256.0 L56.5 256.0 L57.0 256.0 L57.5 256.0 L58.0 256.0 L58.5 256.0 L59.0 256.0 L59.5 256.0 L60.0 256.0 L60.5 256.0 L61.0 256.0 L61.5 256.0 L62.0 256.0 L62.5 256.0 L63.0 256.0 L63.5 256.0 L64.0 256.0 L64.5 256.0 L65.0 256.0 L65.5 256.0 L66.0 256.0 L66.5 256.0 L67.0 256.0 L67.5 256.0 L68.0 256.0 L68.5 256.0 L69.0 256.0 L69.5 256.0 L70.0 256.0 L70.5 256.0 L71.0 256.0 L71.5 256.0 L72.0 256.0 L72.5 256.0 L73.0 256.0 L73.5 256.0 L74.0 256.0 L74.5 256.0 L75.0 256.0 L75.5 256.0 L76.0 256.0 L76.5 256.0 L77.0 256.0 L77.5 256.0 L78.0 256.0 L78.5 256.0 L79.0 256.0 L79.5 256.0 L80.0 256.0 L80.5 256.0 L81.0 256.0 L81.5 256.0 L82.0 256.0 L82.5 256.0 L83.0 256.0 L83.5 256.0 L84.0 256.0 L84.5 256.0 L85.0 256.0 L85.5 256.0 L86.0 256.0 L86.5 256.0 L87.0 256.0 L87.5 256.0 L88.0 256.0 L88.5 256.0 L89.0 256.0 L89.5 256.0 L90.0 256.0 L90.5 256.0 L91.0 256.0 L91.5 256.0 L92.0 256.0 L92.5 256.0 L93.0 256.0 L93.5 256.0 L94.0 256.0 L94.5 256.0 L95.0 256.0 L95.5 256.0 L96.0 256.0 L96.5 256.0 L97.0 256.0 L97.5 256.0 L98.0 256.0 L98.5 256.0 L99.0 256.0 L99.5 256.0 L100.0 256.0 L100.5 256.0 L101.0 256.0 L101.5 256.0 L102.0 256.0 L102.5 256.0 L103.0 256.0 L103.5 256.0 L104.0 256.0 L104.5 256.0 L105.0 256.0 L105.5 256.0 L106.0 256.0 L106.5 256.0 L107.0 256.0 L107.5 256.0 L108.0 256.0 L108.5 256.0 L109.0 256.0 L109.5 256.0 L110.0 256.0 L110.5 256.0 L111.0 256.0 L111.5 256.0 L112.0 256.0 L112.5 256.0 L113.0 256.0 L113.5 256.0 L114.0 256.0 L114.5 256.0 L115.0 256.0 L115.5 256.0 L116.0 256.0 L116.5 256.0 L117.0 256.0 L117.5 256.0 L118.0 256.0 L118.5 256.0 L119.0 256.0 L119.5 256.0 L120.0 256.0 L120.5 256.0 L121.0 256.0 L121.5 256.0 L122.0 255.9 L122.5 255.9 L123.0 255.9 L123.5 255.9 L124.0 255.9 L124.5 255.9 L125.0 255.8 L125.5 255.8 L126.0 255.8 L126.5 255.8 L127.0 255.7 L127.5 255.7 L128.0 255.7 L128.5 255.6 L129.0 255.6 L129.5 255.5 L130.0 255.5 L130.5 255.4 L131.0 255.3 L131.5 255.3 L132.0 255.2 L132.5 255.1 L133.0 255.0 L133.5 254.9 L134.0 254.8 L134.5 254.6 L135.0 254.5 L135.5 254.4 L136.0 254.2 L136.5 254.1 L137.0 253.9 L137.5 253.7 L138.0 253.5 L138.5 253.3 L139.0 253.0 L139.5 252.8 L140.0 252.5 L140.5 252.3 L141.0 252.0 L141.5 251.7 L142.0 251.3 L142.5 251.0 L143.0 250.6 L143.5 250.2 L144.0 249.8 L144.5 249.4 L145.0 249.0 L145.5 248.5 L146.0 248.0 L146.5 247.5 L147.0 247.0 L147.5 246.5 L148.0 245.9 L148.5 245.3 L149.0 244.7 L149.5 244.1 L150.0 243.4 L150.5 242.8 L151.0 242.1 L151.5 241.4 L152.0 240.7 L152.5 240.0 L153.0 239.2 L153.5 238.5 L154.0 237.7 L154.5 236.9 L155.0 236.1 L155.5 235.4 L156.0 234.6 L156.5 233.8 L157.0 233.0 L157.5 232.2 L158.0 231.4 L158.5 230.6 L159.0 229.8 L159.5 229.0 L160.0 228.2 L160.5 227.5 L161.0 226.7 L161.5 226.0 L162.0 225.3 L162.5 224.6 L163.0 224.0 L163.5 223.3 L164.0 222.7 L164.5 222.1 L165.0 221.6 L165.5 221.1 L166.0 220.6 L166.5 220.2 L167.0 219.8 L167.5 219.4 L168.0 219.1 L168.5 218.8 L169.0 218.6 L169.5 218.4 L170.0 218.3 L170.5 218.2 L171.0 218.1 L171.5 218.1 L172.0 218.1 L172.5 218.2 L173.0 218.4 L173.5 218.5 L174.0 218.8 L174.5 219.0 L175.0 219.3 L175.5 219.7 L176.0 220.1 L176.5 220.5 L177.0 221.0 L177.5 221.5 L178.0 222.0 L178.5 222.6 L179.0 223.2 L179.5 223.8 L180.0 224.5 L180.5 225.2 L181.0 225.9 L181.5 226.6 L182.0 227.4 L182.5 228.1 L183.0 228.9 L183.5 229.7 L184.0 230.5 L184.5 231.3 L185.0 232.1 L185.5 232.9 L186.0 233.7 L186.5 234.5 L187.0 235.3 L187.5 236.1 L188.0 236.9 L188.5 237.7 L189.0 238.5 L189.5 239.3 L190.0 240.0 L190.5 240.8 L191.0 241.5 L191.5 242.2 L192.0 242.9 L192.5 243.6 L193.0 244.3 L193.5 244.9 L194.0 245.6 L194.5 246.2 L195.0 246.8 L195.5 247.3 L196.0 247.9 L196.5 248.4 L197.0 248.9 L197.5 249.4 L198.0 249.8 L198.5 250.3 L199.0 250.7 L199.5 251.1 L200.0 251.5 L200.5 251.9 L201.0 252.2 L201.5 252.5 L202.0 252.8 L202.5 253.1 L203.0 253.4 L203.5 253.7 L204.0 253.9 L204.5 254.2 L205.0 254.4 L205.5 254.6 L206.0 254.8 L206.5 254.9 L207.0 255.1 L207.5 255.3 L208.0 255.4 L208.5 255.5 L209.0 255.7 L209.5 255.8 L210.0 255.9 L210.5 256.0 L211.0 256.1 L211.5 256.1 L212.0 256.2 L212.5 256.3 L213.0 256.4 L213.5 256.4 L214.0 256.5 L214.5 256.5 L215.0 256.6 L215.5 256.6 L216.0 256.6 L216.5 256.7 L217.0 256.7 L217.5 256.7 L218.0 256.8 L218.5 256.8 L219.0 256.8 L219.5 256.8 L220.0 256.8 L220.5 256.9 L221.0 256.9 L221.5 256.9 L222.0 256.9 L222.5 256.9 L223.0 256.9 L223.5 256.9 L224.0 256.9 L224.5 256.9 L225.0 256.9 L225.5 256.9 L226.0 257.0 L226.5 257.0 L227.0 257.0 L227.5 257.0 L228.0 257.0 L228.5 257.0 L229.0 257.0 L229.5 257.0 L230.0 257.0 L230.5 257.0 L231.0 257.0 L231.5 257.0 L232.0 257.0 L232.5 257.0 L233.0 257.0 L233.5 257.0 L234.0 257.0 L234.5 257.0 L235.0 257.0 L235.5 257.0 L236.0 257.0 L236.5 257.0 L237.0 257.0 L237.5 257.0 L238.0 257.0 L238.5 257.0 L239.0 257.0 L239.5 257.0 L240.0 257.0 L240.5 257.0 L241.0 257.0 L241.5 257.0 L242.0 257.0 L242.5 257.0 L243.0 257.0 L243.5 257.0 L244.0 257.0 L244.5 257.0 L245.0 257.0 L245.5 257.0 L246.0 257.0" fill="none" stroke="#000000" stroke-width="1.2"/>
<path d="M34.4 252.7l2.8 2.8l-2.8 2.8l-2.8-2.8zM35.6 253.3l2.8 2.8l-2.8 2.8l-2.8-2.8zM36.8 252.7l2.8 2.8l-2.8 2.8l-2.8-2.8zM38.3 252.5l2.8 2.8l-2.8 2.8l-2.8-2.8zM39.4 252.7l2.8 2.8l-2.8 2.8l-2.8-2.8zM40.5 252.2l2.8 2.8l-2.8 2.8l-2.8-2.8zM41.9 252.8l2.8 2.8l-2.8 2.8l-2.8-2.8zM43.2 253.8l2.8 2.8l-2.8 2.8l-2.8-2.8zM44.3 253.1l2.8 2.8l-2.8 2.8l-2.8-2.8zM45.5 252.0l2.8 2.8l-2.8 2.8l-2.8-2.8zM46.7 252.0l2.8 2.8l-2.8 2.8l-2.8-2.8zM48.0 252.2l2.8 2.8l-2.8 2.8l-2.8-2.8zM49.3 252.7l2.8 2.8l-2.8 2.8l-2.8-2.8zM50.5 251.9l2.8 2.8l-2.8 2.8l-2.8-2.8zM51.8 251.9l2.8 2.8l-2.8 2.8l-2.8-2.8zM53.0 252.5l2.8 2.8l-2.8 2.8l-2.8-2.8zM54.2 252.4l2.8 2.8l-2.8 2.8l-2.8-2.8zM55.4 251.8l2.8 2.8l-2.8 2.8l-2.8-2.8zM56.4 251.4l2.8 2.8l-2.8 2.8l-2.8-2.8zM57.8 251.1l2.8 2.8l-2.8 2.8l-2.8-2.8zM59.0 251.3l2.8 2.8l-2.8 2.8l-2.8-2.8zM60.2 250.4l2.8 2.8l-2.8 2.8l-2.8-2.8zM61.5 251.5l2.8 2.8l-2.8 2.8l-2.8-2.8zM62.6 250.6l2.8 2.8l-2.8 2.8l-2.8-2.8zM63.8 250.9l2.8 2.8l-2.8 2.8l-2.8-2.8zM65.3 251.2l2.8 2.8l-2.8 2.8l-2.8-2.8zM66.4 250.5l2.8 2.8l-2.8 2.8l-2.8-2.8zM67.6 249.2l2.8 2.8l-2.8 2.8l-2.8-2.8zM68.9 249.8l2.8 2.8l-2.8 2.8l-2.8-2.8zM70.1 249.7l2.8 2.8l-2.8 2.8l-2.8-2.8zM71.3 248.6l2.8 2.8l-2.8 2.8l-2.8-2.8zM72.2 248.3l2.8 2.8l-2.8 2.8l-2.8-2.8zM73.6 248.5l2.8 2.8l-2.8 2.8l-2.8-2.8zM74.9 247.7l2.8 2.8l-2.8 2.8l-2.8-2.8zM76.1 249.0l2.8 2.8l-2.8 2.8l-2.8-2.8zM77.4 247.1l2.8 2.8l-2.8 2.8l-2.8-2.8zM78.7 247.6l2.8 2.8l-2.8 2.8l-2.8-2.8zM79.8 248.0l2.8 2.8l-2.8 2.8l-2.8-2.8zM80.9 248.0l2.8 2.8l-2.8 2.8l-2.8-2.8zM82.5 248.2l2.8 2.8l-2.8 2.8l-2.8-2.8zM83.5 248.3l2.8 2.8l-2.8 2.8l-2.8-2.8zM84.6 248.2l2.8 2.8l-2.8 2.8l-2.8-2.8zM86.0 248.9l2.8 2.8l-2.8 2.8l-2.8-2.8zM87.2 247.5l2.8 2.8l-2.8 2.8l-2.8-2.8zM88.3 248.6l2.8 2.8l-2.8 2.8l-2.8-2.8zM89.7 248.4l2.8 2.8l-2.8 2.8l-2.8-2.8zM90.8 248.9l2.8 2.8l-2.8 2.8l-2.8-2.8zM92.0 249.1l2.8 2.8l-2.8 2.8l-2.8-2.8zM93.3 248.7l2.8 2.8l-2.8 2.8l-2.8-2.8zM94.6 248.9l2.8 2.8l-2.8 2.8l-2.8-2.8zM95.7 249.6l2.8 2.8l-2.8 2.8l-2.8-2.8zM97.0 249.5l2.8 2.8l-2.8 2.8l-2.8-2.8zM98.2 249.0l2.8 2.8l-2.8 2.8l-2.8-2.8zM99.7 250.2l2.8 2.8l-2.8 2.8l-2.8-2.8zM100.6 250.2l2.8 2.8l-2.8 2.8l-2.8-2.8zM102.0 248.4l2.8 2.8l-2.8 2.8l-2.8-2.8zM103.1 249.1l2.8 2.8l-2.8 2.8l-2.8-2.8zM104.3 250.0l2.8 2.8l-2.8 2.8l-2.8-2.8zM105.6 249.1l2.8 2.8l-2.8 2.8l-2.8-2.8zM106.9 248.7l2.8 2.8l-2.8 2.8l-2.8-2.8zM108.1 248.3l2.8 2.8l-2.8 2.8l-2.8-2.8zM109.3 248.1l2.8 2.8l-2.8 2.8l-2.8-2.8zM110.4 248.1l2.8 2.8l-2.8 2.8l-2.8-2.8zM111.6 247.8l2.8 2.8l-2.8 2.8l-2.8-2.8zM113.0 248.1l2.8 2.8l-2.8 2.8l-2.8-2.8zM114.2 247.4l2.8 2.8l-2.8 2.8l-2.8-2.8zM115.5 247.1l2.8 2.8l-2.8 2.8l-2.8-2.8zM116.6 246.5l2.8 2.8l-2.8 2.8l-2.8-2.8zM117.9 246.8l2.8 2.8l-2.8 2.8l-2.8-2.8zM119.2 246.1l2.8 2.8l-2.8 2.8l-2.8-2.8zM120.3 246.1l2.8 2.8l-2.8 2.8l-2.8-2.8zM121.3 246.4l2.8 2.8l-2.8 2.8l-2.8-2.8zM122.6 245.7l2.8 2.8l-2.8 2.8l-2.8-2.8zM123.8 245.3l2.8 2.8l-2.8 2.8l-2.8-2.8zM125.3 244.6l2.8 2.8l-2.8 2.8l-2.8-2.8zM126.3 243.7l2.8 2.8l-2.8 2.8l-2.8-2.8zM127.7 242.8l2.8 2.8l-2.8 2.8l-2.8-2.8zM128.9 241.9l2.8 2.8l-2.8 2.8l-2.8-2.8zM130.2 241.6l2.8 2.8l-2.8 2.8l-2.8-2.8zM131.4 240.0l2.8 2.8l-2.8 2.8l-2.8-2.8zM132.5 240.4l2.8 2.8l-2.8 2.8l-2.8-2.8zM133.7 239.2l2.8 2.8l-2.8 2.8l-2.8-2.8zM135.0 238.3l2.8 2.8l-2.8 2.8l-2.8-2.8zM136.2 237.8l2.8 2.8l-2.8 2.8l-2.8-2.8zM137.3 237.1l2.8 2.8l-2.8 2.8l-2.8-2.8zM138.6 236.9l2.8 2.8l-2.8 2.8l-2.8-2.8zM140.0 235.9l2.8 2.8l-2.8 2.8l-2.8-2.8zM140.9 236.2l2.8 2.8l-2.8 2.8l-2.8-2.8zM142.3 234.9l2.8 2.8l-2.8 2.8l-2.8-2.8zM143.4 233.8l2.8 2.8l-2.8 2.8l-2.8-2.8zM144.8 234.0l2.8 2.8l-2.8 2.8l-2.8-2.8zM146.1 232.9l2.8 2.8l-2.8 2.8l-2.8-2.8zM147.2 233.2l2.8 2.8l-2.8 2.8l-2.8-2.8zM148.5 233.1l2.8 2.8l-2.8 2.8l-2.8-2.8zM149.5 232.3l2.8 2.8l-2.8 2.8l-2.8-2.8zM151.0 230.8l2.8 2.8l-2.8 2.8l-2.8-2.8zM152.0 230.2l2.8 2.8l-2.8 2.8l-2.8-2.8zM153.4 230.5l2.8 2.8l-2.8 2.8l-2.8-2.8zM154.6 228.9l2.8 2.8l-2.8 2.8l-2.8-2.8zM155.5 227.7l2.8 2.8l-2.8 2.8l-2.8-2.8zM156.9 227.0l2.8 2.8l-2.8 2.8l-2.8-2.8zM158.2 226.1l2.8 2.8l-2.8 2.8l-2.8-2.8zM159.6 223.9l2.8 2.8l-2.8 2.8l-2.8-2.8zM160.7 221.7l2.8 2.8l-2.8 2.8l-2.8-2.8zM161.9 220.0l2.8 2.8l-2.8 2.8l-2.8-2.8zM163.0 218.4l2.8 2.8l-2.8 2.8l-2.8-2.8zM164.5 216.3l2.8 2.8l-2.8 2.8l-2.8-2.8zM165.8 214.8l2.8 2.8l-2.8 2.8l-2.8-2.8zM166.8 214.3l2.8 2.8l-2.8 2.8l-2.8-2.8zM168.0 213.0l2.8 2.8l-2.8 2.8l-2.8-2.8zM169.1 212.9l2.8 2.8l-2.8 2.8l-2.8-2.8zM170.6 212.6l2.8 2.8l-2.8 2.8l-2.8-2.8zM172.0 213.5l2.8 2.8l-2.8 2.8l-2.8-2.8zM173.0 212.4l2.8 2.8l-2.8 2.8l-2.8-2.8zM174.3 213.5l2.8 2.8l-2.8 2.8l-2.8-2.8zM175.4 214.5l2.8 2.8l-2.8 2.8l-2.8-2.8zM176.5 216.1l2.8 2.8l-2.8 2.8l-2.8-2.8zM178.0 218.2l2.8 2.8l-2.8 2.8l-2.8-2.8zM178.9 219.3l2.8 2.8l-2.8 2.8l-2.8-2.8zM180.3 220.8l2.8 2.8l-2.8 2.8l-2.8-2.8zM181.5 222.1l2.8 2.8l-2.8 2.8l-2.8-2.8zM182.8 224.3l2.8 2.8l-2.8 2.8l-2.8-2.8zM184.0 226.9l2.8 2.8l-2.8 2.8l-2.8-2.8zM185.2 228.8l2.8 2.8l-2.8 2.8l-2.8-2.8zM186.3 230.5l2.8 2.8l-2.8 2.8l-2.8-2.8zM187.5 232.8l2.8 2.8l-2.8 2.8l-2.8-2.8zM188.9 234.8l2.8 2.8l-2.8 2.8l-2.8-2.8zM190.0 236.6l2.8 2.8l-2.8 2.8l-2.8-2.8zM191.2 237.7l2.8 2.8l-2.8 2.8l-2.8-2.8zM192.4 239.6l2.8 2.8l-2.8 2.8l-2.8-2.8zM193.7 240.6l2.8 2.8l-2.8 2.8l-2.8-2.8zM194.8 242.4l2.8 2.8l-2.8 2.8l-2.8-2.8zM196.1 245.0l2.8 2.8l-2.8 2.8l-2.8-2.8zM197.3 244.4l2.8 2.8l-2.8 2.8l-2.8-2.8zM198.7 246.3l2.8 2.8l-2.8 2.8l-2.8-2.8zM199.9 247.5l2.8 2.8l-2.8 2.8l-2.8-2.8zM201.3 248.0l2.8 2.8l-2.8 2.8l-2.8-2.8zM202.2 248.4l2.8 2.8l-2.8 2.8l-2.8-2.8zM203.5 249.2l2.8 2.8l-2.8 2.8l-2.8-2.8zM204.9 249.6l2.8 2.8l-2.8 2.8l-2.8-2.8zM206.0 249.9l2.8 2.8l-2.8 2.8l-2.8-2.8zM207.2 249.4l2.8 2.8l-2.8 2.8l-2.8-2.8zM208.6 250.4l2.8 2.8l-2.8 2.8l-2.8-2.8zM209.6 250.4l2.8 2.8l-2.8 2.8l-2.8-2.8zM210.8 250.9l2.8 2.8l-2.8 2.8l-2.8-2.8zM212.0 251.6l2.8 2.8l-2.8 2.8l-2.8-2.8zM213.4 252.1l2.8 2.8l-2.8 2.8l-2.8-2.8zM214.6 252.6l2.8 2.8l-2.8 2.8l-2.8-2.8zM215.7 252.2l2.8 2.8l-2.8 2.8l-2.8-2.8zM216.9 253.0l2.8 2.8l-2.8 2.8l-2.8-2.8zM218.3 253.3l2.8 2.8l-2.8 2.8l-2.8-2.8zM219.5 253.4l2.8 2.8l-2.8 2.8l-2.8-2.8zM220.6 253.7l2.8 2.8l-2.8 2.8l-2.8-2.8zM222.0 253.1l2.8 2.8l-2.8 2.8l-2.8-2.8zM223.2 253.2l2.8 2.8l-2.8 2.8l-2.8-2.8zM224.2 253.8l2.8 2.8l-2.8 2.8l-2.8-2.8zM225.6 252.9l2.8 2.8l-2.8 2.8l-2.8-2.8zM226.9 253.7l2.8 2.8l-2.8 2.8l-2.8-2.8zM228.0 253.4l2.8 2.8l-2.8 2.8l-2.8-2.8zM229.1 253.5l2.8 2.8l-2.8 2.8l-2.8-2.8zM230.5 252.9l2.8 2.8l-2.8 2.8l-2.8-2.8zM231.8 253.3l2.8 2.8l-2.8 2.8l-2.8-2.8zM233.1 253.7l2.8 2.8l-2.8 2.8l-2.8-2.8zM234.0 254.2l2.8 2.8l-2.8 2.8l-2.8-2.8zM235.7 254.2l2.8 2.8l-2.8 2.8l-2.8-2.8zM236.5 253.7l2.8 2.8l-2.8 2.8l-2.8-2.8zM237.9 253.7l2.8 2.8l-2.8 2.8l-2.8-2.8zM239.2 253.4l2.8 2.8l-2.8 2.8l-2.8-2.8zM240.4 254.0l2.8 2.8l-2.8 2.8l-2.8-2.8zM241.5 253.7l2.8 2.8l-2.8 2.8l-2.8-2.8zM242.6 254.2l2.8 2.8l-2.8 2.8l-2.8-2.8zM244.0 254.8l2.8 2.8l-2.8 2.8l-2.8-2.8zM245.1 254.1l2.8 2.8l-2.8 2.8l-2.8-2.8zM246.2 253.6l2.8 2.8l-2.8 2.8l-2.8-2.8z" fill="#000000"/>
<path d="M327.4 177.3l2.3 2.3l-2.3 2.3l-2.3-2.3zM328.1 160.4l2.3 2.3l-2.3 2.3l-2.3-2.3zM328.8 169.2l2.3 2.3l-2.3 2.3l-2.3-2.3zM329.8 147.4l2.3 2.3l-2.3 2.3l-2.3-2.3zM330.9 166.4l2.3 2.3l-2.3 2.3l-2.3-2.3zM331.0 167.4l2.3 2.3l-2.3 2.3l-2.3-2.3zM332.5 167.1l2.3 2.3l-2.3 2.3l-2.3-2.3zM333.1 154.5l2.3 2.3l-2.3 2.3l-2.3-2.3zM333.4 145.1l2.3 2.3l-2.3 2.3l-2.3-2.3zM334.6 153.3l2.3 2.3l-2.3 2.3l-2.3-2.3zM334.7 137.1l2.3 2.3l-2.3 2.3l-2.3-2.3zM335.3 141.1l2.3 2.3l-2.3 2.3l-2.3-2.3zM336.2 155.4l2.3 2.3l-2.3 2.3l-2.3-2.3zM337.3 146.8l2.3 2.3l-2.3 2.3l-2.3-2.3zM338.0 153.4l2.3 2.3l-2.3 2.3l-2.3-2.3zM338.7 153.8l2.3 2.3l-2.3 2.3l-2.3-2.3zM339.7 170.2l2.3 2.3l-2.3 2.3l-2.3-2.3zM339.8 165.1l2.3 2.3l-2.3 2.3l-2.3-2.3zM341.3 154.4l2.3 2.3l-2.3 2.3l-2.3-2.3zM341.5 164.4l2.3 2.3l-2.3 2.3l-2.3-2.3zM342.5 148.5l2.3 2.3l-2.3 2.3l-2.3-2.3zM343.3 152.0l2.3 2.3l-2.3 2.3l-2.3-2.3zM343.9 162.0l2.3 2.3l-2.3 2.3l-2.3-2.3zM344.6 144.8l2.3 2.3l-2.3 2.3l-2.3-2.3zM345.4 152.5l2.3 2.3l-2.3 2.3l-2.3-2.3zM346.5 144.1l2.3 2.3l-2.3 2.3l-2.3-2.3zM347.4 155.6l2.3 2.3l-2.3 2.3l-2.3-2.3zM348.2 167.8l2.3 2.3l-2.3 2.3l-2.3-2.3zM348.5 148.7l2.3 2.3l-2.3 2.3l-2.3-2.3zM349.3 156.5l2.3 2.3l-2.3 2.3l-2.3-2.3zM350.0 147.5l2.3 2.3l-2.3 2.3l-2.3-2.3zM351.2 145.5l2.3 2.3l-2.3 2.3l-2.3-2.3zM351.2 144.8l2.3 2.3l-2.3 2.3l-2.3-2.3zM353.0 166.3l2.3 2.3l-2.3 2.3l-2.3-2.3zM353.2 173.6l2.3 2.3l-2.3 2.3l-2.3-2.3zM353.9 158.5l2.3 2.3l-2.3 2.3l-2.3-2.3zM355.0 148.9l2.3 2.3l-2.3 2.3l-2.3-2.3zM355.9 160.3l2.3 2.3l-2.3 2.3l-2.3-2.3zM356.5 152.0l2.3 2.3l-2.3 2.3l-2.3-2.3zM357.5 161.1l2.3 2.3l-2.3 2.3l-2.3-2.3zM357.9 157.0l2.3 2.3l-2.3 2.3l-2.3-2.3zM359.0 156.9l2.3 2.3l-2.3 2.3l-2.3-2.3zM359.8 159.5l2.3 2.3l-2.3 2.3l-2.3-2.3zM360.2 150.0l2.3 2.3l-2.3 2.3l-2.3-2.3zM361.4 151.4l2.3 2.3l-2.3 2.3l-2.3-2.3zM361.7 140.8l2.3 2.3l-2.3 2.3l-2.3-2.3zM362.5 151.1l2.3 2.3l-2.3 2.3l-2.3-2.3zM362.9 143.2l2.3 2.3l-2.3 2.3l-2.3-2.3zM363.9 153.4l2.3 2.3l-2.3 2.3l-2.3-2.3zM365.0 146.9l2.3 2.3l-2.3 2.3l-2.3-2.3zM365.1 155.4l2.3 2.3l-2.3 2.3l-2.3-2.3zM366.5 158.2l2.3 2.3l-2.3 2.3l-2.3-2.3zM367.1 143.2l2.3 2.3l-2.3 2.3l-2.3-2.3zM367.9 148.0l2.3 2.3l-2.3 2.3l-2.3-2.3zM367.9 147.0l2.3 2.3l-2.3 2.3l-2.3-2.3zM369.3 160.5l2.3 2.3l-2.3 2.3l-2.3-2.3zM370.3 168.1l2.3 2.3l-2.3 2.3l-2.3-2.3zM370.6 161.3l2.3 2.3l-2.3 2.3l-2.3-2.3zM371.6 151.7l2.3 2.3l-2.3 2.3l-2.3-2.3zM371.6 166.2l2.3 2.3l-2.3 2.3l-2.3-2.3zM373.3 142.3l2.3 2.3l-2.3 2.3l-2.3-2.3zM373.7 166.4l2.3 2.3l-2.3 2.3l-2.3-2.3zM374.9 149.1l2.3 2.3l-2.3 2.3l-2.3-2.3zM374.8 132.0l2.3 2.3l-2.3 2.3l-2.3-2.3zM376.3 175.5l2.3 2.3l-2.3 2.3l-2.3-2.3zM376.8 166.9l2.3 2.3l-2.3 2.3l-2.3-2.3zM377.9 146.0l2.3 2.3l-2.3 2.3l-2.3-2.3zM378.1 155.6l2.3 2.3l-2.3 2.3l-2.3-2.3zM379.0 152.4l2.3 2.3l-2.3 2.3l-2.3-2.3zM380.6 154.7l2.3 2.3l-2.3 2.3l-2.3-2.3zM380.5 141.8l2.3 2.3l-2.3 2.3l-2.3-2.3zM381.2 148.0l2.3 2.3l-2.3 2.3l-2.3-2.3zM382.1 156.9l2.3 2.3l-2.3 2.3l-2.3-2.3zM382.7 154.7l2.3 2.3l-2.3 2.3l-2.3-2.3zM384.1 162.2l2.3 2.3l-2.3 2.3l-2.3-2.3zM385.0 152.8l2.3 2.3l-2.3 2.3l-2.3-2.3zM385.0 170.6l2.3 2.3l-2.3 2.3l-2.3-2.3zM385.5 145.6l2.3 2.3l-2.3 2.3l-2.3-2.3zM387.1 153.0l2.3 2.3l-2.3 2.3l-2.3-2.3zM387.9 135.0l2.3 2.3l-2.3 2.3l-2.3-2.3zM388.5 139.7l2.3 2.3l-2.3 2.3l-2.3-2.3zM389.4 159.7l2.3 2.3l-2.3 2.3l-2.3-2.3zM389.6 140.9l2.3 2.3l-2.3 2.3l-2.3-2.3zM390.5 152.0l2.3 2.3l-2.3 2.3l-2.3-2.3zM390.9 146.5l2.3 2.3l-2.3 2.3l-2.3-2.3zM391.7 137.8l2.3 2.3l-2.3 2.3l-2.3-2.3zM393.2 142.6l2.3 2.3l-2.3 2.3l-2.3-2.3zM393.4 140.4l2.3 2.3l-2.3 2.3l-2.3-2.3zM395.1 139.6l2.3 2.3l-2.3 2.3l-2.3-2.3zM395.2 148.5l2.3 2.3l-2.3 2.3l-2.3-2.3zM395.7 146.4l2.3 2.3l-2.3 2.3l-2.3-2.3zM396.9 135.2l2.3 2.3l-2.3 2.3l-2.3-2.3zM398.0 131.1l2.3 2.3l-2.3 2.3l-2.3-2.3zM398.3 139.0l2.3 2.3l-2.3 2.3l-2.3-2.3zM398.6 134.3l2.3 2.3l-2.3 2.3l-2.3-2.3zM399.8 141.4l2.3 2.3l-2.3 2.3l-2.3-2.3zM400.9 152.5l2.3 2.3l-2.3 2.3l-2.3-2.3zM401.1 136.0l2.3 2.3l-2.3 2.3l-2.3-2.3zM401.7 126.9l2.3 2.3l-2.3 2.3l-2.3-2.3zM403.0 123.5l2.3 2.3l-2.3 2.3l-2.3-2.3zM403.5 115.7l2.3 2.3l-2.3 2.3l-2.3-2.3zM403.9 113.0l2.3 2.3l-2.3 2.3l-2.3-2.3zM404.9 109.9l2.3 2.3l-2.3 2.3l-2.3-2.3zM405.6 112.5l2.3 2.3l-2.3 2.3l-2.3-2.3zM406.6 110.0l2.3 2.3l-2.3 2.3l-2.3-2.3zM407.3 117.2l2.3 2.3l-2.3 2.3l-2.3-2.3zM408.4 105.9l2.3 2.3l-2.3 2.3l-2.3-2.3zM409.0 105.3l2.3 2.3l-2.3 2.3l-2.3-2.3zM409.1 95.0l2.3 2.3l-2.3 2.3l-2.3-2.3zM410.5 115.9l2.3 2.3l-2.3 2.3l-2.3-2.3zM411.4 105.1l2.3 2.3l-2.3 2.3l-2.3-2.3zM412.0 113.9l2.3 2.3l-2.3 2.3l-2.3-2.3zM412.9 104.8l2.3 2.3l-2.3 2.3l-2.3-2.3zM413.2 109.3l2.3 2.3l-2.3 2.3l-2.3-2.3zM413.9 94.5l2.3 2.3l-2.3 2.3l-2.3-2.3zM415.2 101.4l2.3 2.3l-2.3 2.3l-2.3-2.3zM415.3 116.7l2.3 2.3l-2.3 2.3l-2.3-2.3zM415.8 84.8l2.3 2.3l-2.3 2.3l-2.3-2.3zM417.5 103.7l2.3 2.3l-2.3 2.3l-2.3-2.3zM417.7 107.8l2.3 2.3l-2.3 2.3l-2.3-2.3zM418.6 97.6l2.3 2.3l-2.3 2.3l-2.3-2.3zM419.0 100.6l2.3 2.3l-2.3 2.3l-2.3-2.3zM419.8 105.1l2.3 2.3l-2.3 2.3l-2.3-2.3zM420.6 89.9l2.3 2.3l-2.3 2.3l-2.3-2.3zM421.6 99.2l2.3 2.3l-2.3 2.3l-2.3-2.3zM422.6 89.5l2.3 2.3l-2.3 2.3l-2.3-2.3zM422.6 92.0l2.3 2.3l-2.3 2.3l-2.3-2.3zM424.2 93.7l2.3 2.3l-2.3 2.3l-2.3-2.3zM424.4 98.9l2.3 2.3l-2.3 2.3l-2.3-2.3zM425.2 102.6l2.3 2.3l-2.3 2.3l-2.3-2.3zM426.5 106.4l2.3 2.3l-2.3 2.3l-2.3-2.3zM427.0 92.4l2.3 2.3l-2.3 2.3l-2.3-2.3zM427.4 121.6l2.3 2.3l-2.3 2.3l-2.3-2.3zM429.1 116.2l2.3 2.3l-2.3 2.3l-2.3-2.3zM429.1 114.0l2.3 2.3l-2.3 2.3l-2.3-2.3zM430.2 106.5l2.3 2.3l-2.3 2.3l-2.3-2.3zM430.9 110.0l2.3 2.3l-2.3 2.3l-2.3-2.3zM432.0 116.5l2.3 2.3l-2.3 2.3l-2.3-2.3zM432.2 116.5l2.3 2.3l-2.3 2.3l-2.3-2.3zM433.4 100.5l2.3 2.3l-2.3 2.3l-2.3-2.3zM433.7 121.3l2.3 2.3l-2.3 2.3l-2.3-2.3zM435.0 139.9l2.3 2.3l-2.3 2.3l-2.3-2.3zM435.2 101.5l2.3 2.3l-2.3 2.3l-2.3-2.3zM436.1 125.5l2.3 2.3l-2.3 2.3l-2.3-2.3zM437.5 120.9l2.3 2.3l-2.3 2.3l-2.3-2.3zM437.8 117.5l2.3 2.3l-2.3 2.3l-2.3-2.3zM438.5 130.1l2.3 2.3l-2.3 2.3l-2.3-2.3zM439.9 109.4l2.3 2.3l-2.3 2.3l-2.3-2.3zM440.1 120.6l2.3 2.3l-2.3 2.3l-2.3-2.3zM440.5 131.2l2.3 2.3l-2.3 2.3l-2.3-2.3zM441.7 117.4l2.3 2.3l-2.3 2.3l-2.3-2.3zM441.9 115.4l2.3 2.3l-2.3 2.3l-2.3-2.3zM443.4 119.6l2.3 2.3l-2.3 2.3l-2.3-2.3zM444.1 115.0l2.3 2.3l-2.3 2.3l-2.3-2.3zM444.4 131.2l2.3 2.3l-2.3 2.3l-2.3-2.3zM445.1 111.0l2.3 2.3l-2.3 2.3l-2.3-2.3zM446.1 125.5l2.3 2.3l-2.3 2.3l-2.3-2.3zM446.8 108.1l2.3 2.3l-2.3 2.3l-2.3-2.3zM447.3 123.9l2.3 2.3l-2.3 2.3l-2.3-2.3zM448.5 117.6l2.3 2.3l-2.3 2.3l-2.3-2.3zM448.5 97.4l2.3 2.3l-2.3 2.3l-2.3-2.3zM449.7 118.7l2.3 2.3l-2.3 2.3l-2.3-2.3zM450.5 110.1l2.3 2.3l-2.3 2.3l-2.3-2.3zM451.3 115.4l2.3 2.3l-2.3 2.3l-2.3-2.3zM452.2 131.9l2.3 2.3l-2.3 2.3l-2.3-2.3zM452.5 110.3l2.3 2.3l-2.3 2.3l-2.3-2.3zM453.8 111.1l2.3 2.3l-2.3 2.3l-2.3-2.3zM454.4 132.0l2.3 2.3l-2.3 2.3l-2.3-2.3zM455.0 121.5l2.3 2.3l-2.3 2.3l-2.3-2.3zM455.5 133.7l2.3 2.3l-2.3 2.3l-2.3-2.3zM456.3 124.2l2.3 2.3l-2.3 2.3l-2.3-2.3zM457.6 114.9l2.3 2.3l-2.3 2.3l-2.3-2.3zM457.9 122.4l2.3 2.3l-2.3 2.3l-2.3-2.3zM459.0 134.0l2.3 2.3l-2.3 2.3l-2.3-2.3zM460.1 132.6l2.3 2.3l-2.3 2.3l-2.3-2.3zM460.8 126.1l2.3 2.3l-2.3 2.3l-2.3-2.3zM461.7 127.8l2.3 2.3l-2.3 2.3l-2.3-2.3zM461.9 127.8l2.3 2.3l-2.3 2.3l-2.3-2.3zM462.5 125.4l2.3 2.3l-2.3 2.3l-2.3-2.3zM463.8 147.6l2.3 2.3l-2.3 2.3l-2.3-2.3zM464.4 133.4l2.3 2.3l-2.3 2.3l-2.3-2.3zM465.4 125.6l2.3 2.3l-2.3 2.3l-2.3-2.3zM465.8 132.4l2.3 2.3l-2.3 2.3l-2.3-2.3zM466.9 143.7l2.3 2.3l-2.3 2.3l-2.3-2.3zM467.6 144.4l2.3 2.3l-2.3 2.3l-2.3-2.3zM468.3 139.3l2.3 2.3l-2.3 2.3l-2.3-2.3zM469.0 136.1l2.3 2.3l-2.3 2.3l-2.3-2.3zM469.7 142.9l2.3 2.3l-2.3 2.3l-2.3-2.3zM470.4 129.9l2.3 2.3l-2.3 2.3l-2.3-2.3zM471.2 134.0l2.3 2.3l-2.3 2.3l-2.3-2.3zM472.2 152.2l2.3 2.3l-2.3 2.3l-2.3-2.3zM472.5 142.6l2.3 2.3l-2.3 2.3l-2.3-2.3zM473.9 150.4l2.3 2.3l-2.3 2.3l-2.3-2.3zM474.1 158.1l2.3 2.3l-2.3 2.3l-2.3-2.3zM475.2 154.2l2.3 2.3l-2.3 2.3l-2.3-2.3zM475.7 149.6l2.3 2.3l-2.3 2.3l-2.3-2.3zM476.4 167.5l2.3 2.3l-2.3 2.3l-2.3-2.3zM477.8 156.0l2.3 2.3l-2.3 2.3l-2.3-2.3zM477.9 148.0l2.3 2.3l-2.3 2.3l-2.3-2.3zM478.4 157.3l2.3 2.3l-2.3 2.3l-2.3-2.3zM479.3 154.9l2.3 2.3l-2.3 2.3l-2.3-2.3zM480.2 144.8l2.3 2.3l-2.3 2.3l-2.3-2.3zM481.7 152.7l2.3 2.3l-2.3 2.3l-2.3-2.3zM481.8 151.0l2.3 2.3l-2.3 2.3l-2.3-2.3zM482.8 136.4l2.3 2.3l-2.3 2.3l-2.3-2.3zM483.0 151.4l2.3 2.3l-2.3 2.3l-2.3-2.3zM484.2 150.7l2.3 2.3l-2.3 2.3l-2.3-2.3zM485.0 149.6l2.3 2.3l-2.3 2.3l-2.3-2.3zM486.1 139.9l2.3 2.3l-2.3 2.3l-2.3-2.3zM486.1 150.7l2.3 2.3l-2.3 2.3l-2.3-2.3zM487.3 153.4l2.3 2.3l-2.3 2.3l-2.3-2.3zM488.0 154.7l2.3 2.3l-2.3 2.3l-2.3-2.3zM488.3 144.7l2.3 2.3l-2.3 2.3l-2.3-2.3zM489.4 159.4l2.3 2.3l-2.3 2.3l-2.3-2.3zM490.1 144.3l2.3 2.3l-2.3 2.3l-2.3-2.3zM490.2 152.5l2.3 2.3l-2.3 2.3l-2.3-2.3zM491.8 165.2l2.3 2.3l-2.3 2.3l-2.3-2.3zM492.6 148.9l2.3 2.3l-2.3 2.3l-2.3-2.3zM493.0 150.4l2.3 2.3l-2.3 2.3l-2.3-2.3zM493.5 163.5l2.3 2.3l-2.3 2.3l-2.3-2.3zM495.1 151.6l2.3 2.3l-2.3 2.3l-2.3-2.3zM495.5 152.4l2.3 2.3l-2.3 2.3l-2.3-2.3zM496.5 156.7l2.3 2.3l-2.3 2.3l-2.3-2.3zM497.4 163.6l2.3 2.3l-2.3 2.3l-2.3-2.3zM497.6 136.9l2.3 2.3l-2.3 2.3l-2.3-2.3zM498.7 148.3l2.3 2.3l-2.3 2.3l-2.3-2.3zM499.2 146.9l2.3 2.3l-2.3 2.3l-2.3-2.3zM500.0 146.3l2.3 2.3l-2.3 2.3l-2.3-2.3zM500.8 148.2l2.3 2.3l-2.3 2.3l-2.3-2.3zM501.5 148.4l2.3 2.3l-2.3 2.3l-2.3-2.3zM502.6 157.8l2.3 2.3l-2.3 2.3l-2.3-2.3zM503.1 148.1l2.3 2.3l-2.3 2.3l-2.3-2.3zM503.8 156.5l2.3 2.3l-2.3 2.3l-2.3-2.3zM504.5 158.8l2.3 2.3l-2.3 2.3l-2.3-2.3zM505.4 149.6l2.3 2.3l-2.3 2.3l-2.3-2.3zM505.8 156.7l2.3 2.3l-2.3 2.3l-2.3-2.3zM506.7 169.1l2.3 2.3l-2.3 2.3l-2.3-2.3zM507.6 158.4l2.3 2.3l-2.3 2.3l-2.3-2.3zM508.2 150.6l2.3 2.3l-2.3 2.3l-2.3-2.3zM509.1 155.3l2.3 2.3l-2.3 2.3l-2.3-2.3zM509.7 148.4l2.3 2.3l-2.3 2.3l-2.3-2.3zM511.3 158.2l2.3 2.3l-2.3 2.3l-2.3-2.3zM511.8 163.1l2.3 2.3l-2.3 2.3l-2.3-2.3zM512.3 149.4l2.3 2.3l-2.3 2.3l-2.3-2.3zM512.9 154.4l2.3 2.3l-2.3 2.3l-2.3-2.3zM514.4 165.3l2.3 2.3l-2.3 2.3l-2.3-2.3zM514.6 152.2l2.3 2.3l-2.3 2.3l-2.3-2.3zM515.2 157.8l2.3 2.3l-2.3 2.3l-2.3-2.3zM516.1 148.0l2.3 2.3l-2.3 2.3l-2.3-2.3zM516.8 149.7l2.3 2.3l-2.3 2.3l-2.3-2.3zM517.9 152.3l2.3 2.3l-2.3 2.3l-2.3-2.3zM518.3 174.0l2.3 2.3l-2.3 2.3l-2.3-2.3zM519.6 153.3l2.3 2.3l-2.3 2.3l-2.3-2.3zM519.5 152.4l2.3 2.3l-2.3 2.3l-2.3-2.3zM520.7 152.2l2.3 2.3l-2.3 2.3l-2.3-2.3zM521.0 155.5l2.3 2.3l-2.3 2.3l-2.3-2.3zM522.6 162.1l2.3 2.3l-2.3 2.3l-2.3-2.3zM522.7 158.4l2.3 2.3l-2.3 2.3l-2.3-2.3zM523.6 173.4l2.3 2.3l-2.3 2.3l-2.3-2.3zM524.6 158.7l2.3 2.3l-2.3 2.3l-2.3-2.3zM525.5 168.7l2.3 2.3l-2.3 2.3l-2.3-2.3zM525.5 159.4l2.3 2.3l-2.3 2.3l-2.3-2.3zM526.5 162.0l2.3 2.3l-2.3 2.3l-2.3-2.3zM527.0 145.7l2.3 2.3l-2.3 2.3l-2.3-2.3zM528.2 156.3l2.3 2.3l-2.3 2.3l-2.3-2.3zM528.9 156.8l2.3 2.3l-2.3 2.3l-2.3-2.3zM529.6 155.5l2.3 2.3l-2.3 2.3l-2.3-2.3zM530.2 140.3l2.3 2.3l-2.3 2.3l-2.3-2.3zM531.1 164.6l2.3 2.3l-2.3 2.3l-2.3-2.3zM531.7 154.5l2.3 2.3l-2.3 2.3l-2.3-2.3zM532.9 154.2l2.3 2.3l-2.3 2.3l-2.3-2.3zM533.9 155.7l2.3 2.3l-2.3 2.3l-2.3-2.3zM533.6 156.0l2.3 2.3l-2.3 2.3l-2.3-2.3zM534.9 161.1l2.3 2.3l-2.3 2.3l-2.3-2.3zM535.6 147.8l2.3 2.3l-2.3 2.3l-2.3-2.3zM536.6 150.5l2.3 2.3l-2.3 2.3l-2.3-2.3zM537.0 160.4l2.3 2.3l-2.3 2.3l-2.3-2.3zM538.0 159.3l2.3 2.3l-2.3 2.3l-2.3-2.3z" fill="#009d4c"/>
<path d="M327.5 159.5 L328.0 159.5 L328.5 159.5 L329.0 159.5 L329.5 159.5 L330.0 159.5 L330.5 159.5 L331.0 159.5 L331.5 159.5 L332.0 159.5 L332.5 159.5 L333.0 159.5 L333.5 159.5 L334.0 159.5 L334.5 159.5 L335.0 159.5 L335.5 159.5 L336.0 159.5 L336.5 159.5 L337.0 159.5 L337.5 159.5 L338.0 159.5 L338.5 159.5 L339.0 159.5 L339.5 159.5 L340.0 159.5 L340.5 159.5 L341.0 159.5 L341.5 159.5 L342.0 159.5 L342.5 159.5 L343.0 159.5 L343.5 159.5 L344.0 159.5 L344.5 159.5 L345.0 159.5 L345.5 159.5 L346.0 159.5 L346.5 159.5 L347.0 159.5 L347.5 159.5 L348.0 159.5 L348.5 159.5 L349.0 159.5 L349.5 159.5 L350.0 159.5 L350.5 159.5 L351.0 159.5 L351.5 159.5 L352.0 159.5 L352.5 159.5 L353.0 159.4 L353.5 159.4 L354.0 159.4 L354.5 159.4 L355.0 159.4 L355.5 159.4 L356.0 159.4 L356.5 159.4 L357.0 159.4 L357.5 159.4 L358.0 159.4 L358.5 159.4 L359.0 159.4 L359.5 159.4 L360.0 159.4 L360.5 159.4 L361.0 159.4 L361.5 159.4 L362.0 159.4 L362.5 159.4 L363.0 159.4 L363.5 159.4 L364.0 159.4 L364.5 159.4 L365.0 159.4 L365.5 159.4 L366.0 159.4 L366.5 159.4 L367.0 159.4 L367.5 159.4 L368.0 159.4 L368.5 159.4 L369.0 159.4 L369.5 159.3 L370.0 159.3 L370.5 159.3 L371.0 159.3 L371.5 159.3 L372.0 159.3 L372.5 159.2 L373.0 159.2 L373.5 159.2 L374.0 159.2 L374.5 159.1 L375.0 159.1 L375.5 159.1 L376.0 159.0 L376.5 159.0 L377.0 158.9 L377.5 158.8 L378.0 158.8 L378.5 158.7 L379.0 158.6 L379.5 158.5 L380.0 158.4 L380.5 158.3 L381.0 158.2 L381.5 158.0 L382.0 157.9 L382.5 157.7 L383.0 157.5 L383.5 157.4 L384.0 157.1 L384.5 156.9 L385.0 156.7 L385.5 156.4 L386.0 156.1 L386.5 155.8 L387.0 155.5 L387.5 155.1 L388.0 154.7 L388.5 154.3 L389.0 153.8 L389.5 153.4 L390.0 152.8 L390.5 152.3 L391.0 151.7 L391.5 151.1 L392.0 150.5 L392.5 149.8 L393.0 149.0 L393.5 148.3 L394.0 147.5 L394.5 146.6 L395.0 145.8 L395.5 144.8 L396.0 143.9 L396.5 142.9 L397.0 141.8 L397.5 140.8 L398.0 139.6 L398.5 138.5 L399.0 137.3 L399.5 136.1 L400.0 134.8 L400.5 133.5 L401.0 132.2 L401.5 130.9 L402.0 129.5 L402.5 128.1 L403.0 126.7 L403.5 125.3 L404.0 123.8 L404.5 122.4 L405.0 121.0 L405.5 119.5 L406.0 118.1 L406.5 116.7 L407.0 115.3 L407.5 113.9 L408.0 112.5 L408.5 111.2 L409.0 109.8 L409.5 108.6 L410.0 107.3 L410.5 106.2 L411.0 105.0 L411.5 104.0 L412.0 102.9 L412.5 102.0 L413.0 101.1 L413.5 100.3 L414.0 99.5 L414.5 98.9 L415.0 98.3 L415.5 97.8 L416.0 97.4 L416.5 97.0 L417.0 96.8 L417.5 96.6 L418.0 96.6 L418.5 96.6 L419.0 96.7 L419.5 96.9 L420.0 97.2 L420.5 97.6 L421.0 98.0 L421.5 98.6 L422.0 99.2 L422.5 99.9 L423.0 100.7 L423.5 101.5 L424.0 102.4 L424.5 103.4 L425.0 104.4 L425.5 105.5 L426.0 106.6 L426.5 107.8 L427.0 109.0 L427.5 110.3 L428.0 111.6 L428.5 112.9 L429.0 114.3 L429.5 115.6 L430.0 117.0 L430.5 118.4 L431.0 119.8 L431.5 121.2 L432.0 122.5 L432.5 123.9 L433.0 125.3 L433.5 126.7 L434.0 128.0 L434.5 129.3 L435.0 130.6 L435.5 131.9 L436.0 133.1 L436.5 134.3 L437.0 135.5 L437.5 136.7 L438.0 137.8 L438.5 138.9 L439.0 139.9 L439.5 140.9 L440.0 141.9 L440.5 142.8 L441.0 143.7 L441.5 144.5 L442.0 145.3 L442.5 146.1 L443.0 146.8 L443.5 147.5 L444.0 148.1 L444.5 148.8 L445.0 149.3 L445.5 149.9 L446.0 150.4 L446.5 150.9 L447.0 151.3 L447.5 151.7 L448.0 152.1 L448.5 152.5 L449.0 152.8 L449.5 153.1 L450.0 153.4 L450.5 153.6 L451.0 153.9 L451.5 154.1 L452.0 154.3 L452.5 154.5 L453.0 154.6 L453.5 154.8 L454.0 154.9 L454.5 155.0 L455.0 155.1 L455.5 155.2 L456.0 155.3 L456.5 155.4 L457.0 155.5 L457.5 155.5 L458.0 155.6 L458.5 155.6 L459.0 155.7 L459.5 155.7 L460.0 155.7 L460.5 155.7 L461.0 155.8 L461.5 155.8 L462.0 155.8 L462.5 155.8 L463.0 155.8 L463.5 155.8 L464.0 155.8 L464.5 155.8 L465.0 155.8 L465.5 155.8 L466.0 155.8 L466.5 155.8 L467.0 155.7 L467.5 155.7 L468.0 155.7 L468.5 155.7 L469.0 155.7 L469.5 155.7 L470.0 155.7 L470.5 155.7 L471.0 155.7 L471.5 155.7 L472.0 155.7 L472.5 155.7 L473.0 155.7 L473.5 155.7 L474.0 155.7 L474.5 155.7 L475.0 155.7 L475.5 155.7 L476.0 155.7 L476.5 155.7 L477.0 155.7 L477.5 155.8 L478.0 155.8 L478.5 155.8 L479.0 155.8 L479.5 155.9 L480.0 155.9 L480.5 155.9 L481.0 155.9 L481.5 156.0 L482.0 156.0 L482.5 156.0 L483.0 156.1 L483.5 156.1 L484.0 156.2 L484.5 156.2 L485.0 156.2 L485.5 156.3 L486.0 156.3 L486.5 156.3 L487.0 156.4 L487.5 156.4 L488.0 156.5 L488.5 156.5 L489.0 156.5 L489.5 156.6 L490.0 156.6 L490.5 156.6 L491.0 156.7 L491.5 156.7 L492.0 156.7 L492.5 156.8 L493.0 156.8 L493.5 156.9 L494.0 156.9 L494.5 156.9 L495.0 157.0 L495.5 157.0 L496.0 157.1 L496.5 157.1 L497.0 157.1 L497.5 157.2 L498.0 157.2 L498.5 157.3 L499.0 157.3 L499.5 157.3 L500.0 157.4 L500.5 157.4 L501.0 157.5 L501.5 157.5 L502.0 157.6 L502.5 157.6 L503.0 157.6 L503.5 157.7 L504.0 157.7 L504.5 157.8 L505.0 157.8 L505.5 157.8 L506.0 157.9 L506.5 157.9 L507.0 158.0 L507.5 158.0 L508.0 158.0 L508.5 158.1 L509.0 158.1 L509.5 158.2 L510.0 158.2 L510.5 158.2 L511.0 158.3 L511.5 158.3 L512.0 158.4 L512.5 158.4 L513.0 158.4 L513.5 158.5 L514.0 158.5 L514.5 158.6 L515.0 158.6 L515.5 158.6 L516.0 158.7 L516.5 158.7 L517.0 158.8 L517.5 158.8 L518.0 158.8 L518.5 158.9 L519.0 158.9 L519.5 158.9 L520.0 159.0 L520.5 159.0 L521.0 159.1 L521.5 159.1 L522.0 159.1 L522.5 159.2 L523.0 159.2 L523.5 159.3 L524.0 159.3 L524.5 159.3 L525.0 159.4 L525.5 159.4 L526.0 159.5 L526.5 159.5 L527.0 159.5 L527.5 159.6 L528.0 159.6 L528.5 159.7 L529.0 159.7 L529.5 159.7 L530.0 159.8 L530.5 159.8 L531.0 159.9 L531.5 159.9 L532.0 159.9 L532.5 160.0 L533.0 160.0 L533.5 160.0 L534.0 160.1 L534.5 160.1 L535.0 160.2 L535.5 160.2 L536.0 160.2 L536.5 160.3 L537.0 160.3 L537.5 160.4 L538.0 160.4" fill="none" stroke="#009d4c" stroke-width="1.3"/>
<path d="M327.5 159.3 L328.0 159.3 L328.5 159.3 L329.0 159.3 L329.5 159.3 L330.0 159.3 L330.5 159.3 L331.0 159.3 L331.5 159.3 L332.0 159.3 L332.5 159.3 L333.0 159.3 L333.5 159.3 L334.0 159.3 L334.5 159.3 L335.0 159.3 L335.5 159.3 L336.0 159.3 L336.5 159.3 L337.0 159.3 L337.5 159.3 L338.0 159.3 L338.5 159.3 L339.0 159.3 L339.5 159.3 L340.0 159.3 L340.5 159.3 L341.0 159.3 L341.5 159.3 L342.0 159.3 L342.5 159.3 L343.0 159.2 L343.5 159.2 L344.0 159.2 L344.5 159.2 L345.0 159.2 L345.5 159.2 L346.0 159.2 L346.5 159.2 L347.0 159.2 L347.5 159.2 L348.0 159.2 L348.5 159.2 L349.0 159.2 L349.5 159.2 L350.0 159.2 L350.5 159.2 L351.0 159.2 L351.5 159.2 L352.0 159.2 L352.5 159.2 L353.0 159.2 L353.5 159.2 L354.0 159.2 L354.5 159.2 L355.0 159.2 L355.5 159.2 L356.0 159.2 L356.5 159.2 L357.0 159.2 L357.5 159.2 L358.0 159.1 L358.5 159.1 L359.0 159.1 L359.5 159.1 L360.0 159.1 L360.5 159.1 L361.0 159.1 L361.5 159.1 L362.0 159.1 L362.5 159.1 L363.0 159.1 L363.5 159.1 L364.0 159.1 L364.5 159.1 L365.0 159.1 L365.5 159.1 L366.0 159.1 L366.5 159.1 L367.0 159.1 L367.5 159.1 L368.0 159.0 L368.5 159.0 L369.0 159.0 L369.5 159.0 L370.0 159.0 L370.5 159.0 L371.0 159.0 L371.5 159.0 L372.0 159.0 L372.5 159.0 L373.0 159.0 L373.5 159.0 L374.0 159.0 L374.5 159.0 L375.0 159.0 L375.5 158.9 L376.0 158.9 L376.5 158.9 L377.0 158.9 L377.5 158.9 L378.0 158.9 L378.5 158.9 L379.0 158.9 L379.5 158.9 L380.0 158.9 L380.5 158.9 L381.0 158.8 L381.5 158.8 L382.0 158.8 L382.5 158.8 L383.0 158.8 L383.5 158.8 L384.0 158.8 L384.5 158.8 L385.0 158.8 L385.5 158.7 L386.0 158.7 L386.5 158.7 L387.0 158.7 L387.5 158.7 L388.0 158.7 L388.5 158.7 L389.0 158.6 L389.5 158.6 L390.0 158.6 L390.5 158.6 L391.0 158.6 L391.5 158.5 L392.0 158.5 L392.5 158.5 L393.0 158.5 L393.5 158.5 L394.0 158.5 L394.5 158.4 L395.0 158.4 L395.5 158.4 L396.0 158.4 L396.5 158.3 L397.0 158.3 L397.5 158.3 L398.0 158.3 L398.5 158.2 L399.0 158.2 L399.5 158.2 L400.0 158.2 L400.5 158.1 L401.0 158.1 L401.5 158.1 L402.0 158.0 L402.5 158.0 L403.0 158.0 L403.5 157.9 L404.0 157.9 L404.5 157.8 L405.0 157.8 L405.5 157.8 L406.0 157.7 L406.5 157.7 L407.0 157.6 L407.5 157.6 L408.0 157.5 L408.5 157.5 L409.0 157.4 L409.5 157.4 L410.0 157.3 L410.5 157.3 L411.0 157.2 L411.5 157.2 L412.0 157.1 L412.5 157.0 L413.0 157.0 L413.5 156.9 L414.0 156.8 L414.5 156.8 L415.0 156.7 L415.5 156.6 L416.0 156.5 L416.5 156.4 L417.0 156.3 L417.5 156.2 L418.0 156.1 L418.5 156.0 L419.0 155.9 L419.5 155.8 L420.0 155.7 L420.5 155.6 L421.0 155.4 L421.5 155.3 L422.0 155.2 L422.5 155.0 L423.0 154.8 L423.5 154.7 L424.0 154.5 L424.5 154.3 L425.0 154.0 L425.5 153.8 L426.0 153.5 L426.5 153.3 L427.0 153.0 L427.5 152.7 L428.0 152.4 L428.5 152.0 L429.0 151.6 L429.5 151.2 L430.0 150.8 L430.5 150.3 L431.0 149.9 L431.5 149.3 L432.0 148.8 L432.5 148.2 L433.0 147.6 L433.5 146.9 L434.0 146.3 L434.5 145.5 L435.0 144.8 L435.5 144.0 L436.0 143.2 L436.5 142.3 L437.0 141.4 L437.5 140.5 L438.0 139.5 L438.5 138.5 L439.0 137.5 L439.5 136.4 L440.0 135.4 L440.5 134.3 L441.0 133.2 L441.5 132.2 L442.0 131.1 L442.5 130.0 L443.0 129.0 L443.5 128.0 L444.0 127.1 L444.5 126.2 L445.0 125.4 L445.5 124.7 L446.0 124.1 L446.5 123.6 L447.0 123.3 L447.5 123.0 L448.0 122.9 L448.5 123.0 L449.0 123.1 L449.5 123.4 L450.0 123.9 L450.5 124.4 L451.0 125.1 L451.5 125.8 L452.0 126.6 L452.5 127.5 L453.0 128.4 L453.5 129.4 L454.0 130.4 L454.5 131.4 L455.0 132.4 L455.5 133.5 L456.0 134.5 L456.5 135.5 L457.0 136.5 L457.5 137.4 L458.0 138.4 L458.5 139.3 L459.0 140.1 L459.5 141.0 L460.0 141.8 L460.5 142.6 L461.0 143.3 L461.5 144.0 L462.0 144.7 L462.5 145.3 L463.0 145.9 L463.5 146.4 L464.0 146.9 L464.5 147.4 L465.0 147.9 L465.5 148.3 L466.0 148.7 L466.5 149.1 L467.0 149.4 L467.5 149.8 L468.0 150.1 L468.5 150.3 L469.0 150.6 L469.5 150.8 L470.0 151.1 L470.5 151.3 L471.0 151.5 L471.5 151.7 L472.0 151.8 L472.5 152.0 L473.0 152.2 L473.5 152.3 L474.0 152.4 L474.5 152.6 L475.0 152.7 L475.5 152.8 L476.0 152.9 L476.5 153.0 L477.0 153.1 L477.5 153.2 L478.0 153.4 L478.5 153.4 L479.0 153.5 L479.5 153.6 L480.0 153.7 L480.5 153.8 L481.0 153.9 L481.5 154.0 L482.0 154.1 L482.5 154.2 L483.0 154.3 L483.5 154.3 L484.0 154.4 L484.5 154.5 L485.0 154.6 L485.5 154.7 L486.0 154.7 L486.5 154.8 L487.0 154.9 L487.5 155.0 L488.0 155.0 L488.5 155.1 L489.0 155.2 L489.5 155.2 L490.0 155.3 L490.5 155.4 L491.0 155.4 L491.5 155.5 L492.0 155.6 L492.5 155.6 L493.0 155.7 L493.5 155.8 L494.0 155.8 L494.5 155.9 L495.0 155.9 L495.5 156.0 L496.0 156.1 L496.5 156.1 L497.0 156.2 L497.5 156.2 L498.0 156.3 L498.5 156.4 L499.0 156.4 L499.5 156.5 L500.0 156.5 L500.5 156.6 L501.0 156.6 L501.5 156.7 L502.0 156.8 L502.5 156.8 L503.0 156.9 L503.5 156.9 L504.0 157.0 L504.5 157.0 L505.0 157.1 L505.5 157.1 L506.0 157.2 L506.5 157.2 L507.0 157.3 L507.5 157.3 L508.0 157.4 L508.5 157.4 L509.0 157.5 L509.5 157.5 L510.0 157.6 L510.5 157.6 L511.0 157.7 L511.5 157.7 L512.0 157.8 L512.5 157.8 L513.0 157.9 L513.5 157.9 L514.0 158.0 L514.5 158.0 L515.0 158.1 L515.5 158.1 L516.0 158.2 L516.5 158.2 L517.0 158.3 L517.5 158.3 L518.0 158.3 L518.5 158.4 L519.0 158.4 L519.5 158.5 L520.0 158.5 L520.5 158.6 L521.0 158.6 L521.5 158.7 L522.0 158.7 L522.5 158.8 L523.0 158.8 L523.5 158.8 L524.0 158.9 L524.5 158.9 L525.0 159.0 L525.5 159.0 L526.0 159.1 L526.5 159.1 L527.0 159.2 L527.5 159.2 L528.0 159.2 L528.5 159.3 L529.0 159.3 L529.5 159.4 L530.0 159.4 L530.5 159.5 L531.0 159.5 L531.5 159.5 L532.0 159.6 L532.5 159.6 L533.0 159.7 L533.5 159.7 L534.0 159.8 L534.5 159.8 L535.0 159.8 L535.5 159.9 L536.0 159.9 L536.5 160.0 L537.0 160.0 L537.5 160.1 L538.0 160.1" fill="none" stroke="#009d4c" stroke-width="1.3"/>
<path d="M327.5 157.0 L328.0 157.0 L328.5 157.0 L329.0 157.0 L329.5 157.0 L330.0 157.0 L330.5 157.0 L331.0 157.0 L331.5 157.0 L332.0 157.0 L332.5 157.0 L333.0 157.0 L333.5 157.0 L334.0 157.0 L334.5 157.0 L335.0 157.0 L335.5 157.0 L336.0 157.0 L336.5 157.0 L337.0 157.0 L337.5 157.0 L338.0 157.0 L338.5 157.0 L339.0 157.0 L339.5 157.0 L340.0 157.0 L340.5 157.0 L341.0 157.0 L341.5 157.0 L342.0 157.0 L342.5 157.0 L343.0 157.0 L343.5 157.0 L344.0 157.0 L344.5 157.0 L345.0 157.0 L345.5 157.0 L346.0 157.0 L346.5 157.0 L347.0 157.0 L347.5 157.0 L348.0 157.0 L348.5 157.0 L349.0 157.0 L349.5 157.0 L350.0 157.0 L350.5 157.0 L351.0 157.0 L351.5 157.0 L352.0 157.0 L352.5 157.0 L353.0 157.0 L353.5 157.0 L354.0 157.0 L354.5 157.0 L355.0 157.0 L355.5 157.0 L356.0 157.0 L356.5 157.0 L357.0 157.0 L357.5 156.9 L358.0 156.9 L358.5 156.9 L359.0 156.9 L359.5 156.9 L360.0 156.9 L360.5 156.9 L361.0 156.9 L361.5 156.9 L362.0 156.9 L362.5 156.9 L363.0 156.9 L363.5 156.9 L364.0 156.9 L364.5 156.9 L365.0 156.9 L365.5 156.9 L366.0 156.9 L366.5 156.8 L367.0 156.8 L367.5 156.8 L368.0 156.8 L368.5 156.8 L369.0 156.8 L369.5 156.8 L370.0 156.8 L370.5 156.8 L371.0 156.8 L371.5 156.8 L372.0 156.8 L372.5 156.7 L373.0 156.7 L373.5 156.7 L374.0 156.7 L374.5 156.6 L375.0 156.6 L375.5 156.6 L376.0 156.6 L376.5 156.6 L377.0 156.6 L377.5 156.6 L378.0 156.5 L378.5 156.5 L379.0 156.4 L379.5 156.3 L380.0 156.2 L380.5 156.1 L381.0 155.9 L381.5 155.7 L382.0 155.6 L382.5 155.4 L383.0 155.2 L383.5 155.0 L384.0 154.7 L384.5 154.5 L385.0 154.3 L385.5 154.0 L386.0 153.7 L386.5 153.4 L387.0 153.0 L387.5 152.7 L388.0 152.3 L388.5 151.9 L389.0 151.4 L389.5 151.0 L390.0 150.6 L390.5 150.1 L391.0 149.6 L391.5 149.1 L392.0 148.6 L392.5 148.1 L393.0 147.5 L393.5 146.9 L394.0 146.3 L394.5 145.7 L395.0 145.0 L395.5 144.2 L396.0 143.3 L396.5 142.4 L397.0 141.5 L397.5 140.5 L398.0 139.5 L398.5 138.4 L399.0 137.2 L399.5 136.0 L400.0 134.8 L400.5 133.5 L401.0 132.2 L401.5 130.8 L402.0 129.4 L402.5 127.9 L403.0 126.4 L403.5 124.9 L404.0 123.3 L404.5 121.8 L405.0 120.3 L405.5 118.8 L406.0 117.3 L406.5 115.9 L407.0 114.4 L407.5 113.0 L408.0 111.6 L408.5 110.1 L409.0 108.7 L409.5 107.2 L410.0 105.9 L410.5 104.6 L411.0 103.5 L411.5 102.5 L412.0 101.7 L412.5 100.9 L413.0 100.2 L413.5 99.6 L414.0 99.0 L414.5 98.4 L415.0 97.9 L415.5 97.4 L416.0 97.1 L416.5 96.8 L417.0 96.7 L417.5 96.5 L418.0 96.5 L418.5 96.5 L419.0 96.6 L419.5 96.8 L420.0 97.0 L420.5 97.3 L421.0 97.6 L421.5 97.9 L422.0 98.4 L422.5 98.9 L423.0 99.5 L423.5 100.2 L424.0 101.0 L424.5 101.8 L425.0 102.7 L425.5 103.6 L426.0 104.5 L426.5 105.4 L427.0 106.2 L427.5 107.1 L428.0 108.0 L428.5 108.9 L429.0 109.8 L429.5 110.7 L430.0 111.6 L430.5 112.4 L431.0 113.3 L431.5 114.1 L432.0 114.9 L432.5 115.6 L433.0 116.3 L433.5 117.0 L434.0 117.6 L434.5 118.1 L435.0 118.6 L435.5 119.1 L436.0 119.5 L436.5 119.9 L437.0 120.2 L437.5 120.6 L438.0 120.9 L438.5 121.1 L439.0 121.3 L439.5 121.5 L440.0 121.5 L440.5 121.5 L441.0 121.4 L441.5 121.3 L442.0 121.2 L442.5 121.1 L443.0 121.0 L443.5 120.9 L444.0 120.9 L444.5 120.8 L445.0 120.8 L445.5 120.7 L446.0 120.7 L446.5 120.7 L447.0 120.7 L447.5 120.7 L448.0 120.8 L448.5 120.8 L449.0 120.9 L449.5 121.0 L450.0 121.1 L450.5 121.2 L451.0 121.3 L451.5 121.4 L452.0 121.5 L452.5 121.7 L453.0 121.9 L453.5 122.1 L454.0 122.3 L454.5 122.5 L455.0 122.8 L455.5 123.1 L456.0 123.4 L456.5 123.7 L457.0 124.1 L457.5 124.5 L458.0 125.0 L458.5 125.5 L459.0 126.2 L459.5 126.9 L460.0 127.6 L460.5 128.4 L461.0 129.3 L461.5 130.1 L462.0 131.0 L462.5 131.9 L463.0 132.9 L463.5 133.9 L464.0 135.0 L464.5 136.0 L465.0 137.1 L465.5 138.1 L466.0 139.0 L466.5 139.9 L467.0 140.8 L467.5 141.7 L468.0 142.6 L468.5 143.4 L469.0 144.1 L469.5 144.8 L470.0 145.5 L470.5 146.1 L471.0 146.8 L471.5 147.4 L472.0 148.0 L472.5 148.6 L473.0 149.2 L473.5 149.7 L474.0 150.2 L474.5 150.7 L475.0 151.2 L475.5 151.6 L476.0 152.0 L476.5 152.3 L477.0 152.7 L477.5 153.0 L478.0 153.2 L478.5 153.5 L479.0 153.7 L479.5 153.9 L480.0 154.1 L480.5 154.2 L481.0 154.4 L481.5 154.5 L482.0 154.7 L482.5 154.9 L483.0 155.0 L483.5 155.1 L484.0 155.3 L484.5 155.4 L485.0 155.6 L485.5 155.7 L486.0 155.8 L486.5 155.9 L487.0 156.0 L487.5 156.1 L488.0 156.2 L488.5 156.3 L489.0 156.4 L489.5 156.5 L490.0 156.5 L490.5 156.6 L491.0 156.7 L491.5 156.7 L492.0 156.8 L492.5 156.9 L493.0 156.9 L493.5 157.0 L494.0 157.0 L494.5 157.1 L495.0 157.1 L495.5 157.1 L496.0 157.2 L496.5 157.2 L497.0 157.3 L497.5 157.3 L498.0 157.3 L498.5 157.4 L499.0 157.4 L499.5 157.5 L500.0 157.5 L500.5 157.5 L501.0 157.6 L501.5 157.6 L502.0 157.6 L502.5 157.7 L503.0 157.7 L503.5 157.7 L504.0 157.8 L504.5 157.8 L505.0 157.8 L505.5 157.9 L506.0 157.9 L506.5 157.9 L507.0 158.0 L507.5 158.0 L508.0 158.0 L508.5 158.1 L509.0 158.1 L509.5 158.2 L510.0 158.2 L510.5 158.2 L511.0 158.3 L511.5 158.3 L512.0 158.4 L512.5 158.4 L513.0 158.4 L513.5 158.5 L514.0 158.5 L514.5 158.6 L515.0 158.6 L515.5 158.6 L516.0 158.7 L516.5 158.7 L517.0 158.7 L517.5 158.8 L518.0 158.8 L518.5 158.9 L519.0 158.9 L519.5 158.9 L520.0 159.0 L520.5 159.0 L521.0 159.1 L521.5 159.1 L522.0 159.1 L522.5 159.2 L523.0 159.2 L523.5 159.3 L524.0 159.3 L524.5 159.3 L525.0 159.4 L525.5 159.4 L526.0 159.5 L526.5 159.5 L527.0 159.5 L527.5 159.6 L528.0 159.6 L528.5 159.7 L529.0 159.7 L529.5 159.7 L530.0 159.8 L530.5 159.8 L531.0 159.8 L531.5 159.9 L532.0 159.9 L532.5 160.0 L533.0 160.0 L533.5 160.0 L534.0 160.1 L534.5 160.1 L535.0 160.2 L535.5 160.2 L536.0 160.2 L536.5 160.3 L537.0 160.3 L537.5 160.4 L538.0 160.4" fill="none" stroke="#000" stroke-width="1.25"/>
<path d="M327.1 223.9l2.3 2.3l-2.3 2.3l-2.3-2.3zM328.2 239.6l2.3 2.3l-2.3 2.3l-2.3-2.3zM328.8 234.2l2.3 2.3l-2.3 2.3l-2.3-2.3zM329.6 231.8l2.3 2.3l-2.3 2.3l-2.3-2.3zM330.8 236.6l2.3 2.3l-2.3 2.3l-2.3-2.3zM331.1 231.1l2.3 2.3l-2.3 2.3l-2.3-2.3zM332.0 219.3l2.3 2.3l-2.3 2.3l-2.3-2.3zM332.2 238.7l2.3 2.3l-2.3 2.3l-2.3-2.3zM333.5 235.9l2.3 2.3l-2.3 2.3l-2.3-2.3zM334.4 231.9l2.3 2.3l-2.3 2.3l-2.3-2.3zM334.9 242.2l2.3 2.3l-2.3 2.3l-2.3-2.3zM335.6 244.3l2.3 2.3l-2.3 2.3l-2.3-2.3zM337.2 223.5l2.3 2.3l-2.3 2.3l-2.3-2.3zM337.0 226.3l2.3 2.3l-2.3 2.3l-2.3-2.3zM337.8 247.2l2.3 2.3l-2.3 2.3l-2.3-2.3zM338.7 246.1l2.3 2.3l-2.3 2.3l-2.3-2.3zM340.0 226.7l2.3 2.3l-2.3 2.3l-2.3-2.3zM341.1 222.7l2.3 2.3l-2.3 2.3l-2.3-2.3zM341.3 227.6l2.3 2.3l-2.3 2.3l-2.3-2.3zM341.7 228.8l2.3 2.3l-2.3 2.3l-2.3-2.3zM342.6 219.1l2.3 2.3l-2.3 2.3l-2.3-2.3zM343.8 233.6l2.3 2.3l-2.3 2.3l-2.3-2.3zM343.9 221.8l2.3 2.3l-2.3 2.3l-2.3-2.3zM345.4 222.4l2.3 2.3l-2.3 2.3l-2.3-2.3zM346.2 241.6l2.3 2.3l-2.3 2.3l-2.3-2.3zM346.5 227.2l2.3 2.3l-2.3 2.3l-2.3-2.3zM347.5 232.7l2.3 2.3l-2.3 2.3l-2.3-2.3zM348.2 239.0l2.3 2.3l-2.3 2.3l-2.3-2.3zM349.2 240.6l2.3 2.3l-2.3 2.3l-2.3-2.3zM349.2 230.3l2.3 2.3l-2.3 2.3l-2.3-2.3zM350.7 233.7l2.3 2.3l-2.3 2.3l-2.3-2.3zM350.9 225.9l2.3 2.3l-2.3 2.3l-2.3-2.3zM351.6 249.0l2.3 2.3l-2.3 2.3l-2.3-2.3zM352.6 239.2l2.3 2.3l-2.3 2.3l-2.3-2.3zM353.3 223.4l2.3 2.3l-2.3 2.3l-2.3-2.3zM353.8 233.3l2.3 2.3l-2.3 2.3l-2.3-2.3zM354.4 239.7l2.3 2.3l-2.3 2.3l-2.3-2.3zM355.3 237.6l2.3 2.3l-2.3 2.3l-2.3-2.3zM356.8 249.8l2.3 2.3l-2.3 2.3l-2.3-2.3zM357.7 245.7l2.3 2.3l-2.3 2.3l-2.3-2.3zM358.1 228.5l2.3 2.3l-2.3 2.3l-2.3-2.3zM359.0 232.5l2.3 2.3l-2.3 2.3l-2.3-2.3zM359.3 221.8l2.3 2.3l-2.3 2.3l-2.3-2.3zM360.2 235.5l2.3 2.3l-2.3 2.3l-2.3-2.3zM361.0 234.7l2.3 2.3l-2.3 2.3l-2.3-2.3zM361.4 257.6l2.3 2.3l-2.3 2.3l-2.3-2.3zM362.2 234.2l2.3 2.3l-2.3 2.3l-2.3-2.3zM363.2 214.5l2.3 2.3l-2.3 2.3l-2.3-2.3zM363.9 227.3l2.3 2.3l-2.3 2.3l-2.3-2.3zM364.4 234.3l2.3 2.3l-2.3 2.3l-2.3-2.3zM365.6 222.0l2.3 2.3l-2.3 2.3l-2.3-2.3zM366.2 225.5l2.3 2.3l-2.3 2.3l-2.3-2.3zM367.3 230.0l2.3 2.3l-2.3 2.3l-2.3-2.3zM367.8 236.4l2.3 2.3l-2.3 2.3l-2.3-2.3zM368.4 231.8l2.3 2.3l-2.3 2.3l-2.3-2.3zM369.3 225.3l2.3 2.3l-2.3 2.3l-2.3-2.3zM370.0 240.4l2.3 2.3l-2.3 2.3l-2.3-2.3zM370.6 228.5l2.3 2.3l-2.3 2.3l-2.3-2.3zM371.5 228.8l2.3 2.3l-2.3 2.3l-2.3-2.3zM372.6 220.9l2.3 2.3l-2.3 2.3l-2.3-2.3zM373.3 226.3l2.3 2.3l-2.3 2.3l-2.3-2.3zM374.2 239.2l2.3 2.3l-2.3 2.3l-2.3-2.3zM374.1 218.8l2.3 2.3l-2.3 2.3l-2.3-2.3zM375.3 232.7l2.3 2.3l-2.3 2.3l-2.3-2.3zM376.0 239.7l2.3 2.3l-2.3 2.3l-2.3-2.3zM377.0 229.9l2.3 2.3l-2.3 2.3l-2.3-2.3zM377.5 235.4l2.3 2.3l-2.3 2.3l-2.3-2.3zM378.3 223.1l2.3 2.3l-2.3 2.3l-2.3-2.3zM379.4 244.9l2.3 2.3l-2.3 2.3l-2.3-2.3zM380.0 243.0l2.3 2.3l-2.3 2.3l-2.3-2.3zM380.4 235.2l2.3 2.3l-2.3 2.3l-2.3-2.3zM381.9 217.2l2.3 2.3l-2.3 2.3l-2.3-2.3zM382.5 223.5l2.3 2.3l-2.3 2.3l-2.3-2.3zM382.8 241.6l2.3 2.3l-2.3 2.3l-2.3-2.3zM384.0 248.2l2.3 2.3l-2.3 2.3l-2.3-2.3zM384.3 235.3l2.3 2.3l-2.3 2.3l-2.3-2.3zM385.6 243.8l2.3 2.3l-2.3 2.3l-2.3-2.3zM386.0 227.0l2.3 2.3l-2.3 2.3l-2.3-2.3zM386.5 230.7l2.3 2.3l-2.3 2.3l-2.3-2.3zM387.4 232.3l2.3 2.3l-2.3 2.3l-2.3-2.3zM388.1 235.9l2.3 2.3l-2.3 2.3l-2.3-2.3zM389.1 218.2l2.3 2.3l-2.3 2.3l-2.3-2.3zM389.9 240.3l2.3 2.3l-2.3 2.3l-2.3-2.3zM390.6 243.6l2.3 2.3l-2.3 2.3l-2.3-2.3zM391.2 221.2l2.3 2.3l-2.3 2.3l-2.3-2.3zM391.0 219.2l2.3 2.3l-2.3 2.3l-2.3-2.3zM392.9 234.3l2.3 2.3l-2.3 2.3l-2.3-2.3zM393.1 225.1l2.3 2.3l-2.3 2.3l-2.3-2.3zM394.5 209.4l2.3 2.3l-2.3 2.3l-2.3-2.3zM395.5 237.7l2.3 2.3l-2.3 2.3l-2.3-2.3zM396.0 231.5l2.3 2.3l-2.3 2.3l-2.3-2.3zM396.5 225.1l2.3 2.3l-2.3 2.3l-2.3-2.3zM397.4 247.6l2.3 2.3l-2.3 2.3l-2.3-2.3zM398.1 229.1l2.3 2.3l-2.3 2.3l-2.3-2.3zM398.8 220.2l2.3 2.3l-2.3 2.3l-2.3-2.3zM399.5 227.1l2.3 2.3l-2.3 2.3l-2.3-2.3zM400.2 215.9l2.3 2.3l-2.3 2.3l-2.3-2.3zM401.6 217.5l2.3 2.3l-2.3 2.3l-2.3-2.3zM402.0 226.9l2.3 2.3l-2.3 2.3l-2.3-2.3zM403.0 217.4l2.3 2.3l-2.3 2.3l-2.3-2.3zM403.4 217.3l2.3 2.3l-2.3 2.3l-2.3-2.3zM404.3 235.4l2.3 2.3l-2.3 2.3l-2.3-2.3zM405.0 226.9l2.3 2.3l-2.3 2.3l-2.3-2.3zM405.9 225.2l2.3 2.3l-2.3 2.3l-2.3-2.3zM406.8 221.4l2.3 2.3l-2.3 2.3l-2.3-2.3zM407.4 219.7l2.3 2.3l-2.3 2.3l-2.3-2.3zM407.9 227.2l2.3 2.3l-2.3 2.3l-2.3-2.3zM408.6 212.7l2.3 2.3l-2.3 2.3l-2.3-2.3zM410.1 228.4l2.3 2.3l-2.3 2.3l-2.3-2.3zM410.3 202.0l2.3 2.3l-2.3 2.3l-2.3-2.3zM411.0 207.1l2.3 2.3l-2.3 2.3l-2.3-2.3zM412.3 195.9l2.3 2.3l-2.3 2.3l-2.3-2.3zM412.9 204.0l2.3 2.3l-2.3 2.3l-2.3-2.3zM413.5 210.6l2.3 2.3l-2.3 2.3l-2.3-2.3zM414.0 217.9l2.3 2.3l-2.3 2.3l-2.3-2.3zM415.6 197.8l2.3 2.3l-2.3 2.3l-2.3-2.3zM415.8 202.8l2.3 2.3l-2.3 2.3l-2.3-2.3zM416.6 198.6l2.3 2.3l-2.3 2.3l-2.3-2.3zM417.1 194.4l2.3 2.3l-2.3 2.3l-2.3-2.3zM417.5 189.8l2.3 2.3l-2.3 2.3l-2.3-2.3zM418.3 200.5l2.3 2.3l-2.3 2.3l-2.3-2.3zM419.6 184.0l2.3 2.3l-2.3 2.3l-2.3-2.3zM420.3 200.2l2.3 2.3l-2.3 2.3l-2.3-2.3zM420.9 199.2l2.3 2.3l-2.3 2.3l-2.3-2.3zM421.4 193.0l2.3 2.3l-2.3 2.3l-2.3-2.3zM422.1 189.8l2.3 2.3l-2.3 2.3l-2.3-2.3zM423.2 186.5l2.3 2.3l-2.3 2.3l-2.3-2.3zM423.6 216.0l2.3 2.3l-2.3 2.3l-2.3-2.3zM425.0 187.4l2.3 2.3l-2.3 2.3l-2.3-2.3zM425.9 213.9l2.3 2.3l-2.3 2.3l-2.3-2.3zM427.1 205.8l2.3 2.3l-2.3 2.3l-2.3-2.3zM427.3 197.7l2.3 2.3l-2.3 2.3l-2.3-2.3zM427.6 191.4l2.3 2.3l-2.3 2.3l-2.3-2.3zM428.3 212.1l2.3 2.3l-2.3 2.3l-2.3-2.3zM428.3 219.2l2.3 2.3l-2.3 2.3l-2.3-2.3zM429.9 196.3l2.3 2.3l-2.3 2.3l-2.3-2.3zM430.8 203.2l2.3 2.3l-2.3 2.3l-2.3-2.3zM431.9 216.5l2.3 2.3l-2.3 2.3l-2.3-2.3zM432.6 211.2l2.3 2.3l-2.3 2.3l-2.3-2.3zM433.3 227.3l2.3 2.3l-2.3 2.3l-2.3-2.3zM434.0 205.2l2.3 2.3l-2.3 2.3l-2.3-2.3zM434.9 216.3l2.3 2.3l-2.3 2.3l-2.3-2.3zM435.9 201.2l2.3 2.3l-2.3 2.3l-2.3-2.3zM435.9 232.3l2.3 2.3l-2.3 2.3l-2.3-2.3zM436.8 207.8l2.3 2.3l-2.3 2.3l-2.3-2.3zM437.3 195.4l2.3 2.3l-2.3 2.3l-2.3-2.3zM438.9 215.0l2.3 2.3l-2.3 2.3l-2.3-2.3zM439.6 215.7l2.3 2.3l-2.3 2.3l-2.3-2.3zM440.2 234.9l2.3 2.3l-2.3 2.3l-2.3-2.3zM440.4 215.4l2.3 2.3l-2.3 2.3l-2.3-2.3zM441.6 219.1l2.3 2.3l-2.3 2.3l-2.3-2.3zM442.2 225.2l2.3 2.3l-2.3 2.3l-2.3-2.3zM443.0 234.7l2.3 2.3l-2.3 2.3l-2.3-2.3zM443.7 220.4l2.3 2.3l-2.3 2.3l-2.3-2.3zM444.7 230.7l2.3 2.3l-2.3 2.3l-2.3-2.3zM445.2 226.3l2.3 2.3l-2.3 2.3l-2.3-2.3zM446.3 219.2l2.3 2.3l-2.3 2.3l-2.3-2.3zM446.9 222.8l2.3 2.3l-2.3 2.3l-2.3-2.3zM447.5 222.5l2.3 2.3l-2.3 2.3l-2.3-2.3zM448.3 214.0l2.3 2.3l-2.3 2.3l-2.3-2.3zM449.0 233.2l2.3 2.3l-2.3 2.3l-2.3-2.3zM450.1 209.8l2.3 2.3l-2.3 2.3l-2.3-2.3zM450.5 232.8l2.3 2.3l-2.3 2.3l-2.3-2.3zM451.5 230.8l2.3 2.3l-2.3 2.3l-2.3-2.3zM452.0 221.3l2.3 2.3l-2.3 2.3l-2.3-2.3zM452.5 215.1l2.3 2.3l-2.3 2.3l-2.3-2.3zM453.9 219.9l2.3 2.3l-2.3 2.3l-2.3-2.3zM454.1 226.2l2.3 2.3l-2.3 2.3l-2.3-2.3zM455.4 228.6l2.3 2.3l-2.3 2.3l-2.3-2.3zM456.1 224.5l2.3 2.3l-2.3 2.3l-2.3-2.3zM456.2 230.8l2.3 2.3l-2.3 2.3l-2.3-2.3zM457.2 216.9l2.3 2.3l-2.3 2.3l-2.3-2.3zM458.1 224.1l2.3 2.3l-2.3 2.3l-2.3-2.3zM458.7 208.0l2.3 2.3l-2.3 2.3l-2.3-2.3zM459.4 229.2l2.3 2.3l-2.3 2.3l-2.3-2.3zM460.7 224.0l2.3 2.3l-2.3 2.3l-2.3-2.3zM461.2 219.2l2.3 2.3l-2.3 2.3l-2.3-2.3zM462.1 233.7l2.3 2.3l-2.3 2.3l-2.3-2.3zM462.7 229.9l2.3 2.3l-2.3 2.3l-2.3-2.3zM463.6 198.7l2.3 2.3l-2.3 2.3l-2.3-2.3zM464.1 224.8l2.3 2.3l-2.3 2.3l-2.3-2.3zM465.1 211.8l2.3 2.3l-2.3 2.3l-2.3-2.3zM466.0 234.9l2.3 2.3l-2.3 2.3l-2.3-2.3zM466.6 248.2l2.3 2.3l-2.3 2.3l-2.3-2.3zM467.2 221.5l2.3 2.3l-2.3 2.3l-2.3-2.3zM467.8 227.3l2.3 2.3l-2.3 2.3l-2.3-2.3zM468.9 224.9l2.3 2.3l-2.3 2.3l-2.3-2.3zM469.7 230.8l2.3 2.3l-2.3 2.3l-2.3-2.3zM470.3 233.9l2.3 2.3l-2.3 2.3l-2.3-2.3zM470.9 240.2l2.3 2.3l-2.3 2.3l-2.3-2.3zM472.1 220.2l2.3 2.3l-2.3 2.3l-2.3-2.3zM473.4 243.7l2.3 2.3l-2.3 2.3l-2.3-2.3zM473.3 221.6l2.3 2.3l-2.3 2.3l-2.3-2.3zM474.3 232.9l2.3 2.3l-2.3 2.3l-2.3-2.3zM475.1 241.3l2.3 2.3l-2.3 2.3l-2.3-2.3zM474.9 237.8l2.3 2.3l-2.3 2.3l-2.3-2.3zM476.5 223.4l2.3 2.3l-2.3 2.3l-2.3-2.3zM477.0 225.9l2.3 2.3l-2.3 2.3l-2.3-2.3zM478.4 228.5l2.3 2.3l-2.3 2.3l-2.3-2.3zM478.7 232.6l2.3 2.3l-2.3 2.3l-2.3-2.3zM479.3 243.7l2.3 2.3l-2.3 2.3l-2.3-2.3zM480.2 222.1l2.3 2.3l-2.3 2.3l-2.3-2.3zM481.1 238.2l2.3 2.3l-2.3 2.3l-2.3-2.3zM481.6 239.7l2.3 2.3l-2.3 2.3l-2.3-2.3zM482.5 239.4l2.3 2.3l-2.3 2.3l-2.3-2.3zM482.9 238.8l2.3 2.3l-2.3 2.3l-2.3-2.3zM484.0 248.4l2.3 2.3l-2.3 2.3l-2.3-2.3zM485.1 239.3l2.3 2.3l-2.3 2.3l-2.3-2.3zM486.2 242.8l2.3 2.3l-2.3 2.3l-2.3-2.3zM486.6 240.3l2.3 2.3l-2.3 2.3l-2.3-2.3zM487.2 251.4l2.3 2.3l-2.3 2.3l-2.3-2.3zM488.2 218.3l2.3 2.3l-2.3 2.3l-2.3-2.3zM488.9 247.0l2.3 2.3l-2.3 2.3l-2.3-2.3zM489.9 233.2l2.3 2.3l-2.3 2.3l-2.3-2.3zM490.5 233.1l2.3 2.3l-2.3 2.3l-2.3-2.3zM490.9 227.0l2.3 2.3l-2.3 2.3l-2.3-2.3zM491.7 219.0l2.3 2.3l-2.3 2.3l-2.3-2.3zM492.5 232.5l2.3 2.3l-2.3 2.3l-2.3-2.3zM493.3 229.8l2.3 2.3l-2.3 2.3l-2.3-2.3zM494.0 240.5l2.3 2.3l-2.3 2.3l-2.3-2.3zM494.5 222.9l2.3 2.3l-2.3 2.3l-2.3-2.3zM494.8 249.1l2.3 2.3l-2.3 2.3l-2.3-2.3zM496.0 238.7l2.3 2.3l-2.3 2.3l-2.3-2.3zM496.4 234.1l2.3 2.3l-2.3 2.3l-2.3-2.3zM497.8 230.0l2.3 2.3l-2.3 2.3l-2.3-2.3zM498.5 229.3l2.3 2.3l-2.3 2.3l-2.3-2.3zM498.8 226.3l2.3 2.3l-2.3 2.3l-2.3-2.3zM500.2 231.6l2.3 2.3l-2.3 2.3l-2.3-2.3zM501.0 236.6l2.3 2.3l-2.3 2.3l-2.3-2.3zM501.6 234.9l2.3 2.3l-2.3 2.3l-2.3-2.3zM502.8 223.8l2.3 2.3l-2.3 2.3l-2.3-2.3zM503.6 234.2l2.3 2.3l-2.3 2.3l-2.3-2.3zM503.5 228.6l2.3 2.3l-2.3 2.3l-2.3-2.3zM504.9 238.1l2.3 2.3l-2.3 2.3l-2.3-2.3zM505.5 253.5l2.3 2.3l-2.3 2.3l-2.3-2.3zM506.2 242.3l2.3 2.3l-2.3 2.3l-2.3-2.3zM507.1 233.9l2.3 2.3l-2.3 2.3l-2.3-2.3zM507.4 222.1l2.3 2.3l-2.3 2.3l-2.3-2.3zM508.2 224.1l2.3 2.3l-2.3 2.3l-2.3-2.3zM508.9 221.6l2.3 2.3l-2.3 2.3l-2.3-2.3zM509.7 243.4l2.3 2.3l-2.3 2.3l-2.3-2.3zM510.6 230.0l2.3 2.3l-2.3 2.3l-2.3-2.3zM511.0 237.4l2.3 2.3l-2.3 2.3l-2.3-2.3zM511.9 231.3l2.3 2.3l-2.3 2.3l-2.3-2.3zM513.1 237.7l2.3 2.3l-2.3 2.3l-2.3-2.3zM513.7 249.5l2.3 2.3l-2.3 2.3l-2.3-2.3zM514.6 230.8l2.3 2.3l-2.3 2.3l-2.3-2.3zM514.7 233.9l2.3 2.3l-2.3 2.3l-2.3-2.3zM515.7 229.7l2.3 2.3l-2.3 2.3l-2.3-2.3zM516.6 244.9l2.3 2.3l-2.3 2.3l-2.3-2.3zM517.5 227.8l2.3 2.3l-2.3 2.3l-2.3-2.3zM518.1 226.8l2.3 2.3l-2.3 2.3l-2.3-2.3zM519.3 224.5l2.3 2.3l-2.3 2.3l-2.3-2.3zM519.8 224.4l2.3 2.3l-2.3 2.3l-2.3-2.3zM520.5 241.3l2.3 2.3l-2.3 2.3l-2.3-2.3zM521.3 260.2l2.3 2.3l-2.3 2.3l-2.3-2.3zM522.3 228.1l2.3 2.3l-2.3 2.3l-2.3-2.3zM522.7 245.6l2.3 2.3l-2.3 2.3l-2.3-2.3zM523.9 239.4l2.3 2.3l-2.3 2.3l-2.3-2.3zM524.5 227.2l2.3 2.3l-2.3 2.3l-2.3-2.3zM525.1 234.6l2.3 2.3l-2.3 2.3l-2.3-2.3zM525.9 235.0l2.3 2.3l-2.3 2.3l-2.3-2.3zM526.8 230.9l2.3 2.3l-2.3 2.3l-2.3-2.3zM527.7 254.5l2.3 2.3l-2.3 2.3l-2.3-2.3zM528.4 220.0l2.3 2.3l-2.3 2.3l-2.3-2.3zM529.0 240.6l2.3 2.3l-2.3 2.3l-2.3-2.3zM529.9 240.2l2.3 2.3l-2.3 2.3l-2.3-2.3zM530.5 232.0l2.3 2.3l-2.3 2.3l-2.3-2.3zM531.6 238.5l2.3 2.3l-2.3 2.3l-2.3-2.3zM531.9 245.1l2.3 2.3l-2.3 2.3l-2.3-2.3zM532.1 238.6l2.3 2.3l-2.3 2.3l-2.3-2.3zM533.9 241.0l2.3 2.3l-2.3 2.3l-2.3-2.3zM534.3 243.5l2.3 2.3l-2.3 2.3l-2.3-2.3zM534.6 219.0l2.3 2.3l-2.3 2.3l-2.3-2.3zM535.7 250.6l2.3 2.3l-2.3 2.3l-2.3-2.3zM536.2 257.8l2.3 2.3l-2.3 2.3l-2.3-2.3zM537.9 246.1l2.3 2.3l-2.3 2.3l-2.3-2.3zM538.2 246.4l2.3 2.3l-2.3 2.3l-2.3-2.3z" fill="#0000fa"/>
<path d="M327.5 237.8 L328.0 237.8 L328.5 237.8 L329.0 237.8 L329.5 237.8 L330.0 237.8 L330.5 237.8 L331.0 237.8 L331.5 237.8 L332.0 237.8 L332.5 237.8 L333.0 237.8 L333.5 237.8 L334.0 237.8 L334.5 237.8 L335.0 237.8 L335.5 237.8 L336.0 237.8 L336.5 237.8 L337.0 237.8 L337.5 237.8 L338.0 237.8 L338.5 237.8 L339.0 237.8 L339.5 237.9 L340.0 237.9 L340.5 237.9 L341.0 237.9 L341.5 237.9 L342.0 237.9 L342.5 237.9 L343.0 237.9 L343.5 237.9 L344.0 237.9 L344.5 237.9 L345.0 237.9 L345.5 237.9 L346.0 237.9 L346.5 237.9 L347.0 237.9 L347.5 237.9 L348.0 237.9 L348.5 237.9 L349.0 237.9 L349.5 237.9 L350.0 237.9 L350.5 237.9 L351.0 237.9 L351.5 237.9 L352.0 237.9 L352.5 237.9 L353.0 237.9 L353.5 237.9 L354.0 238.0 L354.5 238.0 L355.0 238.0 L355.5 238.0 L356.0 238.0 L356.5 238.0 L357.0 238.0 L357.5 238.0 L358.0 238.0 L358.5 238.0 L359.0 238.0 L359.5 238.0 L360.0 238.0 L360.5 238.0 L361.0 238.0 L361.5 238.0 L362.0 238.0 L362.5 238.0 L363.0 238.0 L363.5 238.0 L364.0 238.0 L364.5 238.0 L365.0 238.0 L365.5 238.0 L366.0 238.0 L366.5 238.0 L367.0 238.0 L367.5 238.0 L368.0 238.0 L368.5 238.0 L369.0 238.0 L369.5 238.0 L370.0 238.0 L370.5 238.0 L371.0 238.0 L371.5 238.0 L372.0 238.0 L372.5 238.0 L373.0 238.0 L373.5 238.0 L374.0 238.0 L374.5 238.0 L375.0 238.0 L375.5 238.0 L376.0 238.0 L376.5 238.0 L377.0 238.0 L377.5 238.0 L378.0 238.0 L378.5 238.0 L379.0 238.0 L379.5 238.0 L380.0 238.0 L380.5 238.0 L381.0 237.9 L381.5 237.9 L382.0 237.9 L382.5 237.9 L383.0 237.9 L383.5 237.8 L384.0 237.8 L384.5 237.8 L385.0 237.7 L385.5 237.7 L386.0 237.6 L386.5 237.6 L387.0 237.5 L387.5 237.4 L388.0 237.4 L388.5 237.3 L389.0 237.2 L389.5 237.1 L390.0 237.0 L390.5 236.8 L391.0 236.7 L391.5 236.5 L392.0 236.4 L392.5 236.2 L393.0 236.0 L393.5 235.8 L394.0 235.6 L394.5 235.3 L395.0 235.1 L395.5 234.8 L396.0 234.5 L396.5 234.2 L397.0 233.8 L397.5 233.5 L398.0 233.1 L398.5 232.7 L399.0 232.2 L399.5 231.8 L400.0 231.3 L400.5 230.8 L401.0 230.2 L401.5 229.7 L402.0 229.1 L402.5 228.5 L403.0 227.8 L403.5 227.1 L404.0 226.4 L404.5 225.7 L405.0 225.0 L405.5 224.2 L406.0 223.4 L406.5 222.6 L407.0 221.8 L407.5 220.9 L408.0 220.1 L408.5 219.2 L409.0 218.3 L409.5 217.5 L410.0 216.6 L410.5 215.7 L411.0 214.8 L411.5 213.9 L412.0 213.0 L412.5 212.1 L413.0 211.3 L413.5 210.4 L414.0 209.6 L414.5 208.8 L415.0 208.1 L415.5 207.3 L416.0 206.6 L416.5 205.9 L417.0 205.3 L417.5 204.7 L418.0 204.2 L418.5 203.7 L419.0 203.3 L419.5 202.9 L420.0 202.6 L420.5 202.3 L421.0 202.1 L421.5 201.9 L422.0 201.8 L422.5 201.8 L423.0 201.8 L423.5 201.9 L424.0 202.1 L424.5 202.3 L425.0 202.6 L425.5 202.9 L426.0 203.3 L426.5 203.8 L427.0 204.3 L427.5 204.8 L428.0 205.4 L428.5 206.0 L429.0 206.7 L429.5 207.4 L430.0 208.2 L430.5 209.0 L431.0 209.8 L431.5 210.6 L432.0 211.4 L432.5 212.3 L433.0 213.2 L433.5 214.1 L434.0 215.0 L434.5 215.9 L435.0 216.8 L435.5 217.7 L436.0 218.6 L436.5 219.5 L437.0 220.3 L437.5 221.2 L438.0 222.1 L438.5 222.9 L439.0 223.7 L439.5 224.5 L440.0 225.3 L440.5 226.0 L441.0 226.8 L441.5 227.5 L442.0 228.1 L442.5 228.8 L443.0 229.4 L443.5 230.0 L444.0 230.6 L444.5 231.2 L445.0 231.7 L445.5 232.2 L446.0 232.6 L446.5 233.1 L447.0 233.5 L447.5 233.9 L448.0 234.3 L448.5 234.6 L449.0 235.0 L449.5 235.3 L450.0 235.6 L450.5 235.8 L451.0 236.1 L451.5 236.3 L452.0 236.5 L452.5 236.7 L453.0 236.9 L453.5 237.1 L454.0 237.2 L454.5 237.4 L455.0 237.5 L455.5 237.6 L456.0 237.7 L456.5 237.8 L457.0 237.9 L457.5 238.0 L458.0 238.1 L458.5 238.2 L459.0 238.2 L459.5 238.3 L460.0 238.4 L460.5 238.4 L461.0 238.5 L461.5 238.5 L462.0 238.5 L462.5 238.6 L463.0 238.6 L463.5 238.6 L464.0 238.6 L464.5 238.7 L465.0 238.7 L465.5 238.7 L466.0 238.7 L466.5 238.8 L467.0 238.8 L467.5 238.8 L468.0 238.8 L468.5 238.8 L469.0 238.8 L469.5 238.8 L470.0 238.8 L470.5 238.9 L471.0 238.9 L471.5 238.9 L472.0 238.9 L472.5 238.9 L473.0 238.9 L473.5 238.9 L474.0 238.9 L474.5 238.9 L475.0 238.9 L475.5 238.9 L476.0 238.9 L476.5 238.9 L477.0 239.0 L477.5 239.0 L478.0 239.0 L478.5 239.0 L479.0 239.0 L479.5 239.0 L480.0 239.0 L480.5 239.0 L481.0 239.0 L481.5 239.0 L482.0 239.0 L482.5 239.0 L483.0 239.0 L483.5 239.0 L484.0 239.0 L484.5 239.0 L485.0 239.1 L485.5 239.1 L486.0 239.1 L486.5 239.1 L487.0 239.1 L487.5 239.1 L488.0 239.1 L488.5 239.1 L489.0 239.1 L489.5 239.1 L490.0 239.1 L490.5 239.1 L491.0 239.1 L491.5 239.1 L492.0 239.1 L492.5 239.1 L493.0 239.1 L493.5 239.1 L494.0 239.2 L494.5 239.2 L495.0 239.2 L495.5 239.2 L496.0 239.2 L496.5 239.2 L497.0 239.2 L497.5 239.2 L498.0 239.2 L498.5 239.2 L499.0 239.2 L499.5 239.2 L500.0 239.2 L500.5 239.2 L501.0 239.2 L501.5 239.2 L502.0 239.2 L502.5 239.2 L503.0 239.2 L503.5 239.2 L504.0 239.3 L504.5 239.3 L505.0 239.3 L505.5 239.3 L506.0 239.3 L506.5 239.3 L507.0 239.3 L507.5 239.3 L508.0 239.3 L508.5 239.3 L509.0 239.3 L509.5 239.3 L510.0 239.3 L510.5 239.3 L511.0 239.3 L511.5 239.3 L512.0 239.3 L512.5 239.3 L513.0 239.3 L513.5 239.3 L514.0 239.4 L514.5 239.4 L515.0 239.4 L515.5 239.4 L516.0 239.4 L516.5 239.4 L517.0 239.4 L517.5 239.4 L518.0 239.4 L518.5 239.4 L519.0 239.4 L519.5 239.4 L520.0 239.4 L520.5 239.4 L521.0 239.4 L521.5 239.4 L522.0 239.4 L522.5 239.4 L523.0 239.4 L523.5 239.4 L524.0 239.4 L524.5 239.4 L525.0 239.5 L525.5 239.5 L526.0 239.5 L526.5 239.5 L527.0 239.5 L527.5 239.5 L528.0 239.5 L528.5 239.5 L529.0 239.5 L529.5 239.5 L530.0 239.5 L530.5 239.5 L531.0 239.5 L531.5 239.5 L532.0 239.5 L532.5 239.5 L533.0 239.5 L533.5 239.5 L534.0 239.5 L534.5 239.5 L535.0 239.5 L535.5 239.5 L536.0 239.6 L536.5 239.6 L537.0 239.6 L537.5 239.6 L538.0 239.6" fill="none" stroke="#0000fa" stroke-width="1.3"/>
<path d="M327.5 237.8 L328.0 237.8 L328.5 237.8 L329.0 237.8 L329.5 237.8 L330.0 237.8 L330.5 237.8 L331.0 237.8 L331.5 237.8 L332.0 237.8 L332.5 237.8 L333.0 237.8 L333.5 237.8 L334.0 237.8 L334.5 237.8 L335.0 237.8 L335.5 237.8 L336.0 237.8 L336.5 237.8 L337.0 237.8 L337.5 237.9 L338.0 237.9 L338.5 237.9 L339.0 237.9 L339.5 237.9 L340.0 237.9 L340.5 237.9 L341.0 237.9 L341.5 237.9 L342.0 237.9 L342.5 237.9 L343.0 237.9 L343.5 237.9 L344.0 237.9 L344.5 237.9 L345.0 237.9 L345.5 237.9 L346.0 237.9 L346.5 237.9 L347.0 237.9 L347.5 237.9 L348.0 237.9 L348.5 237.9 L349.0 237.9 L349.5 237.9 L350.0 238.0 L350.5 238.0 L351.0 238.0 L351.5 238.0 L352.0 238.0 L352.5 238.0 L353.0 238.0 L353.5 238.0 L354.0 238.0 L354.5 238.0 L355.0 238.0 L355.5 238.0 L356.0 238.0 L356.5 238.0 L357.0 238.0 L357.5 238.0 L358.0 238.0 L358.5 238.0 L359.0 238.0 L359.5 238.0 L360.0 238.0 L360.5 238.0 L361.0 238.0 L361.5 238.0 L362.0 238.0 L362.5 238.0 L363.0 238.0 L363.5 238.1 L364.0 238.1 L364.5 238.1 L365.0 238.1 L365.5 238.1 L366.0 238.1 L366.5 238.1 L367.0 238.1 L367.5 238.1 L368.0 238.1 L368.5 238.1 L369.0 238.1 L369.5 238.1 L370.0 238.1 L370.5 238.1 L371.0 238.1 L371.5 238.1 L372.0 238.1 L372.5 238.1 L373.0 238.1 L373.5 238.1 L374.0 238.1 L374.5 238.1 L375.0 238.1 L375.5 238.1 L376.0 238.1 L376.5 238.1 L377.0 238.1 L377.5 238.2 L378.0 238.2 L378.5 238.2 L379.0 238.2 L379.5 238.2 L380.0 238.2 L380.5 238.2 L381.0 238.2 L381.5 238.2 L382.0 238.2 L382.5 238.2 L383.0 238.2 L383.5 238.2 L384.0 238.2 L384.5 238.2 L385.0 238.2 L385.5 238.2 L386.0 238.2 L386.5 238.2 L387.0 238.2 L387.5 238.2 L388.0 238.2 L388.5 238.2 L389.0 238.2 L389.5 238.2 L390.0 238.2 L390.5 238.2 L391.0 238.2 L391.5 238.2 L392.0 238.2 L392.5 238.2 L393.0 238.2 L393.5 238.2 L394.0 238.2 L394.5 238.2 L395.0 238.3 L395.5 238.3 L396.0 238.3 L396.5 238.3 L397.0 238.3 L397.5 238.3 L398.0 238.3 L398.5 238.3 L399.0 238.3 L399.5 238.3 L400.0 238.3 L400.5 238.3 L401.0 238.3 L401.5 238.3 L402.0 238.3 L402.5 238.3 L403.0 238.3 L403.5 238.3 L404.0 238.3 L404.5 238.3 L405.0 238.3 L405.5 238.3 L406.0 238.3 L406.5 238.3 L407.0 238.3 L407.5 238.3 L408.0 238.3 L408.5 238.3 L409.0 238.3 L409.5 238.3 L410.0 238.3 L410.5 238.3 L411.0 238.3 L411.5 238.3 L412.0 238.3 L412.5 238.3 L413.0 238.3 L413.5 238.3 L414.0 238.3 L414.5 238.3 L415.0 238.3 L415.5 238.3 L416.0 238.3 L416.5 238.3 L417.0 238.3 L417.5 238.3 L418.0 238.3 L418.5 238.3 L419.0 238.3 L419.5 238.3 L420.0 238.2 L420.5 238.2 L421.0 238.2 L421.5 238.2 L422.0 238.2 L422.5 238.2 L423.0 238.2 L423.5 238.2 L424.0 238.2 L424.5 238.2 L425.0 238.2 L425.5 238.1 L426.0 238.1 L426.5 238.1 L427.0 238.1 L427.5 238.1 L428.0 238.0 L428.5 238.0 L429.0 238.0 L429.5 237.9 L430.0 237.9 L430.5 237.8 L431.0 237.8 L431.5 237.7 L432.0 237.7 L432.5 237.6 L433.0 237.5 L433.5 237.5 L434.0 237.4 L434.5 237.3 L435.0 237.2 L435.5 237.1 L436.0 237.0 L436.5 236.8 L437.0 236.7 L437.5 236.6 L438.0 236.4 L438.5 236.2 L439.0 236.1 L439.5 235.9 L440.0 235.7 L440.5 235.5 L441.0 235.3 L441.5 235.0 L442.0 234.8 L442.5 234.5 L443.0 234.3 L443.5 234.0 L444.0 233.7 L444.5 233.4 L445.0 233.1 L445.5 232.8 L446.0 232.5 L446.5 232.2 L447.0 231.8 L447.5 231.5 L448.0 231.2 L448.5 230.8 L449.0 230.5 L449.5 230.2 L450.0 229.9 L450.5 229.5 L451.0 229.2 L451.5 228.9 L452.0 228.6 L452.5 228.4 L453.0 228.1 L453.5 227.9 L454.0 227.6 L454.5 227.5 L455.0 227.3 L455.5 227.2 L456.0 227.0 L456.5 227.0 L457.0 226.9 L457.5 226.9 L458.0 226.9 L458.5 227.0 L459.0 227.1 L459.5 227.2 L460.0 227.3 L460.5 227.5 L461.0 227.7 L461.5 227.9 L462.0 228.2 L462.5 228.4 L463.0 228.7 L463.5 229.0 L464.0 229.3 L464.5 229.7 L465.0 230.0 L465.5 230.3 L466.0 230.7 L466.5 231.0 L467.0 231.3 L467.5 231.7 L468.0 232.0 L468.5 232.4 L469.0 232.7 L469.5 233.0 L470.0 233.3 L470.5 233.6 L471.0 233.9 L471.5 234.2 L472.0 234.5 L472.5 234.8 L473.0 235.1 L473.5 235.3 L474.0 235.5 L474.5 235.8 L475.0 236.0 L475.5 236.2 L476.0 236.4 L476.5 236.6 L477.0 236.7 L477.5 236.9 L478.0 237.1 L478.5 237.2 L479.0 237.3 L479.5 237.5 L480.0 237.6 L480.5 237.7 L481.0 237.8 L481.5 237.9 L482.0 238.0 L482.5 238.0 L483.0 238.1 L483.5 238.2 L484.0 238.2 L484.5 238.3 L485.0 238.4 L485.5 238.4 L486.0 238.4 L486.5 238.5 L487.0 238.5 L487.5 238.6 L488.0 238.6 L488.5 238.6 L489.0 238.7 L489.5 238.7 L490.0 238.7 L490.5 238.7 L491.0 238.8 L491.5 238.8 L492.0 238.8 L492.5 238.8 L493.0 238.8 L493.5 238.8 L494.0 238.9 L494.5 238.9 L495.0 238.9 L495.5 238.9 L496.0 238.9 L496.5 238.9 L497.0 238.9 L497.5 239.0 L498.0 239.0 L498.5 239.0 L499.0 239.0 L499.5 239.0 L500.0 239.0 L500.5 239.0 L501.0 239.0 L501.5 239.0 L502.0 239.0 L502.5 239.1 L503.0 239.1 L503.5 239.1 L504.0 239.1 L504.5 239.1 L505.0 239.1 L505.5 239.1 L506.0 239.1 L506.5 239.1 L507.0 239.1 L507.5 239.1 L508.0 239.2 L508.5 239.2 L509.0 239.2 L509.5 239.2 L510.0 239.2 L510.5 239.2 L511.0 239.2 L511.5 239.2 L512.0 239.2 L512.5 239.2 L513.0 239.2 L513.5 239.2 L514.0 239.2 L514.5 239.2 L515.0 239.3 L515.5 239.3 L516.0 239.3 L516.5 239.3 L517.0 239.3 L517.5 239.3 L518.0 239.3 L518.5 239.3 L519.0 239.3 L519.5 239.3 L520.0 239.3 L520.5 239.3 L521.0 239.3 L521.5 239.3 L522.0 239.3 L522.5 239.3 L523.0 239.4 L523.5 239.4 L524.0 239.4 L524.5 239.4 L525.0 239.4 L525.5 239.4 L526.0 239.4 L526.5 239.4 L527.0 239.4 L527.5 239.4 L528.0 239.4 L528.5 239.4 L529.0 239.4 L529.5 239.4 L530.0 239.4 L530.5 239.4 L531.0 239.4 L531.5 239.5 L532.0 239.5 L532.5 239.5 L533.0 239.5 L533.5 239.5 L534.0 239.5 L534.5 239.5 L535.0 239.5 L535.5 239.5 L536.0 239.5 L536.5 239.5 L537.0 239.5 L537.5 239.5 L538.0 239.5" fill="none" stroke="#0000fa" stroke-width="1.3"/>
<path d="M327.5 235.6 L328.0 235.6 L328.5 235.6 L329.0 235.6 L329.5 235.6 L330.0 235.6 L330.5 235.6 L331.0 235.6 L331.5 235.6 L332.0 235.6 L332.5 235.6 L333.0 235.6 L333.5 235.6 L334.0 235.6 L334.5 235.6 L335.0 235.6 L335.5 235.6 L336.0 235.6 L336.5 235.6 L337.0 235.6 L337.5 235.6 L338.0 235.6 L338.5 235.6 L339.0 235.6 L339.5 235.6 L340.0 235.6 L340.5 235.6 L341.0 235.6 L341.5 235.6 L342.0 235.6 L342.5 235.6 L343.0 235.6 L343.5 235.6 L344.0 235.6 L344.5 235.6 L345.0 235.6 L345.5 235.6 L346.0 235.6 L346.5 235.6 L347.0 235.6 L347.5 235.6 L348.0 235.6 L348.5 235.6 L349.0 235.6 L349.5 235.6 L350.0 235.6 L350.5 235.6 L351.0 235.6 L351.5 235.6 L352.0 235.6 L352.5 235.6 L353.0 235.6 L353.5 235.6 L354.0 235.6 L354.5 235.6 L355.0 235.6 L355.5 235.6 L356.0 235.6 L356.5 235.6 L357.0 235.6 L357.5 235.6 L358.0 235.6 L358.5 235.6 L359.0 235.6 L359.5 235.6 L360.0 235.6 L360.5 235.6 L361.0 235.6 L361.5 235.6 L362.0 235.6 L362.5 235.6 L363.0 235.6 L363.5 235.6 L364.0 235.6 L364.5 235.6 L365.0 235.6 L365.5 235.6 L366.0 235.6 L366.5 235.6 L367.0 235.6 L367.5 235.6 L368.0 235.6 L368.5 235.6 L369.0 235.6 L369.5 235.6 L370.0 235.6 L370.5 235.6 L371.0 235.6 L371.5 235.6 L372.0 235.6 L372.5 235.6 L373.0 235.6 L373.5 235.6 L374.0 235.6 L374.5 235.6 L375.0 235.6 L375.5 235.6 L376.0 235.6 L376.5 235.6 L377.0 235.6 L377.5 235.5 L378.0 235.5 L378.5 235.5 L379.0 235.5 L379.5 235.4 L380.0 235.4 L380.5 235.4 L381.0 235.3 L381.5 235.3 L382.0 235.2 L382.5 235.2 L383.0 235.1 L383.5 235.1 L384.0 235.0 L384.5 235.0 L385.0 234.9 L385.5 234.8 L386.0 234.8 L386.5 234.7 L387.0 234.6 L387.5 234.6 L388.0 234.5 L388.5 234.4 L389.0 234.3 L389.5 234.2 L390.0 234.1 L390.5 234.0 L391.0 233.9 L391.5 233.8 L392.0 233.7 L392.5 233.6 L393.0 233.4 L393.5 233.3 L394.0 233.2 L394.5 233.0 L395.0 232.8 L395.5 232.6 L396.0 232.3 L396.5 231.9 L397.0 231.4 L397.5 230.8 L398.0 230.3 L398.5 229.8 L399.0 229.3 L399.5 228.7 L400.0 228.1 L400.5 227.5 L401.0 226.9 L401.5 226.3 L402.0 225.7 L402.5 225.0 L403.0 224.4 L403.5 223.7 L404.0 223.0 L404.5 222.3 L405.0 221.5 L405.5 220.7 L406.0 219.9 L406.5 219.0 L407.0 218.2 L407.5 217.3 L408.0 216.5 L408.5 215.7 L409.0 214.9 L409.5 214.1 L410.0 213.4 L410.5 212.6 L411.0 211.9 L411.5 211.1 L412.0 210.4 L412.5 209.6 L413.0 208.8 L413.5 208.1 L414.0 207.3 L414.5 206.6 L415.0 205.9 L415.5 205.2 L416.0 204.6 L416.5 204.0 L417.0 203.5 L417.5 203.1 L418.0 202.7 L418.5 202.4 L419.0 202.1 L419.5 201.9 L420.0 201.6 L420.5 201.5 L421.0 201.3 L421.5 201.2 L422.0 201.2 L422.5 201.2 L423.0 201.2 L423.5 201.3 L424.0 201.5 L424.5 201.6 L425.0 201.8 L425.5 202.1 L426.0 202.4 L426.5 202.8 L427.0 203.3 L427.5 203.8 L428.0 204.3 L428.5 204.9 L429.0 205.5 L429.5 206.2 L430.0 206.9 L430.5 207.6 L431.0 208.4 L431.5 209.2 L432.0 209.9 L432.5 210.6 L433.0 211.4 L433.5 212.1 L434.0 212.8 L434.5 213.5 L435.0 214.2 L435.5 214.9 L436.0 215.5 L436.5 216.1 L437.0 216.7 L437.5 217.3 L438.0 217.9 L438.5 218.5 L439.0 219.0 L439.5 219.5 L440.0 220.0 L440.5 220.5 L441.0 221.0 L441.5 221.5 L442.0 221.9 L442.5 222.4 L443.0 222.8 L443.5 223.1 L444.0 223.4 L444.5 223.7 L445.0 223.9 L445.5 224.1 L446.0 224.2 L446.5 224.3 L447.0 224.4 L447.5 224.5 L448.0 224.5 L448.5 224.6 L449.0 224.6 L449.5 224.6 L450.0 224.6 L450.5 224.6 L451.0 224.5 L451.5 224.5 L452.0 224.4 L452.5 224.4 L453.0 224.3 L453.5 224.3 L454.0 224.2 L454.5 224.2 L455.0 224.2 L455.5 224.2 L456.0 224.2 L456.5 224.2 L457.0 224.2 L457.5 224.2 L458.0 224.2 L458.5 224.3 L459.0 224.4 L459.5 224.5 L460.0 224.7 L460.5 224.9 L461.0 225.1 L461.5 225.3 L462.0 225.6 L462.5 225.8 L463.0 226.1 L463.5 226.3 L464.0 226.6 L464.5 226.9 L465.0 227.2 L465.5 227.5 L466.0 227.7 L466.5 228.0 L467.0 228.3 L467.5 228.6 L468.0 228.9 L468.5 229.2 L469.0 229.5 L469.5 229.8 L470.0 230.2 L470.5 230.5 L471.0 230.8 L471.5 231.1 L472.0 231.4 L472.5 231.8 L473.0 232.1 L473.5 232.4 L474.0 232.6 L474.5 232.9 L475.0 233.2 L475.5 233.5 L476.0 233.8 L476.5 234.1 L477.0 234.4 L477.5 234.7 L478.0 235.0 L478.5 235.2 L479.0 235.5 L479.5 235.7 L480.0 235.9 L480.5 236.1 L481.0 236.3 L481.5 236.4 L482.0 236.6 L482.5 236.7 L483.0 236.8 L483.5 237.0 L484.0 237.1 L484.5 237.2 L485.0 237.3 L485.5 237.3 L486.0 237.4 L486.5 237.5 L487.0 237.6 L487.5 237.7 L488.0 237.7 L488.5 237.8 L489.0 237.8 L489.5 237.9 L490.0 238.0 L490.5 238.0 L491.0 238.1 L491.5 238.1 L492.0 238.2 L492.5 238.2 L493.0 238.3 L493.5 238.3 L494.0 238.4 L494.5 238.4 L495.0 238.4 L495.5 238.5 L496.0 238.5 L496.5 238.6 L497.0 238.6 L497.5 238.6 L498.0 238.7 L498.5 238.7 L499.0 238.7 L499.5 238.7 L500.0 238.8 L500.5 238.8 L501.0 238.8 L501.5 238.8 L502.0 238.9 L502.5 238.9 L503.0 238.9 L503.5 238.9 L504.0 238.9 L504.5 239.0 L505.0 239.0 L505.5 239.0 L506.0 239.0 L506.5 239.0 L507.0 239.0 L507.5 239.1 L508.0 239.1 L508.5 239.1 L509.0 239.1 L509.5 239.1 L510.0 239.1 L510.5 239.2 L511.0 239.2 L511.5 239.2 L512.0 239.2 L512.5 239.2 L513.0 239.2 L513.5 239.2 L514.0 239.2 L514.5 239.2 L515.0 239.3 L515.5 239.3 L516.0 239.3 L516.5 239.3 L517.0 239.3 L517.5 239.3 L518.0 239.3 L518.5 239.3 L519.0 239.3 L519.5 239.3 L520.0 239.3 L520.5 239.3 L521.0 239.4 L521.5 239.4 L522.0 239.4 L522.5 239.4 L523.0 239.4 L523.5 239.4 L524.0 239.4 L524.5 239.4 L525.0 239.4 L525.5 239.4 L526.0 239.4 L526.5 239.4 L527.0 239.4 L527.5 239.4 L528.0 239.5 L528.5 239.5 L529.0 239.5 L529.5 239.5 L530.0 239.5 L530.5 239.5 L531.0 239.5 L531.5 239.5 L532.0 239.5 L532.5 239.5 L533.0 239.5 L533.5 239.5 L534.0 239.5 L534.5 239.5 L535.0 239.6 L535.5 239.6 L536.0 239.6 L536.5 239.6 L537.0 239.6 L537.5 239.6 L538.0 239.6" fill="none" stroke="#000" stroke-width="1.25"/>
<text transform="translate(11.5 22.2) scale(1 1.1)" class="pl">a.</text>
<text transform="translate(47.5 27.3) scale(1.02 1.1)" class="ttl">C 1s</text>
<text transform="translate(303.3 26.5) scale(1 1.07)" class="pl">b.</text>
<text transform="translate(341.3 34.2) scale(1.02 1.1)" class="ttl">N 1s</text>
<text x="438.6" y="122" style="font-size:10px;fill:#fff;stroke:#fff;stroke-width:1.8px">b</text>
<text x="438.6" y="122" style="font-size:10px;stroke:#000;stroke-width:0.35px">b</text>
<path d="M191.7 15.80l3.6 3.6l-3.6 3.6l-3.6-3.6z" fill="#009d4c"/>
<text x="203.5" y="21.30" class="lg">SBA-NBDPD</text>
<path d="M191.7 25.90l3.6 3.6l-3.6 3.6l-3.6-3.6z" fill="#0000fa"/>
<text x="203.5" y="31.40" class="lg">SBA-NBDH</text>
<path d="M191.7 36.00l3.6 3.6l-3.6 3.6l-3.6-3.6z" fill="#ff0000"/>
<text x="203.5" y="41.50" class="lg">SBA-Cl</text>
<path d="M191.7 46.10l3.6 3.6l-3.6 3.6l-3.6-3.6z" fill="#000000"/>
<text x="203.5" y="51.60" class="lg">SBA15</text>
<path d="M468.6 31.90l3.6 3.6l-3.6 3.6l-3.6-3.6z" fill="#009d4c"/>
<text x="480.4" y="37.80" class="lg">SBA-NBDPD</text>
<path d="M468.6 42.30l3.6 3.6l-3.6 3.6l-3.6-3.6z" fill="#0000fa"/>
<text x="480.4" y="48.20" class="lg">SBA-NBDH</text>
<text x="140.5" y="294.8" text-anchor="middle" class="ax">Binding energy (eV)</text>
<text x="433.4" y="297.4" text-anchor="middle" class="ax" style="font-size:12.2px">Binding energy (eV)</text>
<text transform="translate(14.2 130.1) rotate(-90)" text-anchor="middle" class="ax">Intensity (a.u.)</text>
<text transform="translate(304.7 135.0) rotate(-90)" text-anchor="middle" class="ax">Intensity (a.u.)</text>
</svg>
</body></html>
